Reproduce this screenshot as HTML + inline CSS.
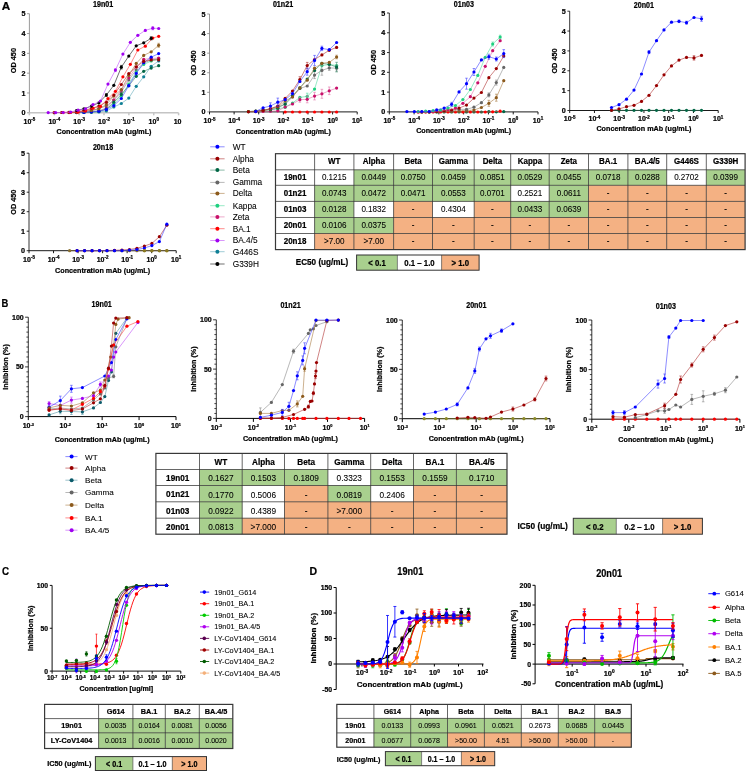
<!DOCTYPE html>
<html><head><meta charset="utf-8"><style>
html,body{margin:0;padding:0;background:#fff;}
svg{display:block;font-family:"Liberation Sans", sans-serif;will-change:transform;}
</style></head><body>
<svg width="747" height="772" viewBox="0 0 747 772">
<rect width="747" height="772" fill="#fff"/>
<text x="0.00" y="0.00" font-size="10.5" text-anchor="start" font-weight="bold" fill="#000" stroke="#000" stroke-width="0.22" transform="translate(1.80 10.00) scale(1.12 1)">A</text>
<text x="0.00" y="0.00" font-size="10.5" text-anchor="start" font-weight="bold" fill="#000" stroke="#000" stroke-width="0.22" transform="translate(1.60 306.80) scale(0.9 1)">B</text>
<text x="0.00" y="0.00" font-size="10.5" text-anchor="start" font-weight="bold" fill="#000" stroke="#000" stroke-width="0.22" transform="translate(2.00 575.20) scale(0.93 1)">C</text>
<text x="309.60" y="575.20" font-size="10.5" text-anchor="start" font-weight="bold" fill="#000" stroke="#000" stroke-width="0.22">D</text>
<line x1="29.40" y1="112.80" x2="29.40" y2="13.70" stroke="#808080" stroke-width="0.8"/>
<line x1="27.10" y1="112.80" x2="29.40" y2="112.80" stroke="#808080" stroke-width="0.8"/>
<text x="25.40" y="115.39" font-size="7.2" text-anchor="end" font-weight="bold" fill="#000" stroke="#000" stroke-width="0.22">0</text>
<line x1="27.10" y1="92.98" x2="29.40" y2="92.98" stroke="#808080" stroke-width="0.8"/>
<text x="25.40" y="95.57" font-size="7.2" text-anchor="end" font-weight="bold" fill="#000" stroke="#000" stroke-width="0.22">1</text>
<line x1="27.10" y1="73.16" x2="29.40" y2="73.16" stroke="#808080" stroke-width="0.8"/>
<text x="25.40" y="75.75" font-size="7.2" text-anchor="end" font-weight="bold" fill="#000" stroke="#000" stroke-width="0.22">2</text>
<line x1="27.10" y1="53.34" x2="29.40" y2="53.34" stroke="#808080" stroke-width="0.8"/>
<text x="25.40" y="55.93" font-size="7.2" text-anchor="end" font-weight="bold" fill="#000" stroke="#000" stroke-width="0.22">3</text>
<line x1="27.10" y1="33.52" x2="29.40" y2="33.52" stroke="#808080" stroke-width="0.8"/>
<text x="25.40" y="36.11" font-size="7.2" text-anchor="end" font-weight="bold" fill="#000" stroke="#000" stroke-width="0.22">4</text>
<line x1="27.10" y1="13.70" x2="29.40" y2="13.70" stroke="#808080" stroke-width="0.8"/>
<text x="25.40" y="16.29" font-size="7.2" text-anchor="end" font-weight="bold" fill="#000" stroke="#000" stroke-width="0.22">5</text>
<line x1="29.40" y1="112.80" x2="178.60" y2="112.80" stroke="#c4c4c4" stroke-width="1.5"/>
<line x1="29.40" y1="112.80" x2="29.40" y2="115.30" stroke="#c4c4c4" stroke-width="1.5"/>
<text x="29.40" y="123.60" font-size="7.0" text-anchor="middle" font-weight="bold" fill="#000" stroke="#000" stroke-width="0.22">10<tspan dy="-2.31" font-size="4.48">-5</tspan></text>
<line x1="54.27" y1="112.80" x2="54.27" y2="115.30" stroke="#c4c4c4" stroke-width="1.5"/>
<text x="54.27" y="123.60" font-size="7.0" text-anchor="middle" font-weight="bold" fill="#000" stroke="#000" stroke-width="0.22">10<tspan dy="-2.31" font-size="4.48">-4</tspan></text>
<line x1="79.13" y1="112.80" x2="79.13" y2="115.30" stroke="#c4c4c4" stroke-width="1.5"/>
<text x="79.13" y="123.60" font-size="7.0" text-anchor="middle" font-weight="bold" fill="#000" stroke="#000" stroke-width="0.22">10<tspan dy="-2.31" font-size="4.48">-3</tspan></text>
<line x1="104.00" y1="112.80" x2="104.00" y2="115.30" stroke="#c4c4c4" stroke-width="1.5"/>
<text x="104.00" y="123.60" font-size="7.0" text-anchor="middle" font-weight="bold" fill="#000" stroke="#000" stroke-width="0.22">10<tspan dy="-2.31" font-size="4.48">-2</tspan></text>
<line x1="128.87" y1="112.80" x2="128.87" y2="115.30" stroke="#c4c4c4" stroke-width="1.5"/>
<text x="128.87" y="123.60" font-size="7.0" text-anchor="middle" font-weight="bold" fill="#000" stroke="#000" stroke-width="0.22">10<tspan dy="-2.31" font-size="4.48">-1</tspan></text>
<line x1="153.73" y1="112.80" x2="153.73" y2="115.30" stroke="#c4c4c4" stroke-width="1.5"/>
<text x="153.73" y="123.60" font-size="7.0" text-anchor="middle" font-weight="bold" fill="#000" stroke="#000" stroke-width="0.22">10<tspan dy="-2.31" font-size="4.48">0</tspan></text>
<line x1="178.60" y1="112.80" x2="178.60" y2="115.30" stroke="#c4c4c4" stroke-width="1.5"/>
<text x="177.60" y="123.60" font-size="7.0" text-anchor="middle" font-weight="bold" fill="#000" stroke="#000" stroke-width="0.22">10</text>
<text x="104.00" y="133.60" font-size="7.2" text-anchor="middle" font-weight="bold" fill="#000" stroke="#000" stroke-width="0.22">Concentration mAb (ug/mL)</text>
<text x="0.00" y="0.00" font-size="8.4" text-anchor="middle" font-weight="bold" fill="#000" stroke="#000" stroke-width="0.22" transform="translate(103.10 7.20) scale(0.85 1)">19n01</text>
<text x="16.20" y="60.60" font-size="7.3" text-anchor="middle" font-weight="bold" fill="#000" stroke="#000" stroke-width="0.22" transform="rotate(-90 16.20 60.60)">OD 450</text>
<line x1="209.50" y1="111.90" x2="209.50" y2="14.00" stroke="#808080" stroke-width="0.8"/>
<line x1="207.20" y1="111.90" x2="209.50" y2="111.90" stroke="#808080" stroke-width="0.8"/>
<text x="205.50" y="114.49" font-size="7.2" text-anchor="end" font-weight="bold" fill="#000" stroke="#000" stroke-width="0.22">0</text>
<line x1="207.20" y1="92.32" x2="209.50" y2="92.32" stroke="#808080" stroke-width="0.8"/>
<text x="205.50" y="94.91" font-size="7.2" text-anchor="end" font-weight="bold" fill="#000" stroke="#000" stroke-width="0.22">1</text>
<line x1="207.20" y1="72.74" x2="209.50" y2="72.74" stroke="#808080" stroke-width="0.8"/>
<text x="205.50" y="75.33" font-size="7.2" text-anchor="end" font-weight="bold" fill="#000" stroke="#000" stroke-width="0.22">2</text>
<line x1="207.20" y1="53.16" x2="209.50" y2="53.16" stroke="#808080" stroke-width="0.8"/>
<text x="205.50" y="55.75" font-size="7.2" text-anchor="end" font-weight="bold" fill="#000" stroke="#000" stroke-width="0.22">3</text>
<line x1="207.20" y1="33.58" x2="209.50" y2="33.58" stroke="#808080" stroke-width="0.8"/>
<text x="205.50" y="36.17" font-size="7.2" text-anchor="end" font-weight="bold" fill="#000" stroke="#000" stroke-width="0.22">4</text>
<line x1="207.20" y1="14.00" x2="209.50" y2="14.00" stroke="#808080" stroke-width="0.8"/>
<text x="205.50" y="16.59" font-size="7.2" text-anchor="end" font-weight="bold" fill="#000" stroke="#000" stroke-width="0.22">5</text>
<line x1="209.50" y1="111.90" x2="357.20" y2="111.90" stroke="#000" stroke-width="0.9"/>
<line x1="209.50" y1="111.90" x2="209.50" y2="114.40" stroke="#000" stroke-width="0.9"/>
<text x="209.50" y="123.40" font-size="7.0" text-anchor="middle" font-weight="bold" fill="#000" stroke="#000" stroke-width="0.22">10<tspan dy="-2.31" font-size="4.48">-5</tspan></text>
<line x1="234.12" y1="111.90" x2="234.12" y2="114.40" stroke="#000" stroke-width="0.9"/>
<text x="234.12" y="123.40" font-size="7.0" text-anchor="middle" font-weight="bold" fill="#000" stroke="#000" stroke-width="0.22">10<tspan dy="-2.31" font-size="4.48">-4</tspan></text>
<line x1="258.73" y1="111.90" x2="258.73" y2="114.40" stroke="#000" stroke-width="0.9"/>
<text x="258.73" y="123.40" font-size="7.0" text-anchor="middle" font-weight="bold" fill="#000" stroke="#000" stroke-width="0.22">10<tspan dy="-2.31" font-size="4.48">-3</tspan></text>
<line x1="283.35" y1="111.90" x2="283.35" y2="114.40" stroke="#000" stroke-width="0.9"/>
<text x="283.35" y="123.40" font-size="7.0" text-anchor="middle" font-weight="bold" fill="#000" stroke="#000" stroke-width="0.22">10<tspan dy="-2.31" font-size="4.48">-2</tspan></text>
<line x1="307.97" y1="111.90" x2="307.97" y2="114.40" stroke="#000" stroke-width="0.9"/>
<text x="307.97" y="123.40" font-size="7.0" text-anchor="middle" font-weight="bold" fill="#000" stroke="#000" stroke-width="0.22">10<tspan dy="-2.31" font-size="4.48">-1</tspan></text>
<line x1="332.58" y1="111.90" x2="332.58" y2="114.40" stroke="#000" stroke-width="0.9"/>
<text x="332.58" y="123.40" font-size="7.0" text-anchor="middle" font-weight="bold" fill="#000" stroke="#000" stroke-width="0.22">10<tspan dy="-2.31" font-size="4.48">0</tspan></text>
<line x1="357.20" y1="111.90" x2="357.20" y2="114.40" stroke="#000" stroke-width="0.9"/>
<text x="357.20" y="123.40" font-size="7.0" text-anchor="middle" font-weight="bold" fill="#000" stroke="#000" stroke-width="0.22">10<tspan dy="-2.31" font-size="4.48">1</tspan></text>
<text x="283.35" y="134.10" font-size="7.2" text-anchor="middle" font-weight="bold" fill="#000" stroke="#000" stroke-width="0.22">Concentration mAb (ug/mL)</text>
<text x="0.00" y="0.00" font-size="8.4" text-anchor="middle" font-weight="bold" fill="#000" stroke="#000" stroke-width="0.22" transform="translate(283.00 7.20) scale(0.85 1)">01n21</text>
<text x="196.30" y="63.00" font-size="7.3" text-anchor="middle" font-weight="bold" fill="#000" stroke="#000" stroke-width="0.22" transform="rotate(-90 196.30 63.00)">OD 450</text>
<line x1="389.30" y1="111.90" x2="389.30" y2="13.00" stroke="#000" stroke-width="0.8"/>
<line x1="387.00" y1="111.90" x2="389.30" y2="111.90" stroke="#000" stroke-width="0.8"/>
<text x="385.30" y="114.49" font-size="7.2" text-anchor="end" font-weight="bold" fill="#000" stroke="#000" stroke-width="0.22">0</text>
<line x1="387.00" y1="92.12" x2="389.30" y2="92.12" stroke="#000" stroke-width="0.8"/>
<text x="385.30" y="94.71" font-size="7.2" text-anchor="end" font-weight="bold" fill="#000" stroke="#000" stroke-width="0.22">1</text>
<line x1="387.00" y1="72.34" x2="389.30" y2="72.34" stroke="#000" stroke-width="0.8"/>
<text x="385.30" y="74.93" font-size="7.2" text-anchor="end" font-weight="bold" fill="#000" stroke="#000" stroke-width="0.22">2</text>
<line x1="387.00" y1="52.56" x2="389.30" y2="52.56" stroke="#000" stroke-width="0.8"/>
<text x="385.30" y="55.15" font-size="7.2" text-anchor="end" font-weight="bold" fill="#000" stroke="#000" stroke-width="0.22">3</text>
<line x1="387.00" y1="32.78" x2="389.30" y2="32.78" stroke="#000" stroke-width="0.8"/>
<text x="385.30" y="35.37" font-size="7.2" text-anchor="end" font-weight="bold" fill="#000" stroke="#000" stroke-width="0.22">4</text>
<line x1="387.00" y1="13.00" x2="389.30" y2="13.00" stroke="#000" stroke-width="0.8"/>
<text x="385.30" y="15.59" font-size="7.2" text-anchor="end" font-weight="bold" fill="#000" stroke="#000" stroke-width="0.22">5</text>
<line x1="389.30" y1="111.90" x2="538.00" y2="111.90" stroke="#000" stroke-width="0.9"/>
<line x1="389.30" y1="111.90" x2="389.30" y2="114.40" stroke="#000" stroke-width="0.9"/>
<text x="389.30" y="122.70" font-size="7.0" text-anchor="middle" font-weight="bold" fill="#000" stroke="#000" stroke-width="0.22">10<tspan dy="-2.31" font-size="4.48">-5</tspan></text>
<line x1="414.08" y1="111.90" x2="414.08" y2="114.40" stroke="#000" stroke-width="0.9"/>
<text x="414.08" y="122.70" font-size="7.0" text-anchor="middle" font-weight="bold" fill="#000" stroke="#000" stroke-width="0.22">10<tspan dy="-2.31" font-size="4.48">-4</tspan></text>
<line x1="438.87" y1="111.90" x2="438.87" y2="114.40" stroke="#000" stroke-width="0.9"/>
<text x="438.87" y="122.70" font-size="7.0" text-anchor="middle" font-weight="bold" fill="#000" stroke="#000" stroke-width="0.22">10<tspan dy="-2.31" font-size="4.48">-3</tspan></text>
<line x1="463.65" y1="111.90" x2="463.65" y2="114.40" stroke="#000" stroke-width="0.9"/>
<text x="463.65" y="122.70" font-size="7.0" text-anchor="middle" font-weight="bold" fill="#000" stroke="#000" stroke-width="0.22">10<tspan dy="-2.31" font-size="4.48">-2</tspan></text>
<line x1="488.43" y1="111.90" x2="488.43" y2="114.40" stroke="#000" stroke-width="0.9"/>
<text x="488.43" y="122.70" font-size="7.0" text-anchor="middle" font-weight="bold" fill="#000" stroke="#000" stroke-width="0.22">10<tspan dy="-2.31" font-size="4.48">-1</tspan></text>
<line x1="513.22" y1="111.90" x2="513.22" y2="114.40" stroke="#000" stroke-width="0.9"/>
<text x="513.22" y="122.70" font-size="7.0" text-anchor="middle" font-weight="bold" fill="#000" stroke="#000" stroke-width="0.22">10<tspan dy="-2.31" font-size="4.48">0</tspan></text>
<line x1="538.00" y1="111.90" x2="538.00" y2="114.40" stroke="#000" stroke-width="0.9"/>
<text x="538.00" y="122.70" font-size="7.0" text-anchor="middle" font-weight="bold" fill="#000" stroke="#000" stroke-width="0.22">10<tspan dy="-2.31" font-size="4.48">1</tspan></text>
<text x="463.65" y="133.00" font-size="7.2" text-anchor="middle" font-weight="bold" fill="#000" stroke="#000" stroke-width="0.22">Concentration mAb (ug/mL)</text>
<text x="0.00" y="0.00" font-size="8.4" text-anchor="middle" font-weight="bold" fill="#000" stroke="#000" stroke-width="0.22" transform="translate(463.90 7.20) scale(0.85 1)">01n03</text>
<text x="376.10" y="62.60" font-size="7.3" text-anchor="middle" font-weight="bold" fill="#000" stroke="#000" stroke-width="0.22" transform="rotate(-90 376.10 62.60)">OD 450</text>
<line x1="569.70" y1="110.50" x2="569.70" y2="11.20" stroke="#000" stroke-width="0.8"/>
<line x1="567.40" y1="110.50" x2="569.70" y2="110.50" stroke="#000" stroke-width="0.8"/>
<text x="565.70" y="113.09" font-size="7.2" text-anchor="end" font-weight="bold" fill="#000" stroke="#000" stroke-width="0.22">0</text>
<line x1="567.40" y1="90.64" x2="569.70" y2="90.64" stroke="#000" stroke-width="0.8"/>
<text x="565.70" y="93.23" font-size="7.2" text-anchor="end" font-weight="bold" fill="#000" stroke="#000" stroke-width="0.22">1</text>
<line x1="567.40" y1="70.78" x2="569.70" y2="70.78" stroke="#000" stroke-width="0.8"/>
<text x="565.70" y="73.37" font-size="7.2" text-anchor="end" font-weight="bold" fill="#000" stroke="#000" stroke-width="0.22">2</text>
<line x1="567.40" y1="50.92" x2="569.70" y2="50.92" stroke="#000" stroke-width="0.8"/>
<text x="565.70" y="53.51" font-size="7.2" text-anchor="end" font-weight="bold" fill="#000" stroke="#000" stroke-width="0.22">3</text>
<line x1="567.40" y1="31.06" x2="569.70" y2="31.06" stroke="#000" stroke-width="0.8"/>
<text x="565.70" y="33.65" font-size="7.2" text-anchor="end" font-weight="bold" fill="#000" stroke="#000" stroke-width="0.22">4</text>
<line x1="567.40" y1="11.20" x2="569.70" y2="11.20" stroke="#000" stroke-width="0.8"/>
<text x="565.70" y="13.79" font-size="7.2" text-anchor="end" font-weight="bold" fill="#000" stroke="#000" stroke-width="0.22">5</text>
<line x1="569.70" y1="110.50" x2="718.20" y2="110.50" stroke="#000" stroke-width="0.9"/>
<line x1="569.70" y1="110.50" x2="569.70" y2="113.00" stroke="#000" stroke-width="0.9"/>
<text x="569.70" y="121.10" font-size="7.0" text-anchor="middle" font-weight="bold" fill="#000" stroke="#000" stroke-width="0.22">10<tspan dy="-2.31" font-size="4.48">-5</tspan></text>
<line x1="594.45" y1="110.50" x2="594.45" y2="113.00" stroke="#000" stroke-width="0.9"/>
<text x="594.45" y="121.10" font-size="7.0" text-anchor="middle" font-weight="bold" fill="#000" stroke="#000" stroke-width="0.22">10<tspan dy="-2.31" font-size="4.48">-4</tspan></text>
<line x1="619.20" y1="110.50" x2="619.20" y2="113.00" stroke="#000" stroke-width="0.9"/>
<text x="619.20" y="121.10" font-size="7.0" text-anchor="middle" font-weight="bold" fill="#000" stroke="#000" stroke-width="0.22">10<tspan dy="-2.31" font-size="4.48">-3</tspan></text>
<line x1="643.95" y1="110.50" x2="643.95" y2="113.00" stroke="#000" stroke-width="0.9"/>
<text x="643.95" y="121.10" font-size="7.0" text-anchor="middle" font-weight="bold" fill="#000" stroke="#000" stroke-width="0.22">10<tspan dy="-2.31" font-size="4.48">-2</tspan></text>
<line x1="668.70" y1="110.50" x2="668.70" y2="113.00" stroke="#000" stroke-width="0.9"/>
<text x="668.70" y="121.10" font-size="7.0" text-anchor="middle" font-weight="bold" fill="#000" stroke="#000" stroke-width="0.22">10<tspan dy="-2.31" font-size="4.48">-1</tspan></text>
<line x1="693.45" y1="110.50" x2="693.45" y2="113.00" stroke="#000" stroke-width="0.9"/>
<text x="693.45" y="121.10" font-size="7.0" text-anchor="middle" font-weight="bold" fill="#000" stroke="#000" stroke-width="0.22">10<tspan dy="-2.31" font-size="4.48">0</tspan></text>
<line x1="718.20" y1="110.50" x2="718.20" y2="113.00" stroke="#000" stroke-width="0.9"/>
<text x="718.20" y="121.10" font-size="7.0" text-anchor="middle" font-weight="bold" fill="#000" stroke="#000" stroke-width="0.22">10<tspan dy="-2.31" font-size="4.48">1</tspan></text>
<text x="643.95" y="130.90" font-size="7.2" text-anchor="middle" font-weight="bold" fill="#000" stroke="#000" stroke-width="0.22">Concentration mAb (ug/mL)</text>
<text x="0.00" y="0.00" font-size="8.4" text-anchor="middle" font-weight="bold" fill="#000" stroke="#000" stroke-width="0.22" transform="translate(643.90 7.80) scale(0.85 1)">20n01</text>
<text x="556.50" y="61.00" font-size="7.3" text-anchor="middle" font-weight="bold" fill="#000" stroke="#000" stroke-width="0.22" transform="rotate(-90 556.50 61.00)">OD 450</text>
<line x1="29.00" y1="250.70" x2="29.00" y2="153.20" stroke="#000" stroke-width="0.8"/>
<line x1="26.70" y1="250.70" x2="29.00" y2="250.70" stroke="#000" stroke-width="0.8"/>
<text x="25.00" y="253.29" font-size="7.2" text-anchor="end" font-weight="bold" fill="#000" stroke="#000" stroke-width="0.22">0</text>
<line x1="26.70" y1="231.20" x2="29.00" y2="231.20" stroke="#000" stroke-width="0.8"/>
<text x="25.00" y="233.79" font-size="7.2" text-anchor="end" font-weight="bold" fill="#000" stroke="#000" stroke-width="0.22">1</text>
<line x1="26.70" y1="211.70" x2="29.00" y2="211.70" stroke="#000" stroke-width="0.8"/>
<text x="25.00" y="214.29" font-size="7.2" text-anchor="end" font-weight="bold" fill="#000" stroke="#000" stroke-width="0.22">2</text>
<line x1="26.70" y1="192.20" x2="29.00" y2="192.20" stroke="#000" stroke-width="0.8"/>
<text x="25.00" y="194.79" font-size="7.2" text-anchor="end" font-weight="bold" fill="#000" stroke="#000" stroke-width="0.22">3</text>
<line x1="26.70" y1="172.70" x2="29.00" y2="172.70" stroke="#000" stroke-width="0.8"/>
<text x="25.00" y="175.29" font-size="7.2" text-anchor="end" font-weight="bold" fill="#000" stroke="#000" stroke-width="0.22">4</text>
<line x1="26.70" y1="153.20" x2="29.00" y2="153.20" stroke="#000" stroke-width="0.8"/>
<text x="25.00" y="155.79" font-size="7.2" text-anchor="end" font-weight="bold" fill="#000" stroke="#000" stroke-width="0.22">5</text>
<line x1="29.00" y1="250.70" x2="176.20" y2="250.70" stroke="#000" stroke-width="0.9"/>
<line x1="29.00" y1="250.70" x2="29.00" y2="253.20" stroke="#000" stroke-width="0.9"/>
<text x="29.00" y="261.50" font-size="7.0" text-anchor="middle" font-weight="bold" fill="#000" stroke="#000" stroke-width="0.22">10<tspan dy="-2.31" font-size="4.48">-5</tspan></text>
<line x1="53.53" y1="250.70" x2="53.53" y2="253.20" stroke="#000" stroke-width="0.9"/>
<text x="53.53" y="261.50" font-size="7.0" text-anchor="middle" font-weight="bold" fill="#000" stroke="#000" stroke-width="0.22">10<tspan dy="-2.31" font-size="4.48">-4</tspan></text>
<line x1="78.07" y1="250.70" x2="78.07" y2="253.20" stroke="#000" stroke-width="0.9"/>
<text x="78.07" y="261.50" font-size="7.0" text-anchor="middle" font-weight="bold" fill="#000" stroke="#000" stroke-width="0.22">10<tspan dy="-2.31" font-size="4.48">-3</tspan></text>
<line x1="102.60" y1="250.70" x2="102.60" y2="253.20" stroke="#000" stroke-width="0.9"/>
<text x="102.60" y="261.50" font-size="7.0" text-anchor="middle" font-weight="bold" fill="#000" stroke="#000" stroke-width="0.22">10<tspan dy="-2.31" font-size="4.48">-2</tspan></text>
<line x1="127.13" y1="250.70" x2="127.13" y2="253.20" stroke="#000" stroke-width="0.9"/>
<text x="127.13" y="261.50" font-size="7.0" text-anchor="middle" font-weight="bold" fill="#000" stroke="#000" stroke-width="0.22">10<tspan dy="-2.31" font-size="4.48">-1</tspan></text>
<line x1="151.67" y1="250.70" x2="151.67" y2="253.20" stroke="#000" stroke-width="0.9"/>
<text x="151.67" y="261.50" font-size="7.0" text-anchor="middle" font-weight="bold" fill="#000" stroke="#000" stroke-width="0.22">10<tspan dy="-2.31" font-size="4.48">0</tspan></text>
<line x1="176.20" y1="250.70" x2="176.20" y2="253.20" stroke="#000" stroke-width="0.9"/>
<text x="176.20" y="261.50" font-size="7.0" text-anchor="middle" font-weight="bold" fill="#000" stroke="#000" stroke-width="0.22">10<tspan dy="-2.31" font-size="4.48">1</tspan></text>
<text x="102.60" y="273.40" font-size="7.2" text-anchor="middle" font-weight="bold" fill="#000" stroke="#000" stroke-width="0.22">Concentration mAb (ug/mL)</text>
<text x="0.00" y="0.00" font-size="8.4" text-anchor="middle" font-weight="bold" fill="#000" stroke="#000" stroke-width="0.22" transform="translate(103.00 150.20) scale(0.85 1)">20n18</text>
<text x="15.80" y="202.20" font-size="7.3" text-anchor="middle" font-weight="bold" fill="#000" stroke="#000" stroke-width="0.22" transform="rotate(-90 15.80 202.20)">OD 450</text>
<line x1="210.20" y1="146.80" x2="224.60" y2="146.80" stroke="#4040ff" stroke-width="0.6"/>
<circle cx="217.40" cy="146.80" r="2.0" fill="#0000ff"/>
<text x="232.70" y="149.79" font-size="8.3" text-anchor="start" font-weight="normal" fill="#000" stroke="#000" stroke-width="0.08">WT</text>
<line x1="210.20" y1="158.80" x2="224.60" y2="158.80" stroke="#b03030" stroke-width="0.6"/>
<circle cx="217.40" cy="158.80" r="2.0" fill="#990000"/>
<text x="232.70" y="161.79" font-size="8.3" text-anchor="start" font-weight="normal" fill="#000" stroke="#000" stroke-width="0.08">Alpha</text>
<line x1="210.20" y1="170.10" x2="224.60" y2="170.10" stroke="#3c8c6c" stroke-width="0.6"/>
<circle cx="217.40" cy="170.10" r="2.0" fill="#006644"/>
<text x="232.70" y="173.09" font-size="8.3" text-anchor="start" font-weight="normal" fill="#000" stroke="#000" stroke-width="0.08">Beta</text>
<line x1="210.20" y1="182.40" x2="224.60" y2="182.40" stroke="#888888" stroke-width="0.6"/>
<circle cx="217.40" cy="182.40" r="2.0" fill="#666666"/>
<text x="232.70" y="185.39" font-size="8.3" text-anchor="start" font-weight="normal" fill="#000" stroke="#000" stroke-width="0.08">Gamma</text>
<line x1="210.20" y1="193.40" x2="224.60" y2="193.40" stroke="#aa7c44" stroke-width="0.6"/>
<circle cx="217.40" cy="193.40" r="2.0" fill="#8c5a1c"/>
<text x="232.70" y="196.39" font-size="8.3" text-anchor="start" font-weight="normal" fill="#000" stroke="#000" stroke-width="0.08">Delta</text>
<line x1="210.20" y1="205.70" x2="224.60" y2="205.70" stroke="#50dca0" stroke-width="0.6"/>
<circle cx="217.40" cy="205.70" r="2.0" fill="#1fd07f"/>
<text x="232.70" y="208.69" font-size="8.3" text-anchor="start" font-weight="normal" fill="#000" stroke="#000" stroke-width="0.08">Kappa</text>
<line x1="210.20" y1="216.90" x2="224.60" y2="216.90" stroke="#e070a8" stroke-width="0.6"/>
<circle cx="217.40" cy="216.90" r="2.0" fill="#c8106a"/>
<text x="232.70" y="219.89" font-size="8.3" text-anchor="start" font-weight="normal" fill="#000" stroke="#000" stroke-width="0.08">Zeta</text>
<line x1="210.20" y1="228.70" x2="224.60" y2="228.70" stroke="#ff4040" stroke-width="0.6"/>
<circle cx="217.40" cy="228.70" r="2.0" fill="#ff0000"/>
<text x="232.70" y="231.69" font-size="8.3" text-anchor="start" font-weight="normal" fill="#000" stroke="#000" stroke-width="0.08">BA.1</text>
<line x1="210.20" y1="240.50" x2="224.60" y2="240.50" stroke="#c050f8" stroke-width="0.6"/>
<circle cx="217.40" cy="240.50" r="2.0" fill="#a000f0"/>
<text x="232.70" y="243.49" font-size="8.3" text-anchor="start" font-weight="normal" fill="#000" stroke="#000" stroke-width="0.08">BA.4/5</text>
<line x1="210.20" y1="251.70" x2="224.60" y2="251.70" stroke="#60aabb" stroke-width="0.6"/>
<circle cx="217.40" cy="251.70" r="2.0" fill="#0f7f95"/>
<text x="232.70" y="254.69" font-size="8.3" text-anchor="start" font-weight="normal" fill="#000" stroke="#000" stroke-width="0.08">G446S</text>
<line x1="210.20" y1="264.00" x2="224.60" y2="264.00" stroke="#111111" stroke-width="0.6"/>
<circle cx="217.40" cy="264.00" r="2.0" fill="#000000"/>
<text x="232.70" y="266.99" font-size="8.3" text-anchor="start" font-weight="normal" fill="#000" stroke="#000" stroke-width="0.08">G339H</text>
<text x="0.00" y="0.00" font-size="8.42" text-anchor="middle" font-weight="bold" fill="#000" stroke="#000" stroke-width="0.22" transform="translate(334.25 164.34) scale(0.95 1)">WT</text>
<text x="0.00" y="0.00" font-size="8.42" text-anchor="middle" font-weight="bold" fill="#000" stroke="#000" stroke-width="0.22" transform="translate(373.75 164.34) scale(0.95 1)">Alpha</text>
<text x="0.00" y="0.00" font-size="8.42" text-anchor="middle" font-weight="bold" fill="#000" stroke="#000" stroke-width="0.22" transform="translate(413.05 164.34) scale(0.95 1)">Beta</text>
<text x="0.00" y="0.00" font-size="8.42" text-anchor="middle" font-weight="bold" fill="#000" stroke="#000" stroke-width="0.22" transform="translate(453.35 164.34) scale(0.95 1)">Gamma</text>
<text x="0.00" y="0.00" font-size="8.42" text-anchor="middle" font-weight="bold" fill="#000" stroke="#000" stroke-width="0.22" transform="translate(492.45 164.34) scale(0.95 1)">Delta</text>
<text x="0.00" y="0.00" font-size="8.42" text-anchor="middle" font-weight="bold" fill="#000" stroke="#000" stroke-width="0.22" transform="translate(529.95 164.34) scale(0.95 1)">Kappa</text>
<text x="0.00" y="0.00" font-size="8.42" text-anchor="middle" font-weight="bold" fill="#000" stroke="#000" stroke-width="0.22" transform="translate(568.85 164.34) scale(0.95 1)">Zeta</text>
<text x="0.00" y="0.00" font-size="8.42" text-anchor="middle" font-weight="bold" fill="#000" stroke="#000" stroke-width="0.22" transform="translate(608.20 164.34) scale(0.95 1)">BA.1</text>
<text x="0.00" y="0.00" font-size="8.42" text-anchor="middle" font-weight="bold" fill="#000" stroke="#000" stroke-width="0.22" transform="translate(647.30 164.34) scale(0.95 1)">BA.4/5</text>
<text x="0.00" y="0.00" font-size="8.42" text-anchor="middle" font-weight="bold" fill="#000" stroke="#000" stroke-width="0.22" transform="translate(686.50 164.34) scale(0.95 1)">G446S</text>
<text x="0.00" y="0.00" font-size="8.42" text-anchor="middle" font-weight="bold" fill="#000" stroke="#000" stroke-width="0.22" transform="translate(725.70 164.34) scale(0.95 1)">G339H</text>
<text x="0.00" y="0.00" font-size="8.42" text-anchor="middle" font-weight="bold" fill="#000" stroke="#000" stroke-width="0.22" transform="translate(295.05 180.14) scale(0.95 1)">19n01</text>
<text x="0.00" y="0.00" font-size="9.0" text-anchor="middle" font-weight="normal" fill="#000" stroke="#000" stroke-width="0.08" transform="translate(334.25 180.34) scale(0.9 1)">0.1215</text>
<rect x="353.90" y="169.80" width="39.70" height="15.50" fill="#a9d08e" stroke="none" stroke-width="0.8"/>
<text x="0.00" y="0.00" font-size="9.0" text-anchor="middle" font-weight="normal" fill="#000" stroke="#000" stroke-width="0.08" transform="translate(373.75 180.34) scale(0.9 1)">0.0449</text>
<rect x="393.60" y="169.80" width="38.90" height="15.50" fill="#a9d08e" stroke="none" stroke-width="0.8"/>
<text x="0.00" y="0.00" font-size="9.0" text-anchor="middle" font-weight="normal" fill="#000" stroke="#000" stroke-width="0.08" transform="translate(413.05 180.34) scale(0.9 1)">0.0750</text>
<rect x="432.50" y="169.80" width="41.70" height="15.50" fill="#a9d08e" stroke="none" stroke-width="0.8"/>
<text x="0.00" y="0.00" font-size="9.0" text-anchor="middle" font-weight="normal" fill="#000" stroke="#000" stroke-width="0.08" transform="translate(453.35 180.34) scale(0.9 1)">0.0459</text>
<rect x="474.20" y="169.80" width="36.50" height="15.50" fill="#a9d08e" stroke="none" stroke-width="0.8"/>
<text x="0.00" y="0.00" font-size="9.0" text-anchor="middle" font-weight="normal" fill="#000" stroke="#000" stroke-width="0.08" transform="translate(492.45 180.34) scale(0.9 1)">0.0851</text>
<rect x="510.70" y="169.80" width="38.50" height="15.50" fill="#a9d08e" stroke="none" stroke-width="0.8"/>
<text x="0.00" y="0.00" font-size="9.0" text-anchor="middle" font-weight="normal" fill="#000" stroke="#000" stroke-width="0.08" transform="translate(529.95 180.34) scale(0.9 1)">0.0529</text>
<rect x="549.20" y="169.80" width="39.30" height="15.50" fill="#a9d08e" stroke="none" stroke-width="0.8"/>
<text x="0.00" y="0.00" font-size="9.0" text-anchor="middle" font-weight="normal" fill="#000" stroke="#000" stroke-width="0.08" transform="translate(568.85 180.34) scale(0.9 1)">0.0455</text>
<rect x="588.50" y="169.80" width="39.40" height="15.50" fill="#a9d08e" stroke="none" stroke-width="0.8"/>
<text x="0.00" y="0.00" font-size="9.0" text-anchor="middle" font-weight="normal" fill="#000" stroke="#000" stroke-width="0.08" transform="translate(608.20 180.34) scale(0.9 1)">0.0718</text>
<rect x="627.90" y="169.80" width="38.80" height="15.50" fill="#a9d08e" stroke="none" stroke-width="0.8"/>
<text x="0.00" y="0.00" font-size="9.0" text-anchor="middle" font-weight="normal" fill="#000" stroke="#000" stroke-width="0.08" transform="translate(647.30 180.34) scale(0.9 1)">0.0288</text>
<text x="0.00" y="0.00" font-size="9.0" text-anchor="middle" font-weight="normal" fill="#000" stroke="#000" stroke-width="0.08" transform="translate(686.50 180.34) scale(0.9 1)">0.2702</text>
<rect x="706.30" y="169.80" width="38.80" height="15.50" fill="#a9d08e" stroke="none" stroke-width="0.8"/>
<text x="0.00" y="0.00" font-size="9.0" text-anchor="middle" font-weight="normal" fill="#000" stroke="#000" stroke-width="0.08" transform="translate(725.70 180.34) scale(0.9 1)">0.0399</text>
<text x="0.00" y="0.00" font-size="8.42" text-anchor="middle" font-weight="bold" fill="#000" stroke="#000" stroke-width="0.22" transform="translate(295.05 195.94) scale(0.95 1)">01n21</text>
<rect x="314.60" y="185.30" width="39.30" height="16.10" fill="#a9d08e" stroke="none" stroke-width="0.8"/>
<text x="0.00" y="0.00" font-size="9.0" text-anchor="middle" font-weight="normal" fill="#000" stroke="#000" stroke-width="0.08" transform="translate(334.25 196.15) scale(0.9 1)">0.0743</text>
<rect x="353.90" y="185.30" width="39.70" height="16.10" fill="#a9d08e" stroke="none" stroke-width="0.8"/>
<text x="0.00" y="0.00" font-size="9.0" text-anchor="middle" font-weight="normal" fill="#000" stroke="#000" stroke-width="0.08" transform="translate(373.75 196.15) scale(0.9 1)">0.0472</text>
<rect x="393.60" y="185.30" width="38.90" height="16.10" fill="#a9d08e" stroke="none" stroke-width="0.8"/>
<text x="0.00" y="0.00" font-size="9.0" text-anchor="middle" font-weight="normal" fill="#000" stroke="#000" stroke-width="0.08" transform="translate(413.05 196.15) scale(0.9 1)">0.0471</text>
<rect x="432.50" y="185.30" width="41.70" height="16.10" fill="#a9d08e" stroke="none" stroke-width="0.8"/>
<text x="0.00" y="0.00" font-size="9.0" text-anchor="middle" font-weight="normal" fill="#000" stroke="#000" stroke-width="0.08" transform="translate(453.35 196.15) scale(0.9 1)">0.0553</text>
<rect x="474.20" y="185.30" width="36.50" height="16.10" fill="#a9d08e" stroke="none" stroke-width="0.8"/>
<text x="0.00" y="0.00" font-size="9.0" text-anchor="middle" font-weight="normal" fill="#000" stroke="#000" stroke-width="0.08" transform="translate(492.45 196.15) scale(0.9 1)">0.0701</text>
<text x="0.00" y="0.00" font-size="9.0" text-anchor="middle" font-weight="normal" fill="#000" stroke="#000" stroke-width="0.08" transform="translate(529.95 196.15) scale(0.9 1)">0.2521</text>
<rect x="549.20" y="185.30" width="39.30" height="16.10" fill="#a9d08e" stroke="none" stroke-width="0.8"/>
<text x="0.00" y="0.00" font-size="9.0" text-anchor="middle" font-weight="normal" fill="#000" stroke="#000" stroke-width="0.08" transform="translate(568.85 196.15) scale(0.9 1)">0.0611</text>
<rect x="588.50" y="185.30" width="39.40" height="16.10" fill="#f4b183" stroke="none" stroke-width="0.8"/>
<text x="0.00" y="0.00" font-size="9.0" text-anchor="middle" font-weight="normal" fill="#000" stroke="#000" stroke-width="0.08" transform="translate(608.20 196.15) scale(0.9 1)">-</text>
<rect x="627.90" y="185.30" width="38.80" height="16.10" fill="#f4b183" stroke="none" stroke-width="0.8"/>
<text x="0.00" y="0.00" font-size="9.0" text-anchor="middle" font-weight="normal" fill="#000" stroke="#000" stroke-width="0.08" transform="translate(647.30 196.15) scale(0.9 1)">-</text>
<rect x="666.70" y="185.30" width="39.60" height="16.10" fill="#f4b183" stroke="none" stroke-width="0.8"/>
<text x="0.00" y="0.00" font-size="9.0" text-anchor="middle" font-weight="normal" fill="#000" stroke="#000" stroke-width="0.08" transform="translate(686.50 196.15) scale(0.9 1)">-</text>
<rect x="706.30" y="185.30" width="38.80" height="16.10" fill="#f4b183" stroke="none" stroke-width="0.8"/>
<text x="0.00" y="0.00" font-size="9.0" text-anchor="middle" font-weight="normal" fill="#000" stroke="#000" stroke-width="0.08" transform="translate(725.70 196.15) scale(0.9 1)">-</text>
<text x="0.00" y="0.00" font-size="8.42" text-anchor="middle" font-weight="bold" fill="#000" stroke="#000" stroke-width="0.22" transform="translate(295.05 212.04) scale(0.95 1)">01n03</text>
<rect x="314.60" y="201.40" width="39.30" height="16.10" fill="#a9d08e" stroke="none" stroke-width="0.8"/>
<text x="0.00" y="0.00" font-size="9.0" text-anchor="middle" font-weight="normal" fill="#000" stroke="#000" stroke-width="0.08" transform="translate(334.25 212.24) scale(0.9 1)">0.0128</text>
<text x="0.00" y="0.00" font-size="9.0" text-anchor="middle" font-weight="normal" fill="#000" stroke="#000" stroke-width="0.08" transform="translate(373.75 212.24) scale(0.9 1)">0.1832</text>
<rect x="393.60" y="201.40" width="38.90" height="16.10" fill="#f4b183" stroke="none" stroke-width="0.8"/>
<text x="0.00" y="0.00" font-size="9.0" text-anchor="middle" font-weight="normal" fill="#000" stroke="#000" stroke-width="0.08" transform="translate(413.05 212.24) scale(0.9 1)">-</text>
<text x="0.00" y="0.00" font-size="9.0" text-anchor="middle" font-weight="normal" fill="#000" stroke="#000" stroke-width="0.08" transform="translate(453.35 212.24) scale(0.9 1)">0.4304</text>
<rect x="474.20" y="201.40" width="36.50" height="16.10" fill="#f4b183" stroke="none" stroke-width="0.8"/>
<text x="0.00" y="0.00" font-size="9.0" text-anchor="middle" font-weight="normal" fill="#000" stroke="#000" stroke-width="0.08" transform="translate(492.45 212.24) scale(0.9 1)">-</text>
<rect x="510.70" y="201.40" width="38.50" height="16.10" fill="#a9d08e" stroke="none" stroke-width="0.8"/>
<text x="0.00" y="0.00" font-size="9.0" text-anchor="middle" font-weight="normal" fill="#000" stroke="#000" stroke-width="0.08" transform="translate(529.95 212.24) scale(0.9 1)">0.0433</text>
<rect x="549.20" y="201.40" width="39.30" height="16.10" fill="#a9d08e" stroke="none" stroke-width="0.8"/>
<text x="0.00" y="0.00" font-size="9.0" text-anchor="middle" font-weight="normal" fill="#000" stroke="#000" stroke-width="0.08" transform="translate(568.85 212.24) scale(0.9 1)">0.0639</text>
<rect x="588.50" y="201.40" width="39.40" height="16.10" fill="#f4b183" stroke="none" stroke-width="0.8"/>
<text x="0.00" y="0.00" font-size="9.0" text-anchor="middle" font-weight="normal" fill="#000" stroke="#000" stroke-width="0.08" transform="translate(608.20 212.24) scale(0.9 1)">-</text>
<rect x="627.90" y="201.40" width="38.80" height="16.10" fill="#f4b183" stroke="none" stroke-width="0.8"/>
<text x="0.00" y="0.00" font-size="9.0" text-anchor="middle" font-weight="normal" fill="#000" stroke="#000" stroke-width="0.08" transform="translate(647.30 212.24) scale(0.9 1)">-</text>
<rect x="666.70" y="201.40" width="39.60" height="16.10" fill="#f4b183" stroke="none" stroke-width="0.8"/>
<text x="0.00" y="0.00" font-size="9.0" text-anchor="middle" font-weight="normal" fill="#000" stroke="#000" stroke-width="0.08" transform="translate(686.50 212.24) scale(0.9 1)">-</text>
<rect x="706.30" y="201.40" width="38.80" height="16.10" fill="#f4b183" stroke="none" stroke-width="0.8"/>
<text x="0.00" y="0.00" font-size="9.0" text-anchor="middle" font-weight="normal" fill="#000" stroke="#000" stroke-width="0.08" transform="translate(725.70 212.24) scale(0.9 1)">-</text>
<text x="0.00" y="0.00" font-size="8.42" text-anchor="middle" font-weight="bold" fill="#000" stroke="#000" stroke-width="0.22" transform="translate(295.05 228.09) scale(0.95 1)">20n01</text>
<rect x="314.60" y="217.50" width="39.30" height="16.00" fill="#a9d08e" stroke="none" stroke-width="0.8"/>
<text x="0.00" y="0.00" font-size="9.0" text-anchor="middle" font-weight="normal" fill="#000" stroke="#000" stroke-width="0.08" transform="translate(334.25 228.29) scale(0.9 1)">0.0106</text>
<rect x="353.90" y="217.50" width="39.70" height="16.00" fill="#a9d08e" stroke="none" stroke-width="0.8"/>
<text x="0.00" y="0.00" font-size="9.0" text-anchor="middle" font-weight="normal" fill="#000" stroke="#000" stroke-width="0.08" transform="translate(373.75 228.29) scale(0.9 1)">0.0375</text>
<rect x="393.60" y="217.50" width="38.90" height="16.00" fill="#f4b183" stroke="none" stroke-width="0.8"/>
<text x="0.00" y="0.00" font-size="9.0" text-anchor="middle" font-weight="normal" fill="#000" stroke="#000" stroke-width="0.08" transform="translate(413.05 228.29) scale(0.9 1)">-</text>
<rect x="432.50" y="217.50" width="41.70" height="16.00" fill="#f4b183" stroke="none" stroke-width="0.8"/>
<text x="0.00" y="0.00" font-size="9.0" text-anchor="middle" font-weight="normal" fill="#000" stroke="#000" stroke-width="0.08" transform="translate(453.35 228.29) scale(0.9 1)">-</text>
<rect x="474.20" y="217.50" width="36.50" height="16.00" fill="#f4b183" stroke="none" stroke-width="0.8"/>
<text x="0.00" y="0.00" font-size="9.0" text-anchor="middle" font-weight="normal" fill="#000" stroke="#000" stroke-width="0.08" transform="translate(492.45 228.29) scale(0.9 1)">-</text>
<rect x="510.70" y="217.50" width="38.50" height="16.00" fill="#f4b183" stroke="none" stroke-width="0.8"/>
<text x="0.00" y="0.00" font-size="9.0" text-anchor="middle" font-weight="normal" fill="#000" stroke="#000" stroke-width="0.08" transform="translate(529.95 228.29) scale(0.9 1)">-</text>
<rect x="549.20" y="217.50" width="39.30" height="16.00" fill="#f4b183" stroke="none" stroke-width="0.8"/>
<text x="0.00" y="0.00" font-size="9.0" text-anchor="middle" font-weight="normal" fill="#000" stroke="#000" stroke-width="0.08" transform="translate(568.85 228.29) scale(0.9 1)">-</text>
<rect x="588.50" y="217.50" width="39.40" height="16.00" fill="#f4b183" stroke="none" stroke-width="0.8"/>
<text x="0.00" y="0.00" font-size="9.0" text-anchor="middle" font-weight="normal" fill="#000" stroke="#000" stroke-width="0.08" transform="translate(608.20 228.29) scale(0.9 1)">-</text>
<rect x="627.90" y="217.50" width="38.80" height="16.00" fill="#f4b183" stroke="none" stroke-width="0.8"/>
<text x="0.00" y="0.00" font-size="9.0" text-anchor="middle" font-weight="normal" fill="#000" stroke="#000" stroke-width="0.08" transform="translate(647.30 228.29) scale(0.9 1)">-</text>
<rect x="666.70" y="217.50" width="39.60" height="16.00" fill="#f4b183" stroke="none" stroke-width="0.8"/>
<text x="0.00" y="0.00" font-size="9.0" text-anchor="middle" font-weight="normal" fill="#000" stroke="#000" stroke-width="0.08" transform="translate(686.50 228.29) scale(0.9 1)">-</text>
<rect x="706.30" y="217.50" width="38.80" height="16.00" fill="#f4b183" stroke="none" stroke-width="0.8"/>
<text x="0.00" y="0.00" font-size="9.0" text-anchor="middle" font-weight="normal" fill="#000" stroke="#000" stroke-width="0.08" transform="translate(725.70 228.29) scale(0.9 1)">-</text>
<text x="0.00" y="0.00" font-size="8.42" text-anchor="middle" font-weight="bold" fill="#000" stroke="#000" stroke-width="0.22" transform="translate(295.05 244.14) scale(0.95 1)">20n18</text>
<rect x="314.60" y="233.50" width="39.30" height="16.10" fill="#f4b183" stroke="none" stroke-width="0.8"/>
<text x="0.00" y="0.00" font-size="9.0" text-anchor="middle" font-weight="normal" fill="#000" stroke="#000" stroke-width="0.08" transform="translate(334.25 244.34) scale(0.9 1)">&gt;7.00</text>
<rect x="353.90" y="233.50" width="39.70" height="16.10" fill="#f4b183" stroke="none" stroke-width="0.8"/>
<text x="0.00" y="0.00" font-size="9.0" text-anchor="middle" font-weight="normal" fill="#000" stroke="#000" stroke-width="0.08" transform="translate(373.75 244.34) scale(0.9 1)">&gt;7.00</text>
<rect x="393.60" y="233.50" width="38.90" height="16.10" fill="#f4b183" stroke="none" stroke-width="0.8"/>
<text x="0.00" y="0.00" font-size="9.0" text-anchor="middle" font-weight="normal" fill="#000" stroke="#000" stroke-width="0.08" transform="translate(413.05 244.34) scale(0.9 1)">-</text>
<rect x="432.50" y="233.50" width="41.70" height="16.10" fill="#f4b183" stroke="none" stroke-width="0.8"/>
<text x="0.00" y="0.00" font-size="9.0" text-anchor="middle" font-weight="normal" fill="#000" stroke="#000" stroke-width="0.08" transform="translate(453.35 244.34) scale(0.9 1)">-</text>
<rect x="474.20" y="233.50" width="36.50" height="16.10" fill="#f4b183" stroke="none" stroke-width="0.8"/>
<text x="0.00" y="0.00" font-size="9.0" text-anchor="middle" font-weight="normal" fill="#000" stroke="#000" stroke-width="0.08" transform="translate(492.45 244.34) scale(0.9 1)">-</text>
<rect x="510.70" y="233.50" width="38.50" height="16.10" fill="#f4b183" stroke="none" stroke-width="0.8"/>
<text x="0.00" y="0.00" font-size="9.0" text-anchor="middle" font-weight="normal" fill="#000" stroke="#000" stroke-width="0.08" transform="translate(529.95 244.34) scale(0.9 1)">-</text>
<rect x="549.20" y="233.50" width="39.30" height="16.10" fill="#f4b183" stroke="none" stroke-width="0.8"/>
<text x="0.00" y="0.00" font-size="9.0" text-anchor="middle" font-weight="normal" fill="#000" stroke="#000" stroke-width="0.08" transform="translate(568.85 244.34) scale(0.9 1)">-</text>
<rect x="588.50" y="233.50" width="39.40" height="16.10" fill="#f4b183" stroke="none" stroke-width="0.8"/>
<text x="0.00" y="0.00" font-size="9.0" text-anchor="middle" font-weight="normal" fill="#000" stroke="#000" stroke-width="0.08" transform="translate(608.20 244.34) scale(0.9 1)">-</text>
<rect x="627.90" y="233.50" width="38.80" height="16.10" fill="#f4b183" stroke="none" stroke-width="0.8"/>
<text x="0.00" y="0.00" font-size="9.0" text-anchor="middle" font-weight="normal" fill="#000" stroke="#000" stroke-width="0.08" transform="translate(647.30 244.34) scale(0.9 1)">-</text>
<rect x="666.70" y="233.50" width="39.60" height="16.10" fill="#f4b183" stroke="none" stroke-width="0.8"/>
<text x="0.00" y="0.00" font-size="9.0" text-anchor="middle" font-weight="normal" fill="#000" stroke="#000" stroke-width="0.08" transform="translate(686.50 244.34) scale(0.9 1)">-</text>
<rect x="706.30" y="233.50" width="38.80" height="16.10" fill="#f4b183" stroke="none" stroke-width="0.8"/>
<text x="0.00" y="0.00" font-size="9.0" text-anchor="middle" font-weight="normal" fill="#000" stroke="#000" stroke-width="0.08" transform="translate(725.70 244.34) scale(0.9 1)">-</text>
<line x1="314.60" y1="153.70" x2="314.60" y2="249.60" stroke="#333" stroke-width="0.75"/>
<line x1="353.90" y1="153.70" x2="353.90" y2="249.60" stroke="#333" stroke-width="0.75"/>
<line x1="393.60" y1="153.70" x2="393.60" y2="249.60" stroke="#333" stroke-width="0.75"/>
<line x1="432.50" y1="153.70" x2="432.50" y2="249.60" stroke="#333" stroke-width="0.75"/>
<line x1="474.20" y1="153.70" x2="474.20" y2="249.60" stroke="#333" stroke-width="0.75"/>
<line x1="510.70" y1="153.70" x2="510.70" y2="249.60" stroke="#333" stroke-width="0.75"/>
<line x1="549.20" y1="153.70" x2="549.20" y2="249.60" stroke="#333" stroke-width="0.75"/>
<line x1="588.50" y1="153.70" x2="588.50" y2="249.60" stroke="#333" stroke-width="0.75"/>
<line x1="627.90" y1="153.70" x2="627.90" y2="249.60" stroke="#333" stroke-width="0.75"/>
<line x1="666.70" y1="153.70" x2="666.70" y2="249.60" stroke="#333" stroke-width="0.75"/>
<line x1="706.30" y1="153.70" x2="706.30" y2="249.60" stroke="#333" stroke-width="0.75"/>
<line x1="275.50" y1="169.80" x2="745.10" y2="169.80" stroke="#333" stroke-width="0.75"/>
<line x1="275.50" y1="185.30" x2="745.10" y2="185.30" stroke="#333" stroke-width="0.75"/>
<line x1="275.50" y1="201.40" x2="745.10" y2="201.40" stroke="#333" stroke-width="0.75"/>
<line x1="275.50" y1="217.50" x2="745.10" y2="217.50" stroke="#333" stroke-width="0.75"/>
<line x1="275.50" y1="233.50" x2="745.10" y2="233.50" stroke="#333" stroke-width="0.75"/>
<rect x="275.50" y="153.70" width="469.60" height="95.90" fill="none" stroke="#383838" stroke-width="1.2"/>
<text x="0.00" y="0.00" font-size="8.9" text-anchor="end" font-weight="bold" fill="#000" stroke="#000" stroke-width="0.22" transform="translate(348.20 264.90) scale(0.915 1)">EC50 (ug/mL)</text>
<rect x="356.60" y="255.00" width="40.80" height="15.20" fill="#a9d08e" stroke="none" stroke-width="0.8"/>
<text x="0.00" y="0.00" font-size="8.97" text-anchor="middle" font-weight="bold" fill="#000" stroke="#000" stroke-width="0.22" transform="translate(377.00 265.98) scale(0.87 1)">&lt; 0.1</text>
<rect x="397.40" y="255.00" width="44.20" height="15.20" fill="#ffffff" stroke="none" stroke-width="0.8"/>
<text x="0.00" y="0.00" font-size="8.97" text-anchor="middle" font-weight="bold" fill="#000" stroke="#000" stroke-width="0.22" transform="translate(419.50 265.98) scale(0.87 1)">0.1 – 1.0</text>
<rect x="441.60" y="255.00" width="37.50" height="15.20" fill="#f4b183" stroke="none" stroke-width="0.8"/>
<text x="0.00" y="0.00" font-size="8.97" text-anchor="middle" font-weight="bold" fill="#000" stroke="#000" stroke-width="0.22" transform="translate(460.35 265.98) scale(0.87 1)">&gt; 1.0</text>
<line x1="397.40" y1="255.00" x2="397.40" y2="270.20" stroke="#333" stroke-width="0.6"/>
<line x1="441.60" y1="255.00" x2="441.60" y2="270.20" stroke="#333" stroke-width="0.6"/>
<rect x="356.60" y="255.00" width="122.50" height="15.20" fill="none" stroke="#333" stroke-width="1.0"/>
<line x1="28.30" y1="416.60" x2="28.30" y2="317.20" stroke="#000" stroke-width="0.8"/>
<line x1="25.10" y1="416.60" x2="28.30" y2="416.60" stroke="#000" stroke-width="0.8"/>
<text x="23.70" y="419.12" font-size="7.0" text-anchor="end" font-weight="bold" fill="#000" stroke="#000" stroke-width="0.22">0</text>
<line x1="25.10" y1="366.90" x2="28.30" y2="366.90" stroke="#000" stroke-width="0.8"/>
<text x="23.70" y="369.42" font-size="7.0" text-anchor="end" font-weight="bold" fill="#000" stroke="#000" stroke-width="0.22">50</text>
<line x1="25.10" y1="317.20" x2="28.30" y2="317.20" stroke="#000" stroke-width="0.8"/>
<text x="23.70" y="319.72" font-size="7.0" text-anchor="end" font-weight="bold" fill="#000" stroke="#000" stroke-width="0.22">100</text>
<line x1="26.38" y1="411.63" x2="28.30" y2="411.63" stroke="#000" stroke-width="0.7200000000000001"/>
<line x1="26.38" y1="406.66" x2="28.30" y2="406.66" stroke="#000" stroke-width="0.7200000000000001"/>
<line x1="26.38" y1="401.69" x2="28.30" y2="401.69" stroke="#000" stroke-width="0.7200000000000001"/>
<line x1="26.38" y1="396.72" x2="28.30" y2="396.72" stroke="#000" stroke-width="0.7200000000000001"/>
<line x1="26.38" y1="391.75" x2="28.30" y2="391.75" stroke="#000" stroke-width="0.7200000000000001"/>
<line x1="26.38" y1="386.78" x2="28.30" y2="386.78" stroke="#000" stroke-width="0.7200000000000001"/>
<line x1="26.38" y1="381.81" x2="28.30" y2="381.81" stroke="#000" stroke-width="0.7200000000000001"/>
<line x1="26.38" y1="376.84" x2="28.30" y2="376.84" stroke="#000" stroke-width="0.7200000000000001"/>
<line x1="26.38" y1="371.87" x2="28.30" y2="371.87" stroke="#000" stroke-width="0.7200000000000001"/>
<line x1="26.38" y1="361.93" x2="28.30" y2="361.93" stroke="#000" stroke-width="0.7200000000000001"/>
<line x1="26.38" y1="356.96" x2="28.30" y2="356.96" stroke="#000" stroke-width="0.7200000000000001"/>
<line x1="26.38" y1="351.99" x2="28.30" y2="351.99" stroke="#000" stroke-width="0.7200000000000001"/>
<line x1="26.38" y1="347.02" x2="28.30" y2="347.02" stroke="#000" stroke-width="0.7200000000000001"/>
<line x1="26.38" y1="342.05" x2="28.30" y2="342.05" stroke="#000" stroke-width="0.7200000000000001"/>
<line x1="26.38" y1="337.08" x2="28.30" y2="337.08" stroke="#000" stroke-width="0.7200000000000001"/>
<line x1="26.38" y1="332.11" x2="28.30" y2="332.11" stroke="#000" stroke-width="0.7200000000000001"/>
<line x1="26.38" y1="327.14" x2="28.30" y2="327.14" stroke="#000" stroke-width="0.7200000000000001"/>
<line x1="26.38" y1="322.17" x2="28.30" y2="322.17" stroke="#000" stroke-width="0.7200000000000001"/>
<line x1="28.30" y1="416.60" x2="176.00" y2="416.60" stroke="#000" stroke-width="1.0"/>
<line x1="28.30" y1="416.60" x2="28.30" y2="420.10" stroke="#000" stroke-width="1.0"/>
<text x="28.30" y="428.30" font-size="7.0" text-anchor="middle" font-weight="bold" fill="#000" stroke="#000" stroke-width="0.22">10<tspan dy="-2.80" font-size="3.85">-3</tspan></text>
<line x1="65.22" y1="416.60" x2="65.22" y2="420.10" stroke="#000" stroke-width="1.0"/>
<text x="65.22" y="428.30" font-size="7.0" text-anchor="middle" font-weight="bold" fill="#000" stroke="#000" stroke-width="0.22">10<tspan dy="-2.80" font-size="3.85">-2</tspan></text>
<line x1="102.15" y1="416.60" x2="102.15" y2="420.10" stroke="#000" stroke-width="1.0"/>
<text x="102.15" y="428.30" font-size="7.0" text-anchor="middle" font-weight="bold" fill="#000" stroke="#000" stroke-width="0.22">10<tspan dy="-2.80" font-size="3.85">-1</tspan></text>
<line x1="139.07" y1="416.60" x2="139.07" y2="420.10" stroke="#000" stroke-width="1.0"/>
<text x="139.07" y="428.30" font-size="7.0" text-anchor="middle" font-weight="bold" fill="#000" stroke="#000" stroke-width="0.22">10<tspan dy="-2.80" font-size="3.85">0</tspan></text>
<line x1="176.00" y1="416.60" x2="176.00" y2="420.10" stroke="#000" stroke-width="1.0"/>
<text x="176.00" y="428.30" font-size="7.0" text-anchor="middle" font-weight="bold" fill="#000" stroke="#000" stroke-width="0.22">10<tspan dy="-2.80" font-size="3.85">1</tspan></text>
<text x="102.15" y="441.60" font-size="7.2" text-anchor="middle" font-weight="bold" fill="#000" stroke="#000" stroke-width="0.22">Concentration mAb (ug/mL)</text>
<text x="0.00" y="0.00" font-size="8.4" text-anchor="middle" font-weight="bold" fill="#000" stroke="#000" stroke-width="0.22" transform="translate(101.70 307.00) scale(0.85 1)">19n01</text>
<text x="7.80" y="366.90" font-size="7.2" text-anchor="middle" font-weight="bold" fill="#000" stroke="#000" stroke-width="0.22" transform="rotate(-90 7.80 366.90)">Inhibition (%)</text>
<line x1="216.30" y1="418.40" x2="216.30" y2="319.80" stroke="#000" stroke-width="0.8"/>
<line x1="213.10" y1="418.40" x2="216.30" y2="418.40" stroke="#000" stroke-width="0.8"/>
<text x="211.70" y="420.92" font-size="7.0" text-anchor="end" font-weight="bold" fill="#000" stroke="#000" stroke-width="0.22">0</text>
<line x1="213.10" y1="369.10" x2="216.30" y2="369.10" stroke="#000" stroke-width="0.8"/>
<text x="211.70" y="371.62" font-size="7.0" text-anchor="end" font-weight="bold" fill="#000" stroke="#000" stroke-width="0.22">50</text>
<line x1="213.10" y1="319.80" x2="216.30" y2="319.80" stroke="#000" stroke-width="0.8"/>
<text x="211.70" y="322.32" font-size="7.0" text-anchor="end" font-weight="bold" fill="#000" stroke="#000" stroke-width="0.22">100</text>
<line x1="214.38" y1="413.47" x2="216.30" y2="413.47" stroke="#000" stroke-width="0.7200000000000001"/>
<line x1="214.38" y1="408.54" x2="216.30" y2="408.54" stroke="#000" stroke-width="0.7200000000000001"/>
<line x1="214.38" y1="403.61" x2="216.30" y2="403.61" stroke="#000" stroke-width="0.7200000000000001"/>
<line x1="214.38" y1="398.68" x2="216.30" y2="398.68" stroke="#000" stroke-width="0.7200000000000001"/>
<line x1="214.38" y1="393.75" x2="216.30" y2="393.75" stroke="#000" stroke-width="0.7200000000000001"/>
<line x1="214.38" y1="388.82" x2="216.30" y2="388.82" stroke="#000" stroke-width="0.7200000000000001"/>
<line x1="214.38" y1="383.89" x2="216.30" y2="383.89" stroke="#000" stroke-width="0.7200000000000001"/>
<line x1="214.38" y1="378.96" x2="216.30" y2="378.96" stroke="#000" stroke-width="0.7200000000000001"/>
<line x1="214.38" y1="374.03" x2="216.30" y2="374.03" stroke="#000" stroke-width="0.7200000000000001"/>
<line x1="214.38" y1="364.17" x2="216.30" y2="364.17" stroke="#000" stroke-width="0.7200000000000001"/>
<line x1="214.38" y1="359.24" x2="216.30" y2="359.24" stroke="#000" stroke-width="0.7200000000000001"/>
<line x1="214.38" y1="354.31" x2="216.30" y2="354.31" stroke="#000" stroke-width="0.7200000000000001"/>
<line x1="214.38" y1="349.38" x2="216.30" y2="349.38" stroke="#000" stroke-width="0.7200000000000001"/>
<line x1="214.38" y1="344.45" x2="216.30" y2="344.45" stroke="#000" stroke-width="0.7200000000000001"/>
<line x1="214.38" y1="339.52" x2="216.30" y2="339.52" stroke="#000" stroke-width="0.7200000000000001"/>
<line x1="214.38" y1="334.59" x2="216.30" y2="334.59" stroke="#000" stroke-width="0.7200000000000001"/>
<line x1="214.38" y1="329.66" x2="216.30" y2="329.66" stroke="#000" stroke-width="0.7200000000000001"/>
<line x1="214.38" y1="324.73" x2="216.30" y2="324.73" stroke="#000" stroke-width="0.7200000000000001"/>
<line x1="216.30" y1="418.40" x2="364.60" y2="418.40" stroke="#000" stroke-width="1.0"/>
<line x1="216.30" y1="418.40" x2="216.30" y2="421.90" stroke="#000" stroke-width="1.0"/>
<text x="216.30" y="430.10" font-size="7.0" text-anchor="middle" font-weight="bold" fill="#000" stroke="#000" stroke-width="0.22">10<tspan dy="-2.80" font-size="3.85">-3</tspan></text>
<line x1="253.38" y1="418.40" x2="253.38" y2="421.90" stroke="#000" stroke-width="1.0"/>
<text x="253.38" y="430.10" font-size="7.0" text-anchor="middle" font-weight="bold" fill="#000" stroke="#000" stroke-width="0.22">10<tspan dy="-2.80" font-size="3.85">-2</tspan></text>
<line x1="290.45" y1="418.40" x2="290.45" y2="421.90" stroke="#000" stroke-width="1.0"/>
<text x="290.45" y="430.10" font-size="7.0" text-anchor="middle" font-weight="bold" fill="#000" stroke="#000" stroke-width="0.22">10<tspan dy="-2.80" font-size="3.85">-1</tspan></text>
<line x1="327.53" y1="418.40" x2="327.53" y2="421.90" stroke="#000" stroke-width="1.0"/>
<text x="327.53" y="430.10" font-size="7.0" text-anchor="middle" font-weight="bold" fill="#000" stroke="#000" stroke-width="0.22">10<tspan dy="-2.80" font-size="3.85">0</tspan></text>
<line x1="364.60" y1="418.40" x2="364.60" y2="421.90" stroke="#000" stroke-width="1.0"/>
<text x="364.60" y="430.10" font-size="7.0" text-anchor="middle" font-weight="bold" fill="#000" stroke="#000" stroke-width="0.22">10<tspan dy="-2.80" font-size="3.85">1</tspan></text>
<text x="290.45" y="441.40" font-size="7.2" text-anchor="middle" font-weight="bold" fill="#000" stroke="#000" stroke-width="0.22">Concentration mAb (ug/mL)</text>
<text x="0.00" y="0.00" font-size="8.4" text-anchor="middle" font-weight="bold" fill="#000" stroke="#000" stroke-width="0.22" transform="translate(290.50 307.80) scale(0.85 1)">01n21</text>
<text x="195.80" y="369.10" font-size="7.2" text-anchor="middle" font-weight="bold" fill="#000" stroke="#000" stroke-width="0.22" transform="rotate(-90 195.80 369.10)">Inhibition (%)</text>
<line x1="402.30" y1="418.70" x2="402.30" y2="320.00" stroke="#000" stroke-width="0.8"/>
<line x1="399.10" y1="418.70" x2="402.30" y2="418.70" stroke="#000" stroke-width="0.8"/>
<text x="397.70" y="421.22" font-size="7.0" text-anchor="end" font-weight="bold" fill="#000" stroke="#000" stroke-width="0.22">0</text>
<line x1="399.10" y1="369.35" x2="402.30" y2="369.35" stroke="#000" stroke-width="0.8"/>
<text x="397.70" y="371.87" font-size="7.0" text-anchor="end" font-weight="bold" fill="#000" stroke="#000" stroke-width="0.22">50</text>
<line x1="399.10" y1="320.00" x2="402.30" y2="320.00" stroke="#000" stroke-width="0.8"/>
<text x="397.70" y="322.52" font-size="7.0" text-anchor="end" font-weight="bold" fill="#000" stroke="#000" stroke-width="0.22">100</text>
<line x1="400.38" y1="413.76" x2="402.30" y2="413.76" stroke="#000" stroke-width="0.7200000000000001"/>
<line x1="400.38" y1="408.83" x2="402.30" y2="408.83" stroke="#000" stroke-width="0.7200000000000001"/>
<line x1="400.38" y1="403.89" x2="402.30" y2="403.89" stroke="#000" stroke-width="0.7200000000000001"/>
<line x1="400.38" y1="398.96" x2="402.30" y2="398.96" stroke="#000" stroke-width="0.7200000000000001"/>
<line x1="400.38" y1="394.02" x2="402.30" y2="394.02" stroke="#000" stroke-width="0.7200000000000001"/>
<line x1="400.38" y1="389.09" x2="402.30" y2="389.09" stroke="#000" stroke-width="0.7200000000000001"/>
<line x1="400.38" y1="384.15" x2="402.30" y2="384.15" stroke="#000" stroke-width="0.7200000000000001"/>
<line x1="400.38" y1="379.22" x2="402.30" y2="379.22" stroke="#000" stroke-width="0.7200000000000001"/>
<line x1="400.38" y1="374.28" x2="402.30" y2="374.28" stroke="#000" stroke-width="0.7200000000000001"/>
<line x1="400.38" y1="364.42" x2="402.30" y2="364.42" stroke="#000" stroke-width="0.7200000000000001"/>
<line x1="400.38" y1="359.48" x2="402.30" y2="359.48" stroke="#000" stroke-width="0.7200000000000001"/>
<line x1="400.38" y1="354.55" x2="402.30" y2="354.55" stroke="#000" stroke-width="0.7200000000000001"/>
<line x1="400.38" y1="349.61" x2="402.30" y2="349.61" stroke="#000" stroke-width="0.7200000000000001"/>
<line x1="400.38" y1="344.68" x2="402.30" y2="344.68" stroke="#000" stroke-width="0.7200000000000001"/>
<line x1="400.38" y1="339.74" x2="402.30" y2="339.74" stroke="#000" stroke-width="0.7200000000000001"/>
<line x1="400.38" y1="334.81" x2="402.30" y2="334.81" stroke="#000" stroke-width="0.7200000000000001"/>
<line x1="400.38" y1="329.87" x2="402.30" y2="329.87" stroke="#000" stroke-width="0.7200000000000001"/>
<line x1="400.38" y1="324.94" x2="402.30" y2="324.94" stroke="#000" stroke-width="0.7200000000000001"/>
<line x1="402.30" y1="418.70" x2="550.00" y2="418.70" stroke="#000" stroke-width="1.0"/>
<line x1="402.30" y1="418.70" x2="402.30" y2="422.20" stroke="#000" stroke-width="1.0"/>
<text x="402.30" y="430.40" font-size="7.0" text-anchor="middle" font-weight="bold" fill="#000" stroke="#000" stroke-width="0.22">10<tspan dy="-2.80" font-size="3.85">-3</tspan></text>
<line x1="439.23" y1="418.70" x2="439.23" y2="422.20" stroke="#000" stroke-width="1.0"/>
<text x="439.23" y="430.40" font-size="7.0" text-anchor="middle" font-weight="bold" fill="#000" stroke="#000" stroke-width="0.22">10<tspan dy="-2.80" font-size="3.85">-2</tspan></text>
<line x1="476.15" y1="418.70" x2="476.15" y2="422.20" stroke="#000" stroke-width="1.0"/>
<text x="476.15" y="430.40" font-size="7.0" text-anchor="middle" font-weight="bold" fill="#000" stroke="#000" stroke-width="0.22">10<tspan dy="-2.80" font-size="3.85">-1</tspan></text>
<line x1="513.08" y1="418.70" x2="513.08" y2="422.20" stroke="#000" stroke-width="1.0"/>
<text x="513.08" y="430.40" font-size="7.0" text-anchor="middle" font-weight="bold" fill="#000" stroke="#000" stroke-width="0.22">10<tspan dy="-2.80" font-size="3.85">0</tspan></text>
<line x1="550.00" y1="418.70" x2="550.00" y2="422.20" stroke="#000" stroke-width="1.0"/>
<text x="550.00" y="430.40" font-size="7.0" text-anchor="middle" font-weight="bold" fill="#000" stroke="#000" stroke-width="0.22">10<tspan dy="-2.80" font-size="3.85">1</tspan></text>
<text x="476.15" y="441.00" font-size="7.2" text-anchor="middle" font-weight="bold" fill="#000" stroke="#000" stroke-width="0.22">Concentration mAb (ug/mL)</text>
<text x="0.00" y="0.00" font-size="8.4" text-anchor="middle" font-weight="bold" fill="#000" stroke="#000" stroke-width="0.22" transform="translate(476.30 308.30) scale(0.85 1)">20n01</text>
<text x="381.80" y="369.35" font-size="7.2" text-anchor="middle" font-weight="bold" fill="#000" stroke="#000" stroke-width="0.22" transform="rotate(-90 381.80 369.35)">Inhibition (%)</text>
<line x1="591.80" y1="419.20" x2="591.80" y2="320.00" stroke="#000" stroke-width="0.8"/>
<line x1="588.60" y1="419.20" x2="591.80" y2="419.20" stroke="#000" stroke-width="0.8"/>
<text x="587.20" y="421.72" font-size="7.0" text-anchor="end" font-weight="bold" fill="#000" stroke="#000" stroke-width="0.22">0</text>
<line x1="588.60" y1="369.60" x2="591.80" y2="369.60" stroke="#000" stroke-width="0.8"/>
<text x="587.20" y="372.12" font-size="7.0" text-anchor="end" font-weight="bold" fill="#000" stroke="#000" stroke-width="0.22">50</text>
<line x1="588.60" y1="320.00" x2="591.80" y2="320.00" stroke="#000" stroke-width="0.8"/>
<text x="587.20" y="322.52" font-size="7.0" text-anchor="end" font-weight="bold" fill="#000" stroke="#000" stroke-width="0.22">100</text>
<line x1="589.88" y1="414.24" x2="591.80" y2="414.24" stroke="#000" stroke-width="0.7200000000000001"/>
<line x1="589.88" y1="409.28" x2="591.80" y2="409.28" stroke="#000" stroke-width="0.7200000000000001"/>
<line x1="589.88" y1="404.32" x2="591.80" y2="404.32" stroke="#000" stroke-width="0.7200000000000001"/>
<line x1="589.88" y1="399.36" x2="591.80" y2="399.36" stroke="#000" stroke-width="0.7200000000000001"/>
<line x1="589.88" y1="394.40" x2="591.80" y2="394.40" stroke="#000" stroke-width="0.7200000000000001"/>
<line x1="589.88" y1="389.44" x2="591.80" y2="389.44" stroke="#000" stroke-width="0.7200000000000001"/>
<line x1="589.88" y1="384.48" x2="591.80" y2="384.48" stroke="#000" stroke-width="0.7200000000000001"/>
<line x1="589.88" y1="379.52" x2="591.80" y2="379.52" stroke="#000" stroke-width="0.7200000000000001"/>
<line x1="589.88" y1="374.56" x2="591.80" y2="374.56" stroke="#000" stroke-width="0.7200000000000001"/>
<line x1="589.88" y1="364.64" x2="591.80" y2="364.64" stroke="#000" stroke-width="0.7200000000000001"/>
<line x1="589.88" y1="359.68" x2="591.80" y2="359.68" stroke="#000" stroke-width="0.7200000000000001"/>
<line x1="589.88" y1="354.72" x2="591.80" y2="354.72" stroke="#000" stroke-width="0.7200000000000001"/>
<line x1="589.88" y1="349.76" x2="591.80" y2="349.76" stroke="#000" stroke-width="0.7200000000000001"/>
<line x1="589.88" y1="344.80" x2="591.80" y2="344.80" stroke="#000" stroke-width="0.7200000000000001"/>
<line x1="589.88" y1="339.84" x2="591.80" y2="339.84" stroke="#000" stroke-width="0.7200000000000001"/>
<line x1="589.88" y1="334.88" x2="591.80" y2="334.88" stroke="#000" stroke-width="0.7200000000000001"/>
<line x1="589.88" y1="329.92" x2="591.80" y2="329.92" stroke="#000" stroke-width="0.7200000000000001"/>
<line x1="589.88" y1="324.96" x2="591.80" y2="324.96" stroke="#000" stroke-width="0.7200000000000001"/>
<line x1="591.80" y1="419.20" x2="739.90" y2="419.20" stroke="#000" stroke-width="1.0"/>
<line x1="591.80" y1="419.20" x2="591.80" y2="422.70" stroke="#000" stroke-width="1.0"/>
<text x="591.80" y="430.90" font-size="7.0" text-anchor="middle" font-weight="bold" fill="#000" stroke="#000" stroke-width="0.22">10<tspan dy="-2.80" font-size="3.85">-3</tspan></text>
<line x1="628.82" y1="419.20" x2="628.82" y2="422.70" stroke="#000" stroke-width="1.0"/>
<text x="628.82" y="430.90" font-size="7.0" text-anchor="middle" font-weight="bold" fill="#000" stroke="#000" stroke-width="0.22">10<tspan dy="-2.80" font-size="3.85">-2</tspan></text>
<line x1="665.85" y1="419.20" x2="665.85" y2="422.70" stroke="#000" stroke-width="1.0"/>
<text x="665.85" y="430.90" font-size="7.0" text-anchor="middle" font-weight="bold" fill="#000" stroke="#000" stroke-width="0.22">10<tspan dy="-2.80" font-size="3.85">-1</tspan></text>
<line x1="702.88" y1="419.20" x2="702.88" y2="422.70" stroke="#000" stroke-width="1.0"/>
<text x="702.88" y="430.90" font-size="7.0" text-anchor="middle" font-weight="bold" fill="#000" stroke="#000" stroke-width="0.22">10<tspan dy="-2.80" font-size="3.85">0</tspan></text>
<line x1="739.90" y1="419.20" x2="739.90" y2="422.70" stroke="#000" stroke-width="1.0"/>
<text x="739.90" y="430.90" font-size="7.0" text-anchor="middle" font-weight="bold" fill="#000" stroke="#000" stroke-width="0.22">10<tspan dy="-2.80" font-size="3.85">1</tspan></text>
<text x="665.85" y="442.20" font-size="7.2" text-anchor="middle" font-weight="bold" fill="#000" stroke="#000" stroke-width="0.22">Concentration mAb (ug/mL)</text>
<text x="0.00" y="0.00" font-size="8.4" text-anchor="middle" font-weight="bold" fill="#000" stroke="#000" stroke-width="0.22" transform="translate(665.80 308.50) scale(0.85 1)">01n03</text>
<text x="571.30" y="369.60" font-size="7.2" text-anchor="middle" font-weight="bold" fill="#000" stroke="#000" stroke-width="0.22" transform="rotate(-90 571.30 369.60)">Inhibition (%)</text>
<line x1="65.40" y1="456.60" x2="77.50" y2="456.60" stroke="#4040ff" stroke-width="0.6"/>
<circle cx="71.60" cy="456.60" r="2.0" fill="#0000ff"/>
<text x="85.00" y="459.52" font-size="8.1" text-anchor="start" font-weight="normal" fill="#000" stroke="#000" stroke-width="0.08">WT</text>
<line x1="65.40" y1="468.10" x2="77.50" y2="468.10" stroke="#b03030" stroke-width="0.6"/>
<circle cx="71.60" cy="468.10" r="2.0" fill="#990000"/>
<text x="85.00" y="471.02" font-size="8.1" text-anchor="start" font-weight="normal" fill="#000" stroke="#000" stroke-width="0.08">Alpha</text>
<line x1="65.40" y1="480.20" x2="77.50" y2="480.20" stroke="#5a9aa8" stroke-width="0.6"/>
<circle cx="71.60" cy="480.20" r="2.0" fill="#0a5a6a"/>
<text x="85.00" y="483.12" font-size="8.1" text-anchor="start" font-weight="normal" fill="#000" stroke="#000" stroke-width="0.08">Beta</text>
<line x1="65.40" y1="492.50" x2="77.50" y2="492.50" stroke="#888888" stroke-width="0.6"/>
<circle cx="71.60" cy="492.50" r="2.0" fill="#666666"/>
<text x="85.00" y="495.42" font-size="8.1" text-anchor="start" font-weight="normal" fill="#000" stroke="#000" stroke-width="0.08">Gamma</text>
<line x1="65.40" y1="505.10" x2="77.50" y2="505.10" stroke="#aa7c44" stroke-width="0.6"/>
<circle cx="71.60" cy="505.10" r="2.0" fill="#8c5a1c"/>
<text x="85.00" y="508.02" font-size="8.1" text-anchor="start" font-weight="normal" fill="#000" stroke="#000" stroke-width="0.08">Delta</text>
<line x1="65.40" y1="517.90" x2="77.50" y2="517.90" stroke="#ff4040" stroke-width="0.6"/>
<circle cx="71.60" cy="517.90" r="2.0" fill="#ff0000"/>
<text x="85.00" y="520.82" font-size="8.1" text-anchor="start" font-weight="normal" fill="#000" stroke="#000" stroke-width="0.08">BA.1</text>
<line x1="65.40" y1="530.20" x2="77.50" y2="530.20" stroke="#c050f8" stroke-width="0.6"/>
<circle cx="71.60" cy="530.20" r="2.0" fill="#a000f0"/>
<text x="85.00" y="533.12" font-size="8.1" text-anchor="start" font-weight="normal" fill="#000" stroke="#000" stroke-width="0.08">BA.4/5</text>
<text x="0.00" y="0.00" font-size="8.63" text-anchor="middle" font-weight="bold" fill="#000" stroke="#000" stroke-width="0.22" transform="translate(220.85 465.21) scale(0.95 1)">WT</text>
<text x="0.00" y="0.00" font-size="8.63" text-anchor="middle" font-weight="bold" fill="#000" stroke="#000" stroke-width="0.22" transform="translate(263.35 465.21) scale(0.95 1)">Alpha</text>
<text x="0.00" y="0.00" font-size="8.63" text-anchor="middle" font-weight="bold" fill="#000" stroke="#000" stroke-width="0.22" transform="translate(306.20 465.21) scale(0.95 1)">Beta</text>
<text x="0.00" y="0.00" font-size="8.63" text-anchor="middle" font-weight="bold" fill="#000" stroke="#000" stroke-width="0.22" transform="translate(349.30 465.21) scale(0.95 1)">Gamma</text>
<text x="0.00" y="0.00" font-size="8.63" text-anchor="middle" font-weight="bold" fill="#000" stroke="#000" stroke-width="0.22" transform="translate(392.10 465.21) scale(0.95 1)">Delta</text>
<text x="0.00" y="0.00" font-size="8.63" text-anchor="middle" font-weight="bold" fill="#000" stroke="#000" stroke-width="0.22" transform="translate(434.95 465.21) scale(0.95 1)">BA.1</text>
<text x="0.00" y="0.00" font-size="8.63" text-anchor="middle" font-weight="bold" fill="#000" stroke="#000" stroke-width="0.22" transform="translate(481.70 465.21) scale(0.95 1)">BA.4/5</text>
<text x="0.00" y="0.00" font-size="8.63" text-anchor="middle" font-weight="bold" fill="#000" stroke="#000" stroke-width="0.22" transform="translate(177.70 481.26) scale(0.95 1)">19n01</text>
<rect x="199.50" y="469.50" width="42.70" height="16.00" fill="#a9d08e" stroke="none" stroke-width="0.8"/>
<text x="0.00" y="0.00" font-size="9.22" text-anchor="middle" font-weight="normal" fill="#000" stroke="#000" stroke-width="0.08" transform="translate(220.85 481.47) scale(0.9 1)">0.1627</text>
<rect x="242.20" y="469.50" width="42.30" height="16.00" fill="#a9d08e" stroke="none" stroke-width="0.8"/>
<text x="0.00" y="0.00" font-size="9.22" text-anchor="middle" font-weight="normal" fill="#000" stroke="#000" stroke-width="0.08" transform="translate(263.35 481.47) scale(0.9 1)">0.1503</text>
<rect x="284.50" y="469.50" width="43.40" height="16.00" fill="#a9d08e" stroke="none" stroke-width="0.8"/>
<text x="0.00" y="0.00" font-size="9.22" text-anchor="middle" font-weight="normal" fill="#000" stroke="#000" stroke-width="0.08" transform="translate(306.20 481.47) scale(0.9 1)">0.1809</text>
<text x="0.00" y="0.00" font-size="9.22" text-anchor="middle" font-weight="normal" fill="#000" stroke="#000" stroke-width="0.08" transform="translate(349.30 481.47) scale(0.9 1)">0.3323</text>
<rect x="370.70" y="469.50" width="42.80" height="16.00" fill="#a9d08e" stroke="none" stroke-width="0.8"/>
<text x="0.00" y="0.00" font-size="9.22" text-anchor="middle" font-weight="normal" fill="#000" stroke="#000" stroke-width="0.08" transform="translate(392.10 481.47) scale(0.9 1)">0.1553</text>
<rect x="413.50" y="469.50" width="42.90" height="16.00" fill="#a9d08e" stroke="none" stroke-width="0.8"/>
<text x="0.00" y="0.00" font-size="9.22" text-anchor="middle" font-weight="normal" fill="#000" stroke="#000" stroke-width="0.08" transform="translate(434.95 481.47) scale(0.9 1)">0.1559</text>
<rect x="456.40" y="469.50" width="50.60" height="16.00" fill="#a9d08e" stroke="none" stroke-width="0.8"/>
<text x="0.00" y="0.00" font-size="9.22" text-anchor="middle" font-weight="normal" fill="#000" stroke="#000" stroke-width="0.08" transform="translate(481.70 481.47) scale(0.9 1)">0.1710</text>
<text x="0.00" y="0.00" font-size="8.63" text-anchor="middle" font-weight="bold" fill="#000" stroke="#000" stroke-width="0.22" transform="translate(177.70 497.41) scale(0.95 1)">01n21</text>
<rect x="199.50" y="485.50" width="42.70" height="16.30" fill="#a9d08e" stroke="none" stroke-width="0.8"/>
<text x="0.00" y="0.00" font-size="9.22" text-anchor="middle" font-weight="normal" fill="#000" stroke="#000" stroke-width="0.08" transform="translate(220.85 497.62) scale(0.9 1)">0.1770</text>
<text x="0.00" y="0.00" font-size="9.22" text-anchor="middle" font-weight="normal" fill="#000" stroke="#000" stroke-width="0.08" transform="translate(263.35 497.62) scale(0.9 1)">0.5006</text>
<rect x="284.50" y="485.50" width="43.40" height="16.30" fill="#f4b183" stroke="none" stroke-width="0.8"/>
<text x="0.00" y="0.00" font-size="9.22" text-anchor="middle" font-weight="normal" fill="#000" stroke="#000" stroke-width="0.08" transform="translate(306.20 497.62) scale(0.9 1)">-</text>
<rect x="327.90" y="485.50" width="42.80" height="16.30" fill="#a9d08e" stroke="none" stroke-width="0.8"/>
<text x="0.00" y="0.00" font-size="9.22" text-anchor="middle" font-weight="normal" fill="#000" stroke="#000" stroke-width="0.08" transform="translate(349.30 497.62) scale(0.9 1)">0.0819</text>
<text x="0.00" y="0.00" font-size="9.22" text-anchor="middle" font-weight="normal" fill="#000" stroke="#000" stroke-width="0.08" transform="translate(392.10 497.62) scale(0.9 1)">0.2406</text>
<rect x="413.50" y="485.50" width="42.90" height="16.30" fill="#f4b183" stroke="none" stroke-width="0.8"/>
<text x="0.00" y="0.00" font-size="9.22" text-anchor="middle" font-weight="normal" fill="#000" stroke="#000" stroke-width="0.08" transform="translate(434.95 497.62) scale(0.9 1)">-</text>
<rect x="456.40" y="485.50" width="50.60" height="16.30" fill="#f4b183" stroke="none" stroke-width="0.8"/>
<text x="0.00" y="0.00" font-size="9.22" text-anchor="middle" font-weight="normal" fill="#000" stroke="#000" stroke-width="0.08" transform="translate(481.70 497.62) scale(0.9 1)">-</text>
<text x="0.00" y="0.00" font-size="8.63" text-anchor="middle" font-weight="bold" fill="#000" stroke="#000" stroke-width="0.22" transform="translate(177.70 513.76) scale(0.95 1)">01n03</text>
<rect x="199.50" y="501.80" width="42.70" height="16.40" fill="#a9d08e" stroke="none" stroke-width="0.8"/>
<text x="0.00" y="0.00" font-size="9.22" text-anchor="middle" font-weight="normal" fill="#000" stroke="#000" stroke-width="0.08" transform="translate(220.85 513.97) scale(0.9 1)">0.0922</text>
<text x="0.00" y="0.00" font-size="9.22" text-anchor="middle" font-weight="normal" fill="#000" stroke="#000" stroke-width="0.08" transform="translate(263.35 513.97) scale(0.9 1)">0.4389</text>
<rect x="284.50" y="501.80" width="43.40" height="16.40" fill="#f4b183" stroke="none" stroke-width="0.8"/>
<text x="0.00" y="0.00" font-size="9.22" text-anchor="middle" font-weight="normal" fill="#000" stroke="#000" stroke-width="0.08" transform="translate(306.20 513.97) scale(0.9 1)">-</text>
<rect x="327.90" y="501.80" width="42.80" height="16.40" fill="#f4b183" stroke="none" stroke-width="0.8"/>
<text x="0.00" y="0.00" font-size="9.22" text-anchor="middle" font-weight="normal" fill="#000" stroke="#000" stroke-width="0.08" transform="translate(349.30 513.97) scale(0.9 1)">&gt;7.000</text>
<rect x="370.70" y="501.80" width="42.80" height="16.40" fill="#f4b183" stroke="none" stroke-width="0.8"/>
<text x="0.00" y="0.00" font-size="9.22" text-anchor="middle" font-weight="normal" fill="#000" stroke="#000" stroke-width="0.08" transform="translate(392.10 513.97) scale(0.9 1)">-</text>
<rect x="413.50" y="501.80" width="42.90" height="16.40" fill="#f4b183" stroke="none" stroke-width="0.8"/>
<text x="0.00" y="0.00" font-size="9.22" text-anchor="middle" font-weight="normal" fill="#000" stroke="#000" stroke-width="0.08" transform="translate(434.95 513.97) scale(0.9 1)">-</text>
<rect x="456.40" y="501.80" width="50.60" height="16.40" fill="#f4b183" stroke="none" stroke-width="0.8"/>
<text x="0.00" y="0.00" font-size="9.22" text-anchor="middle" font-weight="normal" fill="#000" stroke="#000" stroke-width="0.08" transform="translate(481.70 513.97) scale(0.9 1)">-</text>
<text x="0.00" y="0.00" font-size="8.63" text-anchor="middle" font-weight="bold" fill="#000" stroke="#000" stroke-width="0.22" transform="translate(177.70 529.96) scale(0.95 1)">20n01</text>
<rect x="199.50" y="518.20" width="42.70" height="16.00" fill="#a9d08e" stroke="none" stroke-width="0.8"/>
<text x="0.00" y="0.00" font-size="9.22" text-anchor="middle" font-weight="normal" fill="#000" stroke="#000" stroke-width="0.08" transform="translate(220.85 530.17) scale(0.9 1)">0.0813</text>
<rect x="242.20" y="518.20" width="42.30" height="16.00" fill="#f4b183" stroke="none" stroke-width="0.8"/>
<text x="0.00" y="0.00" font-size="9.22" text-anchor="middle" font-weight="normal" fill="#000" stroke="#000" stroke-width="0.08" transform="translate(263.35 530.17) scale(0.9 1)">&gt;7.000</text>
<rect x="284.50" y="518.20" width="43.40" height="16.00" fill="#f4b183" stroke="none" stroke-width="0.8"/>
<text x="0.00" y="0.00" font-size="9.22" text-anchor="middle" font-weight="normal" fill="#000" stroke="#000" stroke-width="0.08" transform="translate(306.20 530.17) scale(0.9 1)">-</text>
<rect x="327.90" y="518.20" width="42.80" height="16.00" fill="#f4b183" stroke="none" stroke-width="0.8"/>
<text x="0.00" y="0.00" font-size="9.22" text-anchor="middle" font-weight="normal" fill="#000" stroke="#000" stroke-width="0.08" transform="translate(349.30 530.17) scale(0.9 1)">-</text>
<rect x="370.70" y="518.20" width="42.80" height="16.00" fill="#f4b183" stroke="none" stroke-width="0.8"/>
<text x="0.00" y="0.00" font-size="9.22" text-anchor="middle" font-weight="normal" fill="#000" stroke="#000" stroke-width="0.08" transform="translate(392.10 530.17) scale(0.9 1)">-</text>
<rect x="413.50" y="518.20" width="42.90" height="16.00" fill="#f4b183" stroke="none" stroke-width="0.8"/>
<text x="0.00" y="0.00" font-size="9.22" text-anchor="middle" font-weight="normal" fill="#000" stroke="#000" stroke-width="0.08" transform="translate(434.95 530.17) scale(0.9 1)">-</text>
<rect x="456.40" y="518.20" width="50.60" height="16.00" fill="#f4b183" stroke="none" stroke-width="0.8"/>
<text x="0.00" y="0.00" font-size="9.22" text-anchor="middle" font-weight="normal" fill="#000" stroke="#000" stroke-width="0.08" transform="translate(481.70 530.17) scale(0.9 1)">-</text>
<line x1="199.50" y1="453.40" x2="199.50" y2="534.20" stroke="#333" stroke-width="0.75"/>
<line x1="242.20" y1="453.40" x2="242.20" y2="534.20" stroke="#333" stroke-width="0.75"/>
<line x1="284.50" y1="453.40" x2="284.50" y2="534.20" stroke="#333" stroke-width="0.75"/>
<line x1="327.90" y1="453.40" x2="327.90" y2="534.20" stroke="#333" stroke-width="0.75"/>
<line x1="370.70" y1="453.40" x2="370.70" y2="534.20" stroke="#333" stroke-width="0.75"/>
<line x1="413.50" y1="453.40" x2="413.50" y2="534.20" stroke="#333" stroke-width="0.75"/>
<line x1="456.40" y1="453.40" x2="456.40" y2="534.20" stroke="#333" stroke-width="0.75"/>
<line x1="155.90" y1="469.50" x2="507.00" y2="469.50" stroke="#333" stroke-width="0.75"/>
<line x1="155.90" y1="485.50" x2="507.00" y2="485.50" stroke="#333" stroke-width="0.75"/>
<line x1="155.90" y1="501.80" x2="507.00" y2="501.80" stroke="#333" stroke-width="0.75"/>
<line x1="155.90" y1="518.20" x2="507.00" y2="518.20" stroke="#333" stroke-width="0.75"/>
<rect x="155.90" y="453.40" width="351.10" height="80.80" fill="none" stroke="#383838" stroke-width="1.2"/>
<text x="0.00" y="0.00" font-size="9.1" text-anchor="end" font-weight="bold" fill="#000" stroke="#000" stroke-width="0.22" transform="translate(567.90 528.80) scale(0.915 1)">IC50 (ug/mL)</text>
<rect x="573.30" y="518.30" width="43.00" height="15.90" fill="#a9d08e" stroke="none" stroke-width="0.8"/>
<text x="0.00" y="0.00" font-size="8.97" text-anchor="middle" font-weight="bold" fill="#000" stroke="#000" stroke-width="0.22" transform="translate(594.80 529.63) scale(0.87 1)">&lt; 0.2</text>
<rect x="616.30" y="518.30" width="46.30" height="15.90" fill="#ffffff" stroke="none" stroke-width="0.8"/>
<text x="0.00" y="0.00" font-size="8.97" text-anchor="middle" font-weight="bold" fill="#000" stroke="#000" stroke-width="0.22" transform="translate(639.45 529.63) scale(0.87 1)">0.2 – 1.0</text>
<rect x="662.60" y="518.30" width="39.80" height="15.90" fill="#f4b183" stroke="none" stroke-width="0.8"/>
<text x="0.00" y="0.00" font-size="8.97" text-anchor="middle" font-weight="bold" fill="#000" stroke="#000" stroke-width="0.22" transform="translate(682.50 529.63) scale(0.87 1)">&gt; 1.0</text>
<line x1="616.30" y1="518.30" x2="616.30" y2="534.20" stroke="#333" stroke-width="0.6"/>
<line x1="662.60" y1="518.30" x2="662.60" y2="534.20" stroke="#333" stroke-width="0.6"/>
<rect x="573.30" y="518.30" width="129.10" height="15.90" fill="none" stroke="#333" stroke-width="1.0"/>
<line x1="52.10" y1="671.10" x2="52.10" y2="585.40" stroke="#000" stroke-width="0.95"/>
<line x1="49.80" y1="671.10" x2="52.10" y2="671.10" stroke="#000" stroke-width="0.95"/>
<text x="48.10" y="673.55" font-size="6.8" text-anchor="end" font-weight="bold" fill="#000" stroke="#000" stroke-width="0.22">0</text>
<line x1="49.80" y1="628.25" x2="52.10" y2="628.25" stroke="#000" stroke-width="0.95"/>
<text x="48.10" y="630.70" font-size="6.8" text-anchor="end" font-weight="bold" fill="#000" stroke="#000" stroke-width="0.22">50</text>
<line x1="49.80" y1="585.40" x2="52.10" y2="585.40" stroke="#000" stroke-width="0.95"/>
<text x="48.10" y="587.85" font-size="6.8" text-anchor="end" font-weight="bold" fill="#000" stroke="#000" stroke-width="0.22">100</text>
<line x1="52.10" y1="671.10" x2="180.80" y2="671.10" stroke="#000" stroke-width="0.95"/>
<line x1="52.10" y1="671.10" x2="52.10" y2="673.60" stroke="#000" stroke-width="0.95"/>
<text x="52.10" y="680.10" font-size="6.3" text-anchor="middle" font-weight="bold" fill="#000" stroke="#000" stroke-width="0.22">10<tspan dy="-2.27" font-size="3.78">-7</tspan></text>
<line x1="66.40" y1="671.10" x2="66.40" y2="673.60" stroke="#000" stroke-width="0.95"/>
<text x="66.40" y="680.10" font-size="6.3" text-anchor="middle" font-weight="bold" fill="#000" stroke="#000" stroke-width="0.22">10<tspan dy="-2.27" font-size="3.78">-6</tspan></text>
<line x1="80.70" y1="671.10" x2="80.70" y2="673.60" stroke="#000" stroke-width="0.95"/>
<text x="80.70" y="680.10" font-size="6.3" text-anchor="middle" font-weight="bold" fill="#000" stroke="#000" stroke-width="0.22">10<tspan dy="-2.27" font-size="3.78">-5</tspan></text>
<line x1="95.00" y1="671.10" x2="95.00" y2="673.60" stroke="#000" stroke-width="0.95"/>
<text x="95.00" y="680.10" font-size="6.3" text-anchor="middle" font-weight="bold" fill="#000" stroke="#000" stroke-width="0.22">10<tspan dy="-2.27" font-size="3.78">-4</tspan></text>
<line x1="109.30" y1="671.10" x2="109.30" y2="673.60" stroke="#000" stroke-width="0.95"/>
<text x="109.30" y="680.10" font-size="6.3" text-anchor="middle" font-weight="bold" fill="#000" stroke="#000" stroke-width="0.22">10<tspan dy="-2.27" font-size="3.78">-3</tspan></text>
<line x1="123.60" y1="671.10" x2="123.60" y2="673.60" stroke="#000" stroke-width="0.95"/>
<text x="123.60" y="680.10" font-size="6.3" text-anchor="middle" font-weight="bold" fill="#000" stroke="#000" stroke-width="0.22">10<tspan dy="-2.27" font-size="3.78">-2</tspan></text>
<line x1="137.90" y1="671.10" x2="137.90" y2="673.60" stroke="#000" stroke-width="0.95"/>
<text x="137.90" y="680.10" font-size="6.3" text-anchor="middle" font-weight="bold" fill="#000" stroke="#000" stroke-width="0.22">10<tspan dy="-2.27" font-size="3.78">-1</tspan></text>
<line x1="152.20" y1="671.10" x2="152.20" y2="673.60" stroke="#000" stroke-width="0.95"/>
<text x="152.20" y="680.10" font-size="6.3" text-anchor="middle" font-weight="bold" fill="#000" stroke="#000" stroke-width="0.22">10<tspan dy="-2.27" font-size="3.78">0</tspan></text>
<line x1="166.50" y1="671.10" x2="166.50" y2="673.60" stroke="#000" stroke-width="0.95"/>
<text x="166.50" y="680.10" font-size="6.3" text-anchor="middle" font-weight="bold" fill="#000" stroke="#000" stroke-width="0.22">10<tspan dy="-2.27" font-size="3.78">1</tspan></text>
<line x1="180.80" y1="671.10" x2="180.80" y2="673.60" stroke="#000" stroke-width="0.95"/>
<text x="180.80" y="680.10" font-size="6.3" text-anchor="middle" font-weight="bold" fill="#000" stroke="#000" stroke-width="0.22">10<tspan dy="-2.27" font-size="3.78">2</tspan></text>
<text x="116.30" y="691.40" font-size="7.1" text-anchor="middle" font-weight="bold" fill="#000" stroke="#000" stroke-width="0.22">Concentration [ug/ml]</text>
<text x="33.50" y="628.30" font-size="7.2" text-anchor="middle" font-weight="bold" fill="#000" stroke="#000" stroke-width="0.22" transform="rotate(-90 33.50 628.30)">Inhibition (%)</text>
<line x1="200.00" y1="592.10" x2="209.20" y2="592.10" stroke="#0000ff" stroke-width="0.9"/>
<circle cx="204.30" cy="592.10" r="1.8" fill="#0000ff"/>
<text x="214.30" y="594.71" font-size="7.25" text-anchor="start" font-weight="normal" fill="#000" stroke="#000" stroke-width="0.08">19n01_G614</text>
<line x1="200.00" y1="603.70" x2="209.20" y2="603.70" stroke="#ff0000" stroke-width="0.9"/>
<circle cx="204.30" cy="603.70" r="1.8" fill="#ff0000"/>
<text x="214.30" y="606.31" font-size="7.25" text-anchor="start" font-weight="normal" fill="#000" stroke="#000" stroke-width="0.08">19n01_BA.1</text>
<line x1="200.00" y1="615.30" x2="209.20" y2="615.30" stroke="#00cc00" stroke-width="0.9"/>
<circle cx="204.30" cy="615.30" r="1.8" fill="#00cc00"/>
<text x="214.30" y="617.91" font-size="7.25" text-anchor="start" font-weight="normal" fill="#000" stroke="#000" stroke-width="0.08">19n01_BA.2</text>
<line x1="200.00" y1="626.80" x2="209.20" y2="626.80" stroke="#b000f0" stroke-width="0.9"/>
<circle cx="204.30" cy="626.80" r="1.8" fill="#b000f0"/>
<text x="214.30" y="629.41" font-size="7.25" text-anchor="start" font-weight="normal" fill="#000" stroke="#000" stroke-width="0.08">19n01_BA.4/5</text>
<line x1="200.00" y1="638.40" x2="209.20" y2="638.40" stroke="#5a0050" stroke-width="0.9"/>
<circle cx="204.30" cy="638.40" r="1.8" fill="#5a0050"/>
<text x="214.30" y="641.01" font-size="7.25" text-anchor="start" font-weight="normal" fill="#000" stroke="#000" stroke-width="0.08">LY-CoV1404_G614</text>
<line x1="200.00" y1="650.00" x2="209.20" y2="650.00" stroke="#a00000" stroke-width="0.9"/>
<circle cx="204.30" cy="650.00" r="1.8" fill="#a00000"/>
<text x="214.30" y="652.61" font-size="7.25" text-anchor="start" font-weight="normal" fill="#000" stroke="#000" stroke-width="0.08">LY-CoV1404_BA.1</text>
<line x1="200.00" y1="661.50" x2="209.20" y2="661.50" stroke="#005a00" stroke-width="0.9"/>
<circle cx="204.30" cy="661.50" r="1.8" fill="#005a00"/>
<text x="214.30" y="664.11" font-size="7.25" text-anchor="start" font-weight="normal" fill="#000" stroke="#000" stroke-width="0.08">LY-CoV1404_BA.2</text>
<line x1="200.00" y1="673.10" x2="209.20" y2="673.10" stroke="#f4b07a" stroke-width="0.9"/>
<circle cx="204.30" cy="673.10" r="1.8" fill="#f4b07a"/>
<text x="214.30" y="675.71" font-size="7.25" text-anchor="start" font-weight="normal" fill="#000" stroke="#000" stroke-width="0.08">LY-CoV1404_BA.4/5</text>
<text x="0.00" y="0.00" font-size="7.68" text-anchor="middle" font-weight="bold" fill="#000" stroke="#000" stroke-width="0.22" transform="translate(115.75 713.83) scale(0.95 1)">G614</text>
<text x="0.00" y="0.00" font-size="7.68" text-anchor="middle" font-weight="bold" fill="#000" stroke="#000" stroke-width="0.22" transform="translate(149.10 713.83) scale(0.95 1)">BA.1</text>
<text x="0.00" y="0.00" font-size="7.68" text-anchor="middle" font-weight="bold" fill="#000" stroke="#000" stroke-width="0.22" transform="translate(182.30 713.83) scale(0.95 1)">BA.2</text>
<text x="0.00" y="0.00" font-size="7.68" text-anchor="middle" font-weight="bold" fill="#000" stroke="#000" stroke-width="0.22" transform="translate(216.05 713.83) scale(0.95 1)">BA.4/5</text>
<text x="0.00" y="0.00" font-size="7.68" text-anchor="middle" font-weight="bold" fill="#000" stroke="#000" stroke-width="0.22" transform="translate(71.60 728.03) scale(0.95 1)">19n01</text>
<rect x="98.60" y="718.60" width="34.30" height="14.20" fill="#a9d08e" stroke="none" stroke-width="0.8"/>
<text x="0.00" y="0.00" font-size="7.78" text-anchor="middle" font-weight="normal" fill="#000" stroke="#000" stroke-width="0.08" transform="translate(115.75 728.06) scale(0.9 1)">0.0035</text>
<rect x="132.90" y="718.60" width="32.40" height="14.20" fill="#a9d08e" stroke="none" stroke-width="0.8"/>
<text x="0.00" y="0.00" font-size="7.78" text-anchor="middle" font-weight="normal" fill="#000" stroke="#000" stroke-width="0.08" transform="translate(149.10 728.06) scale(0.9 1)">0.0164</text>
<rect x="165.30" y="718.60" width="34.00" height="14.20" fill="#a9d08e" stroke="none" stroke-width="0.8"/>
<text x="0.00" y="0.00" font-size="7.78" text-anchor="middle" font-weight="normal" fill="#000" stroke="#000" stroke-width="0.08" transform="translate(182.30 728.06) scale(0.9 1)">0.0081</text>
<rect x="199.30" y="718.60" width="33.50" height="14.20" fill="#a9d08e" stroke="none" stroke-width="0.8"/>
<text x="0.00" y="0.00" font-size="7.78" text-anchor="middle" font-weight="normal" fill="#000" stroke="#000" stroke-width="0.08" transform="translate(216.05 728.06) scale(0.9 1)">0.0056</text>
<text x="0.00" y="0.00" font-size="7.68" text-anchor="middle" font-weight="bold" fill="#000" stroke="#000" stroke-width="0.22" transform="translate(71.60 742.98) scale(0.95 1)">LY-CoV1404</text>
<rect x="98.60" y="732.80" width="34.30" height="15.70" fill="#a9d08e" stroke="none" stroke-width="0.8"/>
<text x="0.00" y="0.00" font-size="7.78" text-anchor="middle" font-weight="normal" fill="#000" stroke="#000" stroke-width="0.08" transform="translate(115.75 743.01) scale(0.9 1)">0.0013</text>
<rect x="132.90" y="732.80" width="32.40" height="15.70" fill="#a9d08e" stroke="none" stroke-width="0.8"/>
<text x="0.00" y="0.00" font-size="7.78" text-anchor="middle" font-weight="normal" fill="#000" stroke="#000" stroke-width="0.08" transform="translate(149.10 743.01) scale(0.9 1)">0.0016</text>
<rect x="165.30" y="732.80" width="34.00" height="15.70" fill="#a9d08e" stroke="none" stroke-width="0.8"/>
<text x="0.00" y="0.00" font-size="7.78" text-anchor="middle" font-weight="normal" fill="#000" stroke="#000" stroke-width="0.08" transform="translate(182.30 743.01) scale(0.9 1)">0.0010</text>
<rect x="199.30" y="732.80" width="33.50" height="15.70" fill="#a9d08e" stroke="none" stroke-width="0.8"/>
<text x="0.00" y="0.00" font-size="7.78" text-anchor="middle" font-weight="normal" fill="#000" stroke="#000" stroke-width="0.08" transform="translate(216.05 743.01) scale(0.9 1)">0.0020</text>
<line x1="98.60" y1="704.40" x2="98.60" y2="748.50" stroke="#333" stroke-width="0.75"/>
<line x1="132.90" y1="704.40" x2="132.90" y2="748.50" stroke="#333" stroke-width="0.75"/>
<line x1="165.30" y1="704.40" x2="165.30" y2="748.50" stroke="#333" stroke-width="0.75"/>
<line x1="199.30" y1="704.40" x2="199.30" y2="748.50" stroke="#333" stroke-width="0.75"/>
<line x1="44.60" y1="718.60" x2="232.80" y2="718.60" stroke="#333" stroke-width="0.75"/>
<line x1="44.60" y1="732.80" x2="232.80" y2="732.80" stroke="#333" stroke-width="0.75"/>
<rect x="44.60" y="704.40" width="188.20" height="44.10" fill="none" stroke="#383838" stroke-width="1.2"/>
<text x="0.00" y="0.00" font-size="8.0" text-anchor="end" font-weight="bold" fill="#000" stroke="#000" stroke-width="0.22" transform="translate(91.40 765.90) scale(0.915 1)">IC50 (ug/mL)</text>
<rect x="95.40" y="756.60" width="37.50" height="13.90" fill="#a9d08e" stroke="none" stroke-width="0.8"/>
<text x="0.00" y="0.00" font-size="8.28" text-anchor="middle" font-weight="bold" fill="#000" stroke="#000" stroke-width="0.22" transform="translate(114.15 766.69) scale(0.87 1)">&lt; 0.1</text>
<rect x="132.90" y="756.60" width="39.40" height="13.90" fill="#ffffff" stroke="none" stroke-width="0.8"/>
<text x="0.00" y="0.00" font-size="8.28" text-anchor="middle" font-weight="bold" fill="#000" stroke="#000" stroke-width="0.22" transform="translate(152.60 766.69) scale(0.87 1)">0.1 – 1.0</text>
<rect x="172.30" y="756.60" width="34.20" height="13.90" fill="#f4b183" stroke="none" stroke-width="0.8"/>
<text x="0.00" y="0.00" font-size="8.28" text-anchor="middle" font-weight="bold" fill="#000" stroke="#000" stroke-width="0.22" transform="translate(189.40 766.69) scale(0.87 1)">&gt; 1.0</text>
<line x1="132.90" y1="756.60" x2="132.90" y2="770.50" stroke="#333" stroke-width="0.6"/>
<line x1="172.30" y1="756.60" x2="172.30" y2="770.50" stroke="#333" stroke-width="0.6"/>
<rect x="95.40" y="756.60" width="111.10" height="13.90" fill="none" stroke="#333" stroke-width="1.0"/>
<line x1="336.20" y1="689.50" x2="336.20" y2="587.50" stroke="#000" stroke-width="1.0"/>
<line x1="333.60" y1="689.50" x2="336.20" y2="689.50" stroke="#000" stroke-width="1.0"/>
<text x="332.20" y="691.98" font-size="6.9" text-anchor="end" font-weight="bold" fill="#000" stroke="#000" stroke-width="0.22">-50</text>
<line x1="333.60" y1="664.00" x2="336.20" y2="664.00" stroke="#000" stroke-width="1.0"/>
<text x="332.20" y="666.48" font-size="6.9" text-anchor="end" font-weight="bold" fill="#000" stroke="#000" stroke-width="0.22">0</text>
<line x1="333.60" y1="638.50" x2="336.20" y2="638.50" stroke="#000" stroke-width="1.0"/>
<text x="332.20" y="640.98" font-size="6.9" text-anchor="end" font-weight="bold" fill="#000" stroke="#000" stroke-width="0.22">50</text>
<line x1="333.60" y1="613.00" x2="336.20" y2="613.00" stroke="#000" stroke-width="1.0"/>
<text x="332.20" y="615.48" font-size="6.9" text-anchor="end" font-weight="bold" fill="#000" stroke="#000" stroke-width="0.22">100</text>
<line x1="333.60" y1="587.50" x2="336.20" y2="587.50" stroke="#000" stroke-width="1.0"/>
<text x="332.20" y="589.98" font-size="6.9" text-anchor="end" font-weight="bold" fill="#000" stroke="#000" stroke-width="0.22">150</text>
<line x1="336.20" y1="664.00" x2="483.50" y2="664.00" stroke="#000" stroke-width="1.0"/>
<line x1="361.94" y1="664.00" x2="361.94" y2="666.50" stroke="#000" stroke-width="1.0"/>
<text x="361.94" y="675.40" font-size="7.4" text-anchor="middle" font-weight="bold" fill="#000" stroke="#000" stroke-width="0.22">10<tspan dy="-2.66" font-size="4.74">-3</tspan></text>
<line x1="386.08" y1="664.00" x2="386.08" y2="666.50" stroke="#000" stroke-width="1.0"/>
<text x="386.08" y="675.40" font-size="7.4" text-anchor="middle" font-weight="bold" fill="#000" stroke="#000" stroke-width="0.22">10<tspan dy="-2.66" font-size="4.74">-2</tspan></text>
<line x1="410.22" y1="664.00" x2="410.22" y2="666.50" stroke="#000" stroke-width="1.0"/>
<text x="410.22" y="675.40" font-size="7.4" text-anchor="middle" font-weight="bold" fill="#000" stroke="#000" stroke-width="0.22">10<tspan dy="-2.66" font-size="4.74">-1</tspan></text>
<line x1="434.36" y1="664.00" x2="434.36" y2="666.50" stroke="#000" stroke-width="1.0"/>
<text x="434.36" y="675.40" font-size="7.4" text-anchor="middle" font-weight="bold" fill="#000" stroke="#000" stroke-width="0.22">10<tspan dy="-2.66" font-size="4.74">0</tspan></text>
<line x1="458.50" y1="664.00" x2="458.50" y2="666.50" stroke="#000" stroke-width="1.0"/>
<text x="458.50" y="675.40" font-size="7.4" text-anchor="middle" font-weight="bold" fill="#000" stroke="#000" stroke-width="0.22">10<tspan dy="-2.66" font-size="4.74">1</tspan></text>
<line x1="482.64" y1="664.00" x2="482.64" y2="666.50" stroke="#000" stroke-width="1.0"/>
<text x="482.64" y="675.40" font-size="7.4" text-anchor="middle" font-weight="bold" fill="#000" stroke="#000" stroke-width="0.22">10<tspan dy="-2.66" font-size="4.74">2</tspan></text>
<text x="409.70" y="686.50" font-size="8.0" text-anchor="middle" font-weight="bold" fill="#000" stroke="#000" stroke-width="0.22">Concentration mAb (ug/mL)</text>
<text x="0.00" y="0.00" font-size="10.9" text-anchor="middle" font-weight="bold" fill="#000" stroke="#000" stroke-width="0.22" transform="translate(410.30 575.30) scale(0.84 1)">19n01</text>
<text x="315.80" y="638.20" font-size="8.0" text-anchor="middle" font-weight="bold" fill="#000" stroke="#000" stroke-width="0.22" transform="rotate(-90 315.80 638.20)">Inhibition (%)</text>
<line x1="535.10" y1="683.80" x2="535.10" y2="585.30" stroke="#000" stroke-width="1.0"/>
<line x1="532.50" y1="683.80" x2="535.10" y2="683.80" stroke="#000" stroke-width="1.0"/>
<text x="531.10" y="686.28" font-size="6.9" text-anchor="end" font-weight="bold" fill="#000" stroke="#000" stroke-width="0.22">-50</text>
<line x1="532.50" y1="664.10" x2="535.10" y2="664.10" stroke="#000" stroke-width="1.0"/>
<text x="531.10" y="666.58" font-size="6.9" text-anchor="end" font-weight="bold" fill="#000" stroke="#000" stroke-width="0.22">0</text>
<line x1="532.50" y1="644.40" x2="535.10" y2="644.40" stroke="#000" stroke-width="1.0"/>
<text x="531.10" y="646.88" font-size="6.9" text-anchor="end" font-weight="bold" fill="#000" stroke="#000" stroke-width="0.22">50</text>
<line x1="532.50" y1="624.70" x2="535.10" y2="624.70" stroke="#000" stroke-width="1.0"/>
<text x="531.10" y="627.18" font-size="6.9" text-anchor="end" font-weight="bold" fill="#000" stroke="#000" stroke-width="0.22">100</text>
<line x1="532.50" y1="605.00" x2="535.10" y2="605.00" stroke="#000" stroke-width="1.0"/>
<text x="531.10" y="607.48" font-size="6.9" text-anchor="end" font-weight="bold" fill="#000" stroke="#000" stroke-width="0.22">150</text>
<line x1="532.50" y1="585.30" x2="535.10" y2="585.30" stroke="#000" stroke-width="1.0"/>
<text x="531.10" y="587.78" font-size="6.9" text-anchor="end" font-weight="bold" fill="#000" stroke="#000" stroke-width="0.22">200</text>
<line x1="535.10" y1="664.10" x2="683.50" y2="664.10" stroke="#000" stroke-width="1.0"/>
<line x1="572.20" y1="664.10" x2="572.20" y2="666.60" stroke="#000" stroke-width="1.0"/>
<text x="572.20" y="675.50" font-size="7.4" text-anchor="middle" font-weight="bold" fill="#000" stroke="#000" stroke-width="0.22">10<tspan dy="-2.66" font-size="4.74">-1</tspan></text>
<line x1="609.10" y1="664.10" x2="609.10" y2="666.60" stroke="#000" stroke-width="1.0"/>
<text x="609.10" y="675.50" font-size="7.4" text-anchor="middle" font-weight="bold" fill="#000" stroke="#000" stroke-width="0.22">10<tspan dy="-2.66" font-size="4.74">0</tspan></text>
<line x1="646.00" y1="664.10" x2="646.00" y2="666.60" stroke="#000" stroke-width="1.0"/>
<text x="646.00" y="675.50" font-size="7.4" text-anchor="middle" font-weight="bold" fill="#000" stroke="#000" stroke-width="0.22">10<tspan dy="-2.66" font-size="4.74">1</tspan></text>
<line x1="682.90" y1="664.10" x2="682.90" y2="666.60" stroke="#000" stroke-width="1.0"/>
<text x="682.90" y="675.50" font-size="7.4" text-anchor="middle" font-weight="bold" fill="#000" stroke="#000" stroke-width="0.22">10<tspan dy="-2.66" font-size="4.74">2</tspan></text>
<text x="609.10" y="686.50" font-size="8.2" text-anchor="middle" font-weight="bold" fill="#000" stroke="#000" stroke-width="0.22">Concentration mAb (ug/mL)</text>
<text x="0.00" y="0.00" font-size="10.9" text-anchor="middle" font-weight="bold" fill="#000" stroke="#000" stroke-width="0.22" transform="translate(609.10 576.80) scale(0.84 1)">20n01</text>
<text x="515.60" y="634.50" font-size="7.9" text-anchor="middle" font-weight="bold" fill="#000" stroke="#000" stroke-width="0.22" transform="rotate(-90 515.60 634.50)">Inhibition (%)</text>
<line x1="708.30" y1="593.70" x2="719.90" y2="593.70" stroke="#0000ff" stroke-width="0.9"/>
<circle cx="714.30" cy="593.70" r="1.9" fill="#0000ff"/>
<text x="724.90" y="596.47" font-size="7.7" text-anchor="start" font-weight="normal" fill="#000" stroke="#000" stroke-width="0.08">G614</text>
<line x1="708.30" y1="607.30" x2="719.90" y2="607.30" stroke="#ff0000" stroke-width="0.9"/>
<circle cx="714.30" cy="607.30" r="1.9" fill="#ff0000"/>
<text x="724.90" y="610.07" font-size="7.7" text-anchor="start" font-weight="normal" fill="#000" stroke="#000" stroke-width="0.08">Alpha</text>
<line x1="708.30" y1="620.50" x2="719.90" y2="620.50" stroke="#00bb00" stroke-width="0.9"/>
<circle cx="714.30" cy="620.50" r="1.9" fill="#00bb00"/>
<text x="724.90" y="623.27" font-size="7.7" text-anchor="start" font-weight="normal" fill="#000" stroke="#000" stroke-width="0.08">Beta</text>
<line x1="708.30" y1="633.70" x2="719.90" y2="633.70" stroke="#b000f0" stroke-width="0.9"/>
<circle cx="714.30" cy="633.70" r="1.9" fill="#b000f0"/>
<text x="724.90" y="636.47" font-size="7.7" text-anchor="start" font-weight="normal" fill="#000" stroke="#000" stroke-width="0.08">Delta</text>
<line x1="708.30" y1="647.00" x2="719.90" y2="647.00" stroke="#ff8000" stroke-width="0.9"/>
<circle cx="714.30" cy="647.00" r="1.9" fill="#ff8000"/>
<text x="724.90" y="649.77" font-size="7.7" text-anchor="start" font-weight="normal" fill="#000" stroke="#000" stroke-width="0.08">BA.1</text>
<line x1="708.30" y1="660.20" x2="719.90" y2="660.20" stroke="#000000" stroke-width="0.9"/>
<circle cx="714.30" cy="660.20" r="1.9" fill="#000000"/>
<text x="724.90" y="662.97" font-size="7.7" text-anchor="start" font-weight="normal" fill="#000" stroke="#000" stroke-width="0.08">BA.2</text>
<line x1="708.30" y1="673.40" x2="719.90" y2="673.40" stroke="#8c5a1c" stroke-width="0.9"/>
<circle cx="714.30" cy="673.40" r="1.9" fill="#8c5a1c"/>
<text x="724.90" y="676.17" font-size="7.7" text-anchor="start" font-weight="normal" fill="#000" stroke="#000" stroke-width="0.08">BA.5</text>
<text x="0.00" y="0.00" font-size="7.47" text-anchor="middle" font-weight="bold" fill="#000" stroke="#000" stroke-width="0.22" transform="translate(392.30 714.05) scale(0.95 1)">G614</text>
<text x="0.00" y="0.00" font-size="7.47" text-anchor="middle" font-weight="bold" fill="#000" stroke="#000" stroke-width="0.22" transform="translate(429.10 714.05) scale(0.95 1)">Alpha</text>
<text x="0.00" y="0.00" font-size="7.47" text-anchor="middle" font-weight="bold" fill="#000" stroke="#000" stroke-width="0.22" transform="translate(465.95 714.05) scale(0.95 1)">Beta</text>
<text x="0.00" y="0.00" font-size="7.47" text-anchor="middle" font-weight="bold" fill="#000" stroke="#000" stroke-width="0.22" transform="translate(502.85 714.05) scale(0.95 1)">Delta</text>
<text x="0.00" y="0.00" font-size="7.47" text-anchor="middle" font-weight="bold" fill="#000" stroke="#000" stroke-width="0.22" transform="translate(539.80 714.05) scale(0.95 1)">BA.1</text>
<text x="0.00" y="0.00" font-size="7.47" text-anchor="middle" font-weight="bold" fill="#000" stroke="#000" stroke-width="0.22" transform="translate(576.50 714.05) scale(0.95 1)">BA.2</text>
<text x="0.00" y="0.00" font-size="7.47" text-anchor="middle" font-weight="bold" fill="#000" stroke="#000" stroke-width="0.22" transform="translate(613.00 714.05) scale(0.95 1)">BA.5</text>
<text x="0.00" y="0.00" font-size="7.47" text-anchor="middle" font-weight="bold" fill="#000" stroke="#000" stroke-width="0.22" transform="translate(355.35 728.30) scale(0.95 1)">19n01</text>
<rect x="373.90" y="718.40" width="36.80" height="14.50" fill="#a9d08e" stroke="none" stroke-width="0.8"/>
<text x="0.00" y="0.00" font-size="7.89" text-anchor="middle" font-weight="normal" fill="#000" stroke="#000" stroke-width="0.08" transform="translate(392.30 728.45) scale(0.9 1)">0.0133</text>
<rect x="410.70" y="718.40" width="36.80" height="14.50" fill="#a9d08e" stroke="none" stroke-width="0.8"/>
<text x="0.00" y="0.00" font-size="7.89" text-anchor="middle" font-weight="normal" fill="#000" stroke="#000" stroke-width="0.08" transform="translate(429.10 728.45) scale(0.9 1)">0.0993</text>
<rect x="447.50" y="718.40" width="36.90" height="14.50" fill="#a9d08e" stroke="none" stroke-width="0.8"/>
<text x="0.00" y="0.00" font-size="7.89" text-anchor="middle" font-weight="normal" fill="#000" stroke="#000" stroke-width="0.08" transform="translate(465.95 728.45) scale(0.9 1)">0.0961</text>
<rect x="484.40" y="718.40" width="36.90" height="14.50" fill="#a9d08e" stroke="none" stroke-width="0.8"/>
<text x="0.00" y="0.00" font-size="7.89" text-anchor="middle" font-weight="normal" fill="#000" stroke="#000" stroke-width="0.08" transform="translate(502.85 728.45) scale(0.9 1)">0.0521</text>
<text x="0.00" y="0.00" font-size="7.89" text-anchor="middle" font-weight="normal" fill="#000" stroke="#000" stroke-width="0.08" transform="translate(539.80 728.45) scale(0.9 1)">0.2673</text>
<rect x="558.30" y="718.40" width="36.40" height="14.50" fill="#a9d08e" stroke="none" stroke-width="0.8"/>
<text x="0.00" y="0.00" font-size="7.89" text-anchor="middle" font-weight="normal" fill="#000" stroke="#000" stroke-width="0.08" transform="translate(576.50 728.45) scale(0.9 1)">0.0685</text>
<rect x="594.70" y="718.40" width="36.60" height="14.50" fill="#a9d08e" stroke="none" stroke-width="0.8"/>
<text x="0.00" y="0.00" font-size="7.89" text-anchor="middle" font-weight="normal" fill="#000" stroke="#000" stroke-width="0.08" transform="translate(613.00 728.45) scale(0.9 1)">0.0445</text>
<text x="0.00" y="0.00" font-size="7.47" text-anchor="middle" font-weight="bold" fill="#000" stroke="#000" stroke-width="0.22" transform="translate(355.35 742.70) scale(0.95 1)">20n01</text>
<rect x="373.90" y="732.90" width="36.80" height="14.30" fill="#a9d08e" stroke="none" stroke-width="0.8"/>
<text x="0.00" y="0.00" font-size="7.89" text-anchor="middle" font-weight="normal" fill="#000" stroke="#000" stroke-width="0.08" transform="translate(392.30 742.85) scale(0.9 1)">0.0677</text>
<rect x="410.70" y="732.90" width="36.80" height="14.30" fill="#a9d08e" stroke="none" stroke-width="0.8"/>
<text x="0.00" y="0.00" font-size="7.89" text-anchor="middle" font-weight="normal" fill="#000" stroke="#000" stroke-width="0.08" transform="translate(429.10 742.85) scale(0.9 1)">0.0678</text>
<rect x="447.50" y="732.90" width="36.90" height="14.30" fill="#f4b183" stroke="none" stroke-width="0.8"/>
<text x="0.00" y="0.00" font-size="7.89" text-anchor="middle" font-weight="normal" fill="#000" stroke="#000" stroke-width="0.08" transform="translate(465.95 742.85) scale(0.9 1)">&gt;50.00</text>
<rect x="484.40" y="732.90" width="36.90" height="14.30" fill="#f4b183" stroke="none" stroke-width="0.8"/>
<text x="0.00" y="0.00" font-size="7.89" text-anchor="middle" font-weight="normal" fill="#000" stroke="#000" stroke-width="0.08" transform="translate(502.85 742.85) scale(0.9 1)">4.51</text>
<rect x="521.30" y="732.90" width="37.00" height="14.30" fill="#f4b183" stroke="none" stroke-width="0.8"/>
<text x="0.00" y="0.00" font-size="7.89" text-anchor="middle" font-weight="normal" fill="#000" stroke="#000" stroke-width="0.08" transform="translate(539.80 742.85) scale(0.9 1)">&gt;50.00</text>
<rect x="558.30" y="732.90" width="36.40" height="14.30" fill="#f4b183" stroke="none" stroke-width="0.8"/>
<text x="0.00" y="0.00" font-size="7.89" text-anchor="middle" font-weight="normal" fill="#000" stroke="#000" stroke-width="0.08" transform="translate(576.50 742.85) scale(0.9 1)">&gt;50.00</text>
<rect x="594.70" y="732.90" width="36.60" height="14.30" fill="#f4b183" stroke="none" stroke-width="0.8"/>
<text x="0.00" y="0.00" font-size="7.89" text-anchor="middle" font-weight="normal" fill="#000" stroke="#000" stroke-width="0.08" transform="translate(613.00 742.85) scale(0.9 1)">-</text>
<line x1="373.90" y1="704.40" x2="373.90" y2="747.20" stroke="#333" stroke-width="0.75"/>
<line x1="410.70" y1="704.40" x2="410.70" y2="747.20" stroke="#333" stroke-width="0.75"/>
<line x1="447.50" y1="704.40" x2="447.50" y2="747.20" stroke="#333" stroke-width="0.75"/>
<line x1="484.40" y1="704.40" x2="484.40" y2="747.20" stroke="#333" stroke-width="0.75"/>
<line x1="521.30" y1="704.40" x2="521.30" y2="747.20" stroke="#333" stroke-width="0.75"/>
<line x1="558.30" y1="704.40" x2="558.30" y2="747.20" stroke="#333" stroke-width="0.75"/>
<line x1="594.70" y1="704.40" x2="594.70" y2="747.20" stroke="#333" stroke-width="0.75"/>
<line x1="336.80" y1="718.40" x2="631.30" y2="718.40" stroke="#333" stroke-width="0.75"/>
<line x1="336.80" y1="732.90" x2="631.30" y2="732.90" stroke="#333" stroke-width="0.75"/>
<rect x="336.80" y="704.40" width="294.50" height="42.80" fill="none" stroke="#383838" stroke-width="1.2"/>
<text x="0.00" y="0.00" font-size="7.9" text-anchor="end" font-weight="bold" fill="#000" stroke="#000" stroke-width="0.22" transform="translate(380.40 761.80) scale(0.915 1)">IC50 (ug/mL)</text>
<rect x="385.40" y="751.60" width="36.20" height="14.10" fill="#a9d08e" stroke="none" stroke-width="0.8"/>
<text x="0.00" y="0.00" font-size="8.16" text-anchor="middle" font-weight="bold" fill="#000" stroke="#000" stroke-width="0.22" transform="translate(403.50 761.75) scale(0.87 1)">&lt; 0.1</text>
<rect x="421.60" y="751.60" width="39.80" height="14.10" fill="#ffffff" stroke="none" stroke-width="0.8"/>
<text x="0.00" y="0.00" font-size="8.16" text-anchor="middle" font-weight="bold" fill="#000" stroke="#000" stroke-width="0.22" transform="translate(441.50 761.75) scale(0.87 1)">0.1 – 1.0</text>
<rect x="461.40" y="751.60" width="33.30" height="14.10" fill="#f4b183" stroke="none" stroke-width="0.8"/>
<text x="0.00" y="0.00" font-size="8.16" text-anchor="middle" font-weight="bold" fill="#000" stroke="#000" stroke-width="0.22" transform="translate(478.05 761.75) scale(0.87 1)">&gt; 1.0</text>
<line x1="421.60" y1="751.60" x2="421.60" y2="765.70" stroke="#333" stroke-width="0.6"/>
<line x1="461.40" y1="751.60" x2="461.40" y2="765.70" stroke="#333" stroke-width="0.6"/>
<rect x="385.40" y="751.60" width="109.30" height="14.10" fill="none" stroke="#333" stroke-width="1.0"/>
<polyline points="69.01,112.40 76.48,112.20 83.95,111.50 91.42,110.50 98.89,108.50 106.36,106.00 113.83,100.00 121.30,92.00 128.77,80.00 136.24,70.00 143.71,63.00 151.18,60.00 158.65,58.50" fill="none" stroke="#888888" stroke-width="0.6"/>
<circle cx="69.01" cy="112.40" r="1.6" fill="#666666"/>
<circle cx="76.48" cy="112.20" r="1.6" fill="#666666"/>
<circle cx="83.95" cy="111.50" r="1.6" fill="#666666"/>
<circle cx="91.42" cy="110.50" r="1.6" fill="#666666"/>
<circle cx="98.89" cy="108.50" r="1.6" fill="#666666"/>
<circle cx="106.36" cy="106.00" r="1.6" fill="#666666"/>
<circle cx="113.83" cy="100.00" r="1.6" fill="#666666"/>
<circle cx="121.30" cy="92.00" r="1.6" fill="#666666"/>
<circle cx="128.77" cy="80.00" r="1.6" fill="#666666"/>
<circle cx="136.24" cy="70.00" r="1.6" fill="#666666"/>
<circle cx="143.71" cy="63.00" r="1.6" fill="#666666"/>
<circle cx="151.18" cy="60.00" r="1.6" fill="#666666"/>
<circle cx="158.65" cy="58.50" r="1.6" fill="#666666"/>
<polyline points="76.48,112.40 83.95,112.30 91.42,111.80 98.89,110.80 106.36,108.50 113.83,104.00 121.30,96.00 128.77,84.00 136.24,72.00 143.71,64.50 151.18,61.00 158.65,59.00" fill="none" stroke="#50dca0" stroke-width="0.6"/>
<circle cx="76.48" cy="112.40" r="1.6" fill="#1fd07f"/>
<circle cx="83.95" cy="112.30" r="1.6" fill="#1fd07f"/>
<circle cx="91.42" cy="111.80" r="1.6" fill="#1fd07f"/>
<circle cx="98.89" cy="110.80" r="1.6" fill="#1fd07f"/>
<circle cx="106.36" cy="108.50" r="1.6" fill="#1fd07f"/>
<circle cx="113.83" cy="104.00" r="1.6" fill="#1fd07f"/>
<circle cx="121.30" cy="96.00" r="1.6" fill="#1fd07f"/>
<circle cx="128.77" cy="84.00" r="1.6" fill="#1fd07f"/>
<circle cx="136.24" cy="72.00" r="1.6" fill="#1fd07f"/>
<circle cx="143.71" cy="64.50" r="1.6" fill="#1fd07f"/>
<circle cx="151.18" cy="61.00" r="1.6" fill="#1fd07f"/>
<circle cx="158.65" cy="59.00" r="1.6" fill="#1fd07f"/>
<polyline points="76.48,112.30 83.95,112.00 91.42,111.50 98.89,111.00 106.36,108.00 113.83,100.00 121.30,90.00 128.77,78.00 136.24,67.00 143.71,59.30 151.18,58.50 158.65,58.00" fill="none" stroke="#e070a8" stroke-width="0.6"/>
<circle cx="76.48" cy="112.30" r="1.6" fill="#c8106a"/>
<circle cx="83.95" cy="112.00" r="1.6" fill="#c8106a"/>
<circle cx="91.42" cy="111.50" r="1.6" fill="#c8106a"/>
<circle cx="98.89" cy="111.00" r="1.6" fill="#c8106a"/>
<circle cx="106.36" cy="108.00" r="1.6" fill="#c8106a"/>
<circle cx="113.83" cy="100.00" r="1.6" fill="#c8106a"/>
<circle cx="121.30" cy="90.00" r="1.6" fill="#c8106a"/>
<circle cx="128.77" cy="78.00" r="1.6" fill="#c8106a"/>
<circle cx="136.24" cy="67.00" r="1.6" fill="#c8106a"/>
<circle cx="143.71" cy="59.30" r="1.6" fill="#c8106a"/>
<circle cx="151.18" cy="58.50" r="1.6" fill="#c8106a"/>
<circle cx="158.65" cy="58.00" r="1.6" fill="#c8106a"/>
<polyline points="76.48,112.50 83.95,112.40 91.42,112.30 98.89,112.00 106.36,111.00 113.83,107.00 121.30,103.50 128.77,98.10 136.24,86.30 143.71,76.80 151.18,66.30 158.65,60.90" fill="none" stroke="#60aabb" stroke-width="0.6"/>
<circle cx="76.48" cy="112.50" r="1.6" fill="#0f7f95"/>
<circle cx="83.95" cy="112.40" r="1.6" fill="#0f7f95"/>
<circle cx="91.42" cy="112.30" r="1.6" fill="#0f7f95"/>
<circle cx="98.89" cy="112.00" r="1.6" fill="#0f7f95"/>
<circle cx="106.36" cy="111.00" r="1.6" fill="#0f7f95"/>
<circle cx="113.83" cy="107.00" r="1.6" fill="#0f7f95"/>
<circle cx="121.30" cy="103.50" r="1.6" fill="#0f7f95"/>
<circle cx="128.77" cy="98.10" r="1.6" fill="#0f7f95"/>
<circle cx="136.24" cy="86.30" r="1.6" fill="#0f7f95"/>
<circle cx="143.71" cy="76.80" r="1.6" fill="#0f7f95"/>
<circle cx="151.18" cy="66.30" r="1.6" fill="#0f7f95"/>
<circle cx="158.65" cy="60.90" r="1.6" fill="#0f7f95"/>
<polyline points="76.48,112.50 83.95,112.20 91.42,112.00 98.89,111.50 106.36,109.20 113.83,102.20 121.30,94.40 128.77,85.80 136.24,76.30 143.71,71.30 151.18,68.10 158.65,65.70" fill="none" stroke="#3c8c6c" stroke-width="0.6"/>
<circle cx="76.48" cy="112.50" r="1.6" fill="#006644"/>
<circle cx="83.95" cy="112.20" r="1.6" fill="#006644"/>
<circle cx="91.42" cy="112.00" r="1.6" fill="#006644"/>
<circle cx="98.89" cy="111.50" r="1.6" fill="#006644"/>
<circle cx="106.36" cy="109.20" r="1.6" fill="#006644"/>
<circle cx="113.83" cy="102.20" r="1.6" fill="#006644"/>
<circle cx="121.30" cy="94.40" r="1.6" fill="#006644"/>
<circle cx="128.77" cy="85.80" r="1.6" fill="#006644"/>
<circle cx="136.24" cy="76.30" r="1.6" fill="#006644"/>
<circle cx="143.71" cy="71.30" r="1.6" fill="#006644"/>
<circle cx="151.18" cy="68.10" r="1.6" fill="#006644"/>
<circle cx="158.65" cy="65.70" r="1.6" fill="#006644"/>
<polyline points="76.48,112.60 83.95,112.40 91.42,111.80 98.89,111.20 106.36,109.40 113.83,105.50 121.30,98.50 128.77,85.70 136.24,73.40 143.71,62.70 151.18,57.20 158.65,53.60" fill="none" stroke="#4040ff" stroke-width="0.6"/>
<circle cx="76.48" cy="112.60" r="1.6" fill="#0000ff"/>
<circle cx="83.95" cy="112.40" r="1.6" fill="#0000ff"/>
<circle cx="91.42" cy="111.80" r="1.6" fill="#0000ff"/>
<circle cx="98.89" cy="111.20" r="1.6" fill="#0000ff"/>
<circle cx="106.36" cy="109.40" r="1.6" fill="#0000ff"/>
<circle cx="113.83" cy="105.50" r="1.6" fill="#0000ff"/>
<circle cx="121.30" cy="98.50" r="1.6" fill="#0000ff"/>
<circle cx="128.77" cy="85.70" r="1.6" fill="#0000ff"/>
<circle cx="136.24" cy="73.40" r="1.6" fill="#0000ff"/>
<circle cx="143.71" cy="62.70" r="1.6" fill="#0000ff"/>
<circle cx="151.18" cy="57.20" r="1.6" fill="#0000ff"/>
<circle cx="158.65" cy="53.60" r="1.6" fill="#0000ff"/>
<polyline points="69.01,112.60 76.48,112.40 83.95,111.20 91.42,110.60 98.89,108.80 106.36,104.60 113.83,96.10 121.30,89.50 128.77,75.40 136.24,63.40 143.71,55.40 151.18,51.80 158.65,45.30" fill="none" stroke="#aa7c44" stroke-width="0.6"/>
<line x1="158.65" y1="43.30" x2="158.65" y2="47.30" stroke="#aa7c44" stroke-width="0.6"/>
<line x1="157.35" y1="43.30" x2="159.95" y2="43.30" stroke="#aa7c44" stroke-width="0.6"/>
<line x1="157.35" y1="47.30" x2="159.95" y2="47.30" stroke="#aa7c44" stroke-width="0.6"/>
<circle cx="69.01" cy="112.60" r="1.6" fill="#8c5a1c"/>
<circle cx="76.48" cy="112.40" r="1.6" fill="#8c5a1c"/>
<circle cx="83.95" cy="111.20" r="1.6" fill="#8c5a1c"/>
<circle cx="91.42" cy="110.60" r="1.6" fill="#8c5a1c"/>
<circle cx="98.89" cy="108.80" r="1.6" fill="#8c5a1c"/>
<circle cx="106.36" cy="104.60" r="1.6" fill="#8c5a1c"/>
<circle cx="113.83" cy="96.10" r="1.6" fill="#8c5a1c"/>
<circle cx="121.30" cy="89.50" r="1.6" fill="#8c5a1c"/>
<circle cx="128.77" cy="75.40" r="1.6" fill="#8c5a1c"/>
<circle cx="136.24" cy="63.40" r="1.6" fill="#8c5a1c"/>
<circle cx="143.71" cy="55.40" r="1.6" fill="#8c5a1c"/>
<circle cx="151.18" cy="51.80" r="1.6" fill="#8c5a1c"/>
<circle cx="158.65" cy="45.30" r="1.6" fill="#8c5a1c"/>
<polyline points="54.07,112.60 61.54,112.50 69.01,112.30 76.48,111.80 83.95,110.50 91.42,108.50 98.89,106.00 106.36,102.20 113.83,95.00 121.30,84.50 128.77,73.60 136.24,66.80 143.71,61.30 151.18,60.00 158.65,59.80" fill="none" stroke="#b03030" stroke-width="0.6"/>
<circle cx="54.07" cy="112.60" r="1.6" fill="#990000"/>
<circle cx="61.54" cy="112.50" r="1.6" fill="#990000"/>
<circle cx="69.01" cy="112.30" r="1.6" fill="#990000"/>
<circle cx="76.48" cy="111.80" r="1.6" fill="#990000"/>
<circle cx="83.95" cy="110.50" r="1.6" fill="#990000"/>
<circle cx="91.42" cy="108.50" r="1.6" fill="#990000"/>
<circle cx="98.89" cy="106.00" r="1.6" fill="#990000"/>
<circle cx="106.36" cy="102.20" r="1.6" fill="#990000"/>
<circle cx="113.83" cy="95.00" r="1.6" fill="#990000"/>
<circle cx="121.30" cy="84.50" r="1.6" fill="#990000"/>
<circle cx="128.77" cy="73.60" r="1.6" fill="#990000"/>
<circle cx="136.24" cy="66.80" r="1.6" fill="#990000"/>
<circle cx="143.71" cy="61.30" r="1.6" fill="#990000"/>
<circle cx="151.18" cy="60.00" r="1.6" fill="#990000"/>
<circle cx="158.65" cy="59.80" r="1.6" fill="#990000"/>
<polyline points="63.14,112.60 70.61,112.50 78.08,112.20 85.55,111.00 93.02,108.20 100.49,106.40 107.96,98.60 115.43,91.30 122.90,76.80 130.37,64.30 137.84,50.00 145.31,46.20 152.78,38.10 158.70,36.30" fill="none" stroke="#ff4040" stroke-width="0.6"/>
<circle cx="63.14" cy="112.60" r="1.6" fill="#ff0000"/>
<circle cx="70.61" cy="112.50" r="1.6" fill="#ff0000"/>
<circle cx="78.08" cy="112.20" r="1.6" fill="#ff0000"/>
<circle cx="85.55" cy="111.00" r="1.6" fill="#ff0000"/>
<circle cx="93.02" cy="108.20" r="1.6" fill="#ff0000"/>
<circle cx="100.49" cy="106.40" r="1.6" fill="#ff0000"/>
<circle cx="107.96" cy="98.60" r="1.6" fill="#ff0000"/>
<circle cx="115.43" cy="91.30" r="1.6" fill="#ff0000"/>
<circle cx="122.90" cy="76.80" r="1.6" fill="#ff0000"/>
<circle cx="130.37" cy="64.30" r="1.6" fill="#ff0000"/>
<circle cx="137.84" cy="50.00" r="1.6" fill="#ff0000"/>
<circle cx="145.31" cy="46.20" r="1.6" fill="#ff0000"/>
<circle cx="152.78" cy="38.10" r="1.6" fill="#ff0000"/>
<circle cx="158.70" cy="36.30" r="1.6" fill="#ff0000"/>
<polyline points="76.48,110.50 83.95,108.80 91.42,106.10 98.89,102.80 106.36,95.00 113.83,85.30 121.30,67.20 128.77,56.10 136.24,45.80 143.71,42.80 151.18,38.30" fill="none" stroke="#111111" stroke-width="0.6"/>
<line x1="121.30" y1="65.40" x2="121.30" y2="69.00" stroke="#111111" stroke-width="0.6"/>
<line x1="120.00" y1="65.40" x2="122.60" y2="65.40" stroke="#111111" stroke-width="0.6"/>
<line x1="120.00" y1="69.00" x2="122.60" y2="69.00" stroke="#111111" stroke-width="0.6"/>
<line x1="151.18" y1="36.70" x2="151.18" y2="39.90" stroke="#111111" stroke-width="0.6"/>
<line x1="149.88" y1="36.70" x2="152.48" y2="36.70" stroke="#111111" stroke-width="0.6"/>
<line x1="149.88" y1="39.90" x2="152.48" y2="39.90" stroke="#111111" stroke-width="0.6"/>
<line x1="106.36" y1="93.50" x2="106.36" y2="96.50" stroke="#111111" stroke-width="0.6"/>
<line x1="105.06" y1="93.50" x2="107.66" y2="93.50" stroke="#111111" stroke-width="0.6"/>
<line x1="105.06" y1="96.50" x2="107.66" y2="96.50" stroke="#111111" stroke-width="0.6"/>
<circle cx="76.48" cy="110.50" r="1.6" fill="#000000"/>
<circle cx="83.95" cy="108.80" r="1.6" fill="#000000"/>
<circle cx="91.42" cy="106.10" r="1.6" fill="#000000"/>
<circle cx="98.89" cy="102.80" r="1.6" fill="#000000"/>
<circle cx="106.36" cy="95.00" r="1.6" fill="#000000"/>
<circle cx="113.83" cy="85.30" r="1.6" fill="#000000"/>
<circle cx="121.30" cy="67.20" r="1.6" fill="#000000"/>
<circle cx="128.77" cy="56.10" r="1.6" fill="#000000"/>
<circle cx="136.24" cy="45.80" r="1.6" fill="#000000"/>
<circle cx="143.71" cy="42.80" r="1.6" fill="#000000"/>
<circle cx="151.18" cy="38.30" r="1.6" fill="#000000"/>
<polyline points="48.20,112.60 55.67,112.60 63.14,112.50 70.61,112.00 78.08,110.20 85.55,108.80 93.02,104.60 100.49,101.00 107.96,84.10 115.43,70.10 122.90,54.10 130.37,42.30 137.84,35.30 145.31,30.40 152.78,28.20 158.70,28.50" fill="none" stroke="#c050f8" stroke-width="0.6"/>
<line x1="152.78" y1="26.60" x2="152.78" y2="29.80" stroke="#c050f8" stroke-width="0.6"/>
<line x1="151.48" y1="26.60" x2="154.08" y2="26.60" stroke="#c050f8" stroke-width="0.6"/>
<line x1="151.48" y1="29.80" x2="154.08" y2="29.80" stroke="#c050f8" stroke-width="0.6"/>
<line x1="115.43" y1="68.60" x2="115.43" y2="71.60" stroke="#c050f8" stroke-width="0.6"/>
<line x1="114.13" y1="68.60" x2="116.73" y2="68.60" stroke="#c050f8" stroke-width="0.6"/>
<line x1="114.13" y1="71.60" x2="116.73" y2="71.60" stroke="#c050f8" stroke-width="0.6"/>
<circle cx="48.20" cy="112.60" r="1.6" fill="#a000f0"/>
<circle cx="55.67" cy="112.60" r="1.6" fill="#a000f0"/>
<circle cx="63.14" cy="112.50" r="1.6" fill="#a000f0"/>
<circle cx="70.61" cy="112.00" r="1.6" fill="#a000f0"/>
<circle cx="78.08" cy="110.20" r="1.6" fill="#a000f0"/>
<circle cx="85.55" cy="108.80" r="1.6" fill="#a000f0"/>
<circle cx="93.02" cy="104.60" r="1.6" fill="#a000f0"/>
<circle cx="100.49" cy="101.00" r="1.6" fill="#a000f0"/>
<circle cx="107.96" cy="84.10" r="1.6" fill="#a000f0"/>
<circle cx="115.43" cy="70.10" r="1.6" fill="#a000f0"/>
<circle cx="122.90" cy="54.10" r="1.6" fill="#a000f0"/>
<circle cx="130.37" cy="42.30" r="1.6" fill="#a000f0"/>
<circle cx="137.84" cy="35.30" r="1.6" fill="#a000f0"/>
<circle cx="145.31" cy="30.40" r="1.6" fill="#a000f0"/>
<circle cx="152.78" cy="28.20" r="1.6" fill="#a000f0"/>
<circle cx="158.70" cy="28.50" r="1.6" fill="#a000f0"/>
<polyline points="248.40,111.60 255.75,111.20 263.10,110.20 270.45,109.50 277.80,108.80 285.15,107.30 292.50,103.10 299.85,97.40 307.20,96.40 314.55,89.10 321.90,65.60 329.25,64.50 336.60,65.50" fill="none" stroke="#50dca0" stroke-width="0.6"/>
<line x1="307.20" y1="93.20" x2="307.20" y2="99.60" stroke="#50dca0" stroke-width="0.6"/>
<line x1="305.90" y1="93.20" x2="308.50" y2="93.20" stroke="#50dca0" stroke-width="0.6"/>
<line x1="305.90" y1="99.60" x2="308.50" y2="99.60" stroke="#50dca0" stroke-width="0.6"/>
<circle cx="248.40" cy="111.60" r="1.6" fill="#1fd07f"/>
<circle cx="255.75" cy="111.20" r="1.6" fill="#1fd07f"/>
<circle cx="263.10" cy="110.20" r="1.6" fill="#1fd07f"/>
<circle cx="270.45" cy="109.50" r="1.6" fill="#1fd07f"/>
<circle cx="277.80" cy="108.80" r="1.6" fill="#1fd07f"/>
<circle cx="285.15" cy="107.30" r="1.6" fill="#1fd07f"/>
<circle cx="292.50" cy="103.10" r="1.6" fill="#1fd07f"/>
<circle cx="299.85" cy="97.40" r="1.6" fill="#1fd07f"/>
<circle cx="307.20" cy="96.40" r="1.6" fill="#1fd07f"/>
<circle cx="314.55" cy="89.10" r="1.6" fill="#1fd07f"/>
<circle cx="321.90" cy="65.60" r="1.6" fill="#1fd07f"/>
<circle cx="329.25" cy="64.50" r="1.6" fill="#1fd07f"/>
<circle cx="336.60" cy="65.50" r="1.6" fill="#1fd07f"/>
<polyline points="255.75,111.60 263.10,111.40 270.45,111.20 277.80,110.80 285.15,107.00 292.50,104.00 299.85,99.70 307.20,99.30 314.55,96.10 321.90,93.80 329.25,90.80 336.60,88.10" fill="none" stroke="#e070a8" stroke-width="0.6"/>
<line x1="299.85" y1="97.20" x2="299.85" y2="102.20" stroke="#e070a8" stroke-width="0.6"/>
<line x1="298.55" y1="97.20" x2="301.15" y2="97.20" stroke="#e070a8" stroke-width="0.6"/>
<line x1="298.55" y1="102.20" x2="301.15" y2="102.20" stroke="#e070a8" stroke-width="0.6"/>
<line x1="307.20" y1="95.80" x2="307.20" y2="102.80" stroke="#e070a8" stroke-width="0.6"/>
<line x1="305.90" y1="95.80" x2="308.50" y2="95.80" stroke="#e070a8" stroke-width="0.6"/>
<line x1="305.90" y1="102.80" x2="308.50" y2="102.80" stroke="#e070a8" stroke-width="0.6"/>
<line x1="314.55" y1="92.30" x2="314.55" y2="99.90" stroke="#e070a8" stroke-width="0.6"/>
<line x1="313.25" y1="92.30" x2="315.85" y2="92.30" stroke="#e070a8" stroke-width="0.6"/>
<line x1="313.25" y1="99.90" x2="315.85" y2="99.90" stroke="#e070a8" stroke-width="0.6"/>
<line x1="321.90" y1="89.30" x2="321.90" y2="98.30" stroke="#e070a8" stroke-width="0.6"/>
<line x1="320.60" y1="89.30" x2="323.20" y2="89.30" stroke="#e070a8" stroke-width="0.6"/>
<line x1="320.60" y1="98.30" x2="323.20" y2="98.30" stroke="#e070a8" stroke-width="0.6"/>
<line x1="329.25" y1="87.00" x2="329.25" y2="94.60" stroke="#e070a8" stroke-width="0.6"/>
<line x1="327.95" y1="87.00" x2="330.55" y2="87.00" stroke="#e070a8" stroke-width="0.6"/>
<line x1="327.95" y1="94.60" x2="330.55" y2="94.60" stroke="#e070a8" stroke-width="0.6"/>
<circle cx="255.75" cy="111.60" r="1.6" fill="#c8106a"/>
<circle cx="263.10" cy="111.40" r="1.6" fill="#c8106a"/>
<circle cx="270.45" cy="111.20" r="1.6" fill="#c8106a"/>
<circle cx="277.80" cy="110.80" r="1.6" fill="#c8106a"/>
<circle cx="285.15" cy="107.00" r="1.6" fill="#c8106a"/>
<circle cx="292.50" cy="104.00" r="1.6" fill="#c8106a"/>
<circle cx="299.85" cy="99.70" r="1.6" fill="#c8106a"/>
<circle cx="307.20" cy="99.30" r="1.6" fill="#c8106a"/>
<circle cx="314.55" cy="96.10" r="1.6" fill="#c8106a"/>
<circle cx="321.90" cy="93.80" r="1.6" fill="#c8106a"/>
<circle cx="329.25" cy="90.80" r="1.6" fill="#c8106a"/>
<circle cx="336.60" cy="88.10" r="1.6" fill="#c8106a"/>
<polyline points="255.75,111.20 263.10,110.50 270.45,109.00 277.80,106.50 285.15,104.40 292.50,96.80 299.85,88.50 307.20,86.00 314.55,75.10 321.90,70.40 329.25,67.90 336.60,68.20" fill="none" stroke="#888888" stroke-width="0.6"/>
<line x1="314.55" y1="71.60" x2="314.55" y2="78.60" stroke="#888888" stroke-width="0.6"/>
<line x1="313.25" y1="71.60" x2="315.85" y2="71.60" stroke="#888888" stroke-width="0.6"/>
<line x1="313.25" y1="78.60" x2="315.85" y2="78.60" stroke="#888888" stroke-width="0.6"/>
<line x1="321.90" y1="65.60" x2="321.90" y2="75.20" stroke="#888888" stroke-width="0.6"/>
<line x1="320.60" y1="65.60" x2="323.20" y2="65.60" stroke="#888888" stroke-width="0.6"/>
<line x1="320.60" y1="75.20" x2="323.20" y2="75.20" stroke="#888888" stroke-width="0.6"/>
<line x1="329.25" y1="65.40" x2="329.25" y2="70.40" stroke="#888888" stroke-width="0.6"/>
<line x1="327.95" y1="65.40" x2="330.55" y2="65.40" stroke="#888888" stroke-width="0.6"/>
<line x1="327.95" y1="70.40" x2="330.55" y2="70.40" stroke="#888888" stroke-width="0.6"/>
<line x1="336.60" y1="65.30" x2="336.60" y2="71.10" stroke="#888888" stroke-width="0.6"/>
<line x1="335.30" y1="65.30" x2="337.90" y2="65.30" stroke="#888888" stroke-width="0.6"/>
<line x1="335.30" y1="71.10" x2="337.90" y2="71.10" stroke="#888888" stroke-width="0.6"/>
<circle cx="255.75" cy="111.20" r="1.6" fill="#666666"/>
<circle cx="263.10" cy="110.50" r="1.6" fill="#666666"/>
<circle cx="270.45" cy="109.00" r="1.6" fill="#666666"/>
<circle cx="277.80" cy="106.50" r="1.6" fill="#666666"/>
<circle cx="285.15" cy="104.40" r="1.6" fill="#666666"/>
<circle cx="292.50" cy="96.80" r="1.6" fill="#666666"/>
<circle cx="299.85" cy="88.50" r="1.6" fill="#666666"/>
<circle cx="307.20" cy="86.00" r="1.6" fill="#666666"/>
<circle cx="314.55" cy="75.10" r="1.6" fill="#666666"/>
<circle cx="321.90" cy="70.40" r="1.6" fill="#666666"/>
<circle cx="329.25" cy="67.90" r="1.6" fill="#666666"/>
<circle cx="336.60" cy="68.20" r="1.6" fill="#666666"/>
<polyline points="248.40,111.60 255.75,111.30 263.10,110.10 270.45,109.90 277.80,108.20 285.15,103.80 292.50,95.50 299.85,87.90 307.20,79.00 314.55,70.40 321.90,63.30 329.25,64.30 336.60,67.10" fill="none" stroke="#3c8c6c" stroke-width="0.6"/>
<line x1="336.60" y1="62.30" x2="336.60" y2="71.90" stroke="#3c8c6c" stroke-width="0.6"/>
<line x1="335.30" y1="62.30" x2="337.90" y2="62.30" stroke="#3c8c6c" stroke-width="0.6"/>
<line x1="335.30" y1="71.90" x2="337.90" y2="71.90" stroke="#3c8c6c" stroke-width="0.6"/>
<circle cx="248.40" cy="111.60" r="1.6" fill="#006644"/>
<circle cx="255.75" cy="111.30" r="1.6" fill="#006644"/>
<circle cx="263.10" cy="110.10" r="1.6" fill="#006644"/>
<circle cx="270.45" cy="109.90" r="1.6" fill="#006644"/>
<circle cx="277.80" cy="108.20" r="1.6" fill="#006644"/>
<circle cx="285.15" cy="103.80" r="1.6" fill="#006644"/>
<circle cx="292.50" cy="95.50" r="1.6" fill="#006644"/>
<circle cx="299.85" cy="87.90" r="1.6" fill="#006644"/>
<circle cx="307.20" cy="79.00" r="1.6" fill="#006644"/>
<circle cx="314.55" cy="70.40" r="1.6" fill="#006644"/>
<circle cx="321.90" cy="63.30" r="1.6" fill="#006644"/>
<circle cx="329.25" cy="64.30" r="1.6" fill="#006644"/>
<circle cx="336.60" cy="67.10" r="1.6" fill="#006644"/>
<polyline points="248.40,111.50 255.75,111.20 263.10,110.50 270.45,109.10 277.80,107.00 285.15,101.00 292.50,97.00 299.85,87.90 307.20,80.20 314.55,68.20 321.90,63.30 329.25,62.40 336.60,57.00" fill="none" stroke="#aa7c44" stroke-width="0.6"/>
<line x1="336.60" y1="55.20" x2="336.60" y2="58.80" stroke="#aa7c44" stroke-width="0.6"/>
<line x1="335.30" y1="55.20" x2="337.90" y2="55.20" stroke="#aa7c44" stroke-width="0.6"/>
<line x1="335.30" y1="58.80" x2="337.90" y2="58.80" stroke="#aa7c44" stroke-width="0.6"/>
<circle cx="248.40" cy="111.50" r="1.6" fill="#8c5a1c"/>
<circle cx="255.75" cy="111.20" r="1.6" fill="#8c5a1c"/>
<circle cx="263.10" cy="110.50" r="1.6" fill="#8c5a1c"/>
<circle cx="270.45" cy="109.10" r="1.6" fill="#8c5a1c"/>
<circle cx="277.80" cy="107.00" r="1.6" fill="#8c5a1c"/>
<circle cx="285.15" cy="101.00" r="1.6" fill="#8c5a1c"/>
<circle cx="292.50" cy="97.00" r="1.6" fill="#8c5a1c"/>
<circle cx="299.85" cy="87.90" r="1.6" fill="#8c5a1c"/>
<circle cx="307.20" cy="80.20" r="1.6" fill="#8c5a1c"/>
<circle cx="314.55" cy="68.20" r="1.6" fill="#8c5a1c"/>
<circle cx="321.90" cy="63.30" r="1.6" fill="#8c5a1c"/>
<circle cx="329.25" cy="62.40" r="1.6" fill="#8c5a1c"/>
<circle cx="336.60" cy="57.00" r="1.6" fill="#8c5a1c"/>
<polyline points="248.40,111.80 255.75,111.60 263.10,110.40 270.45,108.60 277.80,106.00 285.15,98.40 292.50,91.00 299.85,79.60 307.20,65.60 314.55,59.50 321.90,54.90 329.25,50.30 336.60,47.40" fill="none" stroke="#b03030" stroke-width="0.6"/>
<line x1="299.85" y1="76.70" x2="299.85" y2="82.50" stroke="#b03030" stroke-width="0.6"/>
<line x1="298.55" y1="76.70" x2="301.15" y2="76.70" stroke="#b03030" stroke-width="0.6"/>
<line x1="298.55" y1="82.50" x2="301.15" y2="82.50" stroke="#b03030" stroke-width="0.6"/>
<line x1="307.20" y1="62.40" x2="307.20" y2="68.80" stroke="#b03030" stroke-width="0.6"/>
<line x1="305.90" y1="62.40" x2="308.50" y2="62.40" stroke="#b03030" stroke-width="0.6"/>
<line x1="305.90" y1="68.80" x2="308.50" y2="68.80" stroke="#b03030" stroke-width="0.6"/>
<circle cx="248.40" cy="111.80" r="1.6" fill="#990000"/>
<circle cx="255.75" cy="111.60" r="1.6" fill="#990000"/>
<circle cx="263.10" cy="110.40" r="1.6" fill="#990000"/>
<circle cx="270.45" cy="108.60" r="1.6" fill="#990000"/>
<circle cx="277.80" cy="106.00" r="1.6" fill="#990000"/>
<circle cx="285.15" cy="98.40" r="1.6" fill="#990000"/>
<circle cx="292.50" cy="91.00" r="1.6" fill="#990000"/>
<circle cx="299.85" cy="79.60" r="1.6" fill="#990000"/>
<circle cx="307.20" cy="65.60" r="1.6" fill="#990000"/>
<circle cx="314.55" cy="59.50" r="1.6" fill="#990000"/>
<circle cx="321.90" cy="54.90" r="1.6" fill="#990000"/>
<circle cx="329.25" cy="50.30" r="1.6" fill="#990000"/>
<circle cx="336.60" cy="47.40" r="1.6" fill="#990000"/>
<polyline points="255.75,111.40 263.10,107.80 270.45,106.00 277.80,102.20 285.15,99.70 292.50,93.60 299.85,81.50 307.20,71.70 314.55,60.50 321.90,48.40 329.25,49.70 336.60,42.50" fill="none" stroke="#4040ff" stroke-width="0.6"/>
<line x1="270.45" y1="102.80" x2="270.45" y2="109.20" stroke="#4040ff" stroke-width="0.6"/>
<line x1="269.15" y1="102.80" x2="271.75" y2="102.80" stroke="#4040ff" stroke-width="0.6"/>
<line x1="269.15" y1="109.20" x2="271.75" y2="109.20" stroke="#4040ff" stroke-width="0.6"/>
<line x1="277.80" y1="98.10" x2="277.80" y2="106.30" stroke="#4040ff" stroke-width="0.6"/>
<line x1="276.50" y1="98.10" x2="279.10" y2="98.10" stroke="#4040ff" stroke-width="0.6"/>
<line x1="276.50" y1="106.30" x2="279.10" y2="106.30" stroke="#4040ff" stroke-width="0.6"/>
<line x1="307.20" y1="68.20" x2="307.20" y2="75.20" stroke="#4040ff" stroke-width="0.6"/>
<line x1="305.90" y1="68.20" x2="308.50" y2="68.20" stroke="#4040ff" stroke-width="0.6"/>
<line x1="305.90" y1="75.20" x2="308.50" y2="75.20" stroke="#4040ff" stroke-width="0.6"/>
<line x1="314.55" y1="55.40" x2="314.55" y2="65.60" stroke="#4040ff" stroke-width="0.6"/>
<line x1="313.25" y1="55.40" x2="315.85" y2="55.40" stroke="#4040ff" stroke-width="0.6"/>
<line x1="313.25" y1="65.60" x2="315.85" y2="65.60" stroke="#4040ff" stroke-width="0.6"/>
<line x1="321.90" y1="46.20" x2="321.90" y2="50.60" stroke="#4040ff" stroke-width="0.6"/>
<line x1="320.60" y1="46.20" x2="323.20" y2="46.20" stroke="#4040ff" stroke-width="0.6"/>
<line x1="320.60" y1="50.60" x2="323.20" y2="50.60" stroke="#4040ff" stroke-width="0.6"/>
<circle cx="255.75" cy="111.40" r="1.6" fill="#0000ff"/>
<circle cx="263.10" cy="107.80" r="1.6" fill="#0000ff"/>
<circle cx="270.45" cy="106.00" r="1.6" fill="#0000ff"/>
<circle cx="277.80" cy="102.20" r="1.6" fill="#0000ff"/>
<circle cx="285.15" cy="99.70" r="1.6" fill="#0000ff"/>
<circle cx="292.50" cy="93.60" r="1.6" fill="#0000ff"/>
<circle cx="299.85" cy="81.50" r="1.6" fill="#0000ff"/>
<circle cx="307.20" cy="71.70" r="1.6" fill="#0000ff"/>
<circle cx="314.55" cy="60.50" r="1.6" fill="#0000ff"/>
<circle cx="321.90" cy="48.40" r="1.6" fill="#0000ff"/>
<circle cx="329.25" cy="49.70" r="1.6" fill="#0000ff"/>
<circle cx="336.60" cy="42.50" r="1.6" fill="#0000ff"/>
<polyline points="285.15,112.00 292.50,112.00 299.85,112.00 307.20,112.00 314.55,112.00 321.90,112.00 329.25,112.00 336.60,112.00" fill="none" stroke="#ff4040" stroke-width="0.6"/>
<circle cx="285.15" cy="112.00" r="1.6" fill="#ff0000"/>
<circle cx="292.50" cy="112.00" r="1.6" fill="#ff0000"/>
<circle cx="299.85" cy="112.00" r="1.6" fill="#ff0000"/>
<circle cx="307.20" cy="112.00" r="1.6" fill="#ff0000"/>
<circle cx="314.55" cy="112.00" r="1.6" fill="#ff0000"/>
<circle cx="321.90" cy="112.00" r="1.6" fill="#ff0000"/>
<circle cx="329.25" cy="112.00" r="1.6" fill="#ff0000"/>
<circle cx="336.60" cy="112.00" r="1.6" fill="#ff0000"/>
<polyline points="421.80,112.00 429.25,112.00 436.70,112.00 444.15,112.00 451.60,112.00 459.05,112.00 466.50,112.00 473.95,112.00 481.40,112.00 488.85,111.60 496.30,111.80 503.75,111.60" fill="none" stroke="#3c8c6c" stroke-width="0.6"/>
<circle cx="421.80" cy="112.00" r="1.6" fill="#006644"/>
<circle cx="429.25" cy="112.00" r="1.6" fill="#006644"/>
<circle cx="436.70" cy="112.00" r="1.6" fill="#006644"/>
<circle cx="444.15" cy="112.00" r="1.6" fill="#006644"/>
<circle cx="451.60" cy="112.00" r="1.6" fill="#006644"/>
<circle cx="459.05" cy="112.00" r="1.6" fill="#006644"/>
<circle cx="466.50" cy="112.00" r="1.6" fill="#006644"/>
<circle cx="473.95" cy="112.00" r="1.6" fill="#006644"/>
<circle cx="481.40" cy="112.00" r="1.6" fill="#006644"/>
<circle cx="488.85" cy="111.60" r="1.6" fill="#006644"/>
<circle cx="496.30" cy="111.80" r="1.6" fill="#006644"/>
<circle cx="503.75" cy="111.60" r="1.6" fill="#006644"/>
<polyline points="418.20,112.00 425.65,112.00 433.10,112.00 440.55,112.00 448.00,112.00 455.45,112.00 462.90,112.00 470.35,112.00 477.80,112.00 485.25,112.00 492.70,111.80 500.15,111.20" fill="none" stroke="#ff4040" stroke-width="0.6"/>
<circle cx="418.20" cy="112.00" r="1.6" fill="#ff0000"/>
<circle cx="425.65" cy="112.00" r="1.6" fill="#ff0000"/>
<circle cx="433.10" cy="112.00" r="1.6" fill="#ff0000"/>
<circle cx="440.55" cy="112.00" r="1.6" fill="#ff0000"/>
<circle cx="448.00" cy="112.00" r="1.6" fill="#ff0000"/>
<circle cx="455.45" cy="112.00" r="1.6" fill="#ff0000"/>
<circle cx="462.90" cy="112.00" r="1.6" fill="#ff0000"/>
<circle cx="470.35" cy="112.00" r="1.6" fill="#ff0000"/>
<circle cx="477.80" cy="112.00" r="1.6" fill="#ff0000"/>
<circle cx="485.25" cy="112.00" r="1.6" fill="#ff0000"/>
<circle cx="492.70" cy="111.80" r="1.6" fill="#ff0000"/>
<circle cx="500.15" cy="111.20" r="1.6" fill="#ff0000"/>
<polyline points="429.25,112.00 436.70,111.80 444.15,111.50 451.60,111.20 459.05,111.00 466.50,110.50 473.95,110.00 481.40,107.50 488.85,103.30 496.30,97.70 503.75,80.70" fill="none" stroke="#aa7c44" stroke-width="0.6"/>
<line x1="488.85" y1="100.30" x2="488.85" y2="106.30" stroke="#aa7c44" stroke-width="0.6"/>
<line x1="487.55" y1="100.30" x2="490.15" y2="100.30" stroke="#aa7c44" stroke-width="0.6"/>
<line x1="487.55" y1="106.30" x2="490.15" y2="106.30" stroke="#aa7c44" stroke-width="0.6"/>
<line x1="496.30" y1="94.20" x2="496.30" y2="101.20" stroke="#aa7c44" stroke-width="0.6"/>
<line x1="495.00" y1="94.20" x2="497.60" y2="94.20" stroke="#aa7c44" stroke-width="0.6"/>
<line x1="495.00" y1="101.20" x2="497.60" y2="101.20" stroke="#aa7c44" stroke-width="0.6"/>
<circle cx="429.25" cy="112.00" r="1.6" fill="#8c5a1c"/>
<circle cx="436.70" cy="111.80" r="1.6" fill="#8c5a1c"/>
<circle cx="444.15" cy="111.50" r="1.6" fill="#8c5a1c"/>
<circle cx="451.60" cy="111.20" r="1.6" fill="#8c5a1c"/>
<circle cx="459.05" cy="111.00" r="1.6" fill="#8c5a1c"/>
<circle cx="466.50" cy="110.50" r="1.6" fill="#8c5a1c"/>
<circle cx="473.95" cy="110.00" r="1.6" fill="#8c5a1c"/>
<circle cx="481.40" cy="107.50" r="1.6" fill="#8c5a1c"/>
<circle cx="488.85" cy="103.30" r="1.6" fill="#8c5a1c"/>
<circle cx="496.30" cy="97.70" r="1.6" fill="#8c5a1c"/>
<circle cx="503.75" cy="80.70" r="1.6" fill="#8c5a1c"/>
<polyline points="421.80,112.00 429.25,111.80 436.70,111.50 444.15,111.00 451.60,110.50 459.05,109.30 466.50,109.30 473.95,107.20 481.40,102.70 488.85,94.90 496.30,82.60 503.75,67.40" fill="none" stroke="#888888" stroke-width="0.6"/>
<line x1="496.30" y1="80.10" x2="496.30" y2="85.10" stroke="#888888" stroke-width="0.6"/>
<line x1="495.00" y1="80.10" x2="497.60" y2="80.10" stroke="#888888" stroke-width="0.6"/>
<line x1="495.00" y1="85.10" x2="497.60" y2="85.10" stroke="#888888" stroke-width="0.6"/>
<line x1="488.85" y1="92.90" x2="488.85" y2="96.90" stroke="#888888" stroke-width="0.6"/>
<line x1="487.55" y1="92.90" x2="490.15" y2="92.90" stroke="#888888" stroke-width="0.6"/>
<line x1="487.55" y1="96.90" x2="490.15" y2="96.90" stroke="#888888" stroke-width="0.6"/>
<circle cx="421.80" cy="112.00" r="1.6" fill="#666666"/>
<circle cx="429.25" cy="111.80" r="1.6" fill="#666666"/>
<circle cx="436.70" cy="111.50" r="1.6" fill="#666666"/>
<circle cx="444.15" cy="111.00" r="1.6" fill="#666666"/>
<circle cx="451.60" cy="110.50" r="1.6" fill="#666666"/>
<circle cx="459.05" cy="109.30" r="1.6" fill="#666666"/>
<circle cx="466.50" cy="109.30" r="1.6" fill="#666666"/>
<circle cx="473.95" cy="107.20" r="1.6" fill="#666666"/>
<circle cx="481.40" cy="102.70" r="1.6" fill="#666666"/>
<circle cx="488.85" cy="94.90" r="1.6" fill="#666666"/>
<circle cx="496.30" cy="82.60" r="1.6" fill="#666666"/>
<circle cx="503.75" cy="67.40" r="1.6" fill="#666666"/>
<polyline points="421.80,112.00 429.25,111.80 436.70,111.50 444.15,110.80 451.60,110.00 459.05,108.10 466.50,105.10 473.95,98.10 481.40,92.50 488.85,77.70 496.30,68.60 503.75,56.10" fill="none" stroke="#b03030" stroke-width="0.6"/>
<circle cx="421.80" cy="112.00" r="1.6" fill="#990000"/>
<circle cx="429.25" cy="111.80" r="1.6" fill="#990000"/>
<circle cx="436.70" cy="111.50" r="1.6" fill="#990000"/>
<circle cx="444.15" cy="110.80" r="1.6" fill="#990000"/>
<circle cx="451.60" cy="110.00" r="1.6" fill="#990000"/>
<circle cx="459.05" cy="108.10" r="1.6" fill="#990000"/>
<circle cx="466.50" cy="105.10" r="1.6" fill="#990000"/>
<circle cx="473.95" cy="98.10" r="1.6" fill="#990000"/>
<circle cx="481.40" cy="92.50" r="1.6" fill="#990000"/>
<circle cx="488.85" cy="77.70" r="1.6" fill="#990000"/>
<circle cx="496.30" cy="68.60" r="1.6" fill="#990000"/>
<circle cx="503.75" cy="56.10" r="1.6" fill="#990000"/>
<polyline points="418.20,112.00 425.65,111.80 433.10,111.50 440.55,110.80 448.00,109.50 455.45,108.10 462.90,103.30 470.35,96.70 477.80,82.80 485.25,66.30 492.70,50.70 500.15,40.70" fill="none" stroke="#e070a8" stroke-width="0.6"/>
<circle cx="418.20" cy="112.00" r="1.6" fill="#c8106a"/>
<circle cx="425.65" cy="111.80" r="1.6" fill="#c8106a"/>
<circle cx="433.10" cy="111.50" r="1.6" fill="#c8106a"/>
<circle cx="440.55" cy="110.80" r="1.6" fill="#c8106a"/>
<circle cx="448.00" cy="109.50" r="1.6" fill="#c8106a"/>
<circle cx="455.45" cy="108.10" r="1.6" fill="#c8106a"/>
<circle cx="462.90" cy="103.30" r="1.6" fill="#c8106a"/>
<circle cx="470.35" cy="96.70" r="1.6" fill="#c8106a"/>
<circle cx="477.80" cy="82.80" r="1.6" fill="#c8106a"/>
<circle cx="485.25" cy="66.30" r="1.6" fill="#c8106a"/>
<circle cx="492.70" cy="50.70" r="1.6" fill="#c8106a"/>
<circle cx="500.15" cy="40.70" r="1.6" fill="#c8106a"/>
<polyline points="418.20,111.50 425.65,111.20 433.10,110.60 440.55,110.00 448.00,108.10 455.45,105.50 462.90,99.50 470.35,89.50 477.80,75.40 485.25,57.30 492.70,44.00 500.15,37.00" fill="none" stroke="#50dca0" stroke-width="0.6"/>
<line x1="492.70" y1="42.00" x2="492.70" y2="46.00" stroke="#50dca0" stroke-width="0.6"/>
<line x1="491.40" y1="42.00" x2="494.00" y2="42.00" stroke="#50dca0" stroke-width="0.6"/>
<line x1="491.40" y1="46.00" x2="494.00" y2="46.00" stroke="#50dca0" stroke-width="0.6"/>
<line x1="500.15" y1="35.20" x2="500.15" y2="38.80" stroke="#50dca0" stroke-width="0.6"/>
<line x1="498.85" y1="35.20" x2="501.45" y2="35.20" stroke="#50dca0" stroke-width="0.6"/>
<line x1="498.85" y1="38.80" x2="501.45" y2="38.80" stroke="#50dca0" stroke-width="0.6"/>
<circle cx="418.20" cy="111.50" r="1.6" fill="#1fd07f"/>
<circle cx="425.65" cy="111.20" r="1.6" fill="#1fd07f"/>
<circle cx="433.10" cy="110.60" r="1.6" fill="#1fd07f"/>
<circle cx="440.55" cy="110.00" r="1.6" fill="#1fd07f"/>
<circle cx="448.00" cy="108.10" r="1.6" fill="#1fd07f"/>
<circle cx="455.45" cy="105.50" r="1.6" fill="#1fd07f"/>
<circle cx="462.90" cy="99.50" r="1.6" fill="#1fd07f"/>
<circle cx="470.35" cy="89.50" r="1.6" fill="#1fd07f"/>
<circle cx="477.80" cy="75.40" r="1.6" fill="#1fd07f"/>
<circle cx="485.25" cy="57.30" r="1.6" fill="#1fd07f"/>
<circle cx="492.70" cy="44.00" r="1.6" fill="#1fd07f"/>
<circle cx="500.15" cy="37.00" r="1.6" fill="#1fd07f"/>
<polyline points="406.90,111.60 414.35,111.60 421.80,111.50 429.25,111.50 436.70,109.90 444.15,108.10 451.60,104.30 459.05,91.90 466.50,83.70 473.95,72.00 481.40,59.90 488.85,56.70 496.30,59.00 503.75,53.60" fill="none" stroke="#4040ff" stroke-width="0.6"/>
<line x1="451.60" y1="102.30" x2="451.60" y2="106.30" stroke="#4040ff" stroke-width="0.6"/>
<line x1="450.30" y1="102.30" x2="452.90" y2="102.30" stroke="#4040ff" stroke-width="0.6"/>
<line x1="450.30" y1="106.30" x2="452.90" y2="106.30" stroke="#4040ff" stroke-width="0.6"/>
<line x1="466.50" y1="78.20" x2="466.50" y2="89.20" stroke="#4040ff" stroke-width="0.6"/>
<line x1="465.20" y1="78.20" x2="467.80" y2="78.20" stroke="#4040ff" stroke-width="0.6"/>
<line x1="465.20" y1="89.20" x2="467.80" y2="89.20" stroke="#4040ff" stroke-width="0.6"/>
<line x1="473.95" y1="68.50" x2="473.95" y2="75.50" stroke="#4040ff" stroke-width="0.6"/>
<line x1="472.65" y1="68.50" x2="475.25" y2="68.50" stroke="#4040ff" stroke-width="0.6"/>
<line x1="472.65" y1="75.50" x2="475.25" y2="75.50" stroke="#4040ff" stroke-width="0.6"/>
<line x1="488.85" y1="54.20" x2="488.85" y2="59.20" stroke="#4040ff" stroke-width="0.6"/>
<line x1="487.55" y1="54.20" x2="490.15" y2="54.20" stroke="#4040ff" stroke-width="0.6"/>
<line x1="487.55" y1="59.20" x2="490.15" y2="59.20" stroke="#4040ff" stroke-width="0.6"/>
<line x1="496.30" y1="57.00" x2="496.30" y2="61.00" stroke="#4040ff" stroke-width="0.6"/>
<line x1="495.00" y1="57.00" x2="497.60" y2="57.00" stroke="#4040ff" stroke-width="0.6"/>
<line x1="495.00" y1="61.00" x2="497.60" y2="61.00" stroke="#4040ff" stroke-width="0.6"/>
<line x1="503.75" y1="49.60" x2="503.75" y2="57.60" stroke="#4040ff" stroke-width="0.6"/>
<line x1="502.45" y1="49.60" x2="505.05" y2="49.60" stroke="#4040ff" stroke-width="0.6"/>
<line x1="502.45" y1="57.60" x2="505.05" y2="57.60" stroke="#4040ff" stroke-width="0.6"/>
<circle cx="406.90" cy="111.60" r="1.6" fill="#0000ff"/>
<circle cx="414.35" cy="111.60" r="1.6" fill="#0000ff"/>
<circle cx="421.80" cy="111.50" r="1.6" fill="#0000ff"/>
<circle cx="429.25" cy="111.50" r="1.6" fill="#0000ff"/>
<circle cx="436.70" cy="109.90" r="1.6" fill="#0000ff"/>
<circle cx="444.15" cy="108.10" r="1.6" fill="#0000ff"/>
<circle cx="451.60" cy="104.30" r="1.6" fill="#0000ff"/>
<circle cx="459.05" cy="91.90" r="1.6" fill="#0000ff"/>
<circle cx="466.50" cy="83.70" r="1.6" fill="#0000ff"/>
<circle cx="473.95" cy="72.00" r="1.6" fill="#0000ff"/>
<circle cx="481.40" cy="59.90" r="1.6" fill="#0000ff"/>
<circle cx="488.85" cy="56.70" r="1.6" fill="#0000ff"/>
<circle cx="496.30" cy="59.00" r="1.6" fill="#0000ff"/>
<circle cx="503.75" cy="53.60" r="1.6" fill="#0000ff"/>
<polyline points="611.50,110.30 619.00,110.30 626.50,110.30 634.00,110.30 641.50,110.30 649.00,110.30 656.50,110.30 664.00,110.30 671.50,110.30 679.00,110.30 686.50,110.30 694.00,110.30 701.50,110.30" fill="none" stroke="#3c8c6c" stroke-width="0.6"/>
<circle cx="611.50" cy="110.30" r="1.6" fill="#006644"/>
<circle cx="619.00" cy="110.30" r="1.6" fill="#006644"/>
<circle cx="626.50" cy="110.30" r="1.6" fill="#006644"/>
<circle cx="634.00" cy="110.30" r="1.6" fill="#006644"/>
<circle cx="641.50" cy="110.30" r="1.6" fill="#006644"/>
<circle cx="649.00" cy="110.30" r="1.6" fill="#006644"/>
<circle cx="656.50" cy="110.30" r="1.6" fill="#006644"/>
<circle cx="664.00" cy="110.30" r="1.6" fill="#006644"/>
<circle cx="671.50" cy="110.30" r="1.6" fill="#006644"/>
<circle cx="679.00" cy="110.30" r="1.6" fill="#006644"/>
<circle cx="686.50" cy="110.30" r="1.6" fill="#006644"/>
<circle cx="694.00" cy="110.30" r="1.6" fill="#006644"/>
<circle cx="701.50" cy="110.30" r="1.6" fill="#006644"/>
<polyline points="611.50,110.30 619.00,108.90 626.50,106.70 634.00,105.30 641.50,101.40 649.00,95.30 656.50,85.60 664.00,74.80 671.50,65.90 679.00,60.10 686.50,57.40 694.00,57.90 701.50,55.40" fill="none" stroke="#b03030" stroke-width="0.6"/>
<line x1="694.00" y1="55.70" x2="694.00" y2="60.10" stroke="#b03030" stroke-width="0.6"/>
<line x1="692.70" y1="55.70" x2="695.30" y2="55.70" stroke="#b03030" stroke-width="0.6"/>
<line x1="692.70" y1="60.10" x2="695.30" y2="60.10" stroke="#b03030" stroke-width="0.6"/>
<circle cx="611.50" cy="110.30" r="1.6" fill="#990000"/>
<circle cx="619.00" cy="108.90" r="1.6" fill="#990000"/>
<circle cx="626.50" cy="106.70" r="1.6" fill="#990000"/>
<circle cx="634.00" cy="105.30" r="1.6" fill="#990000"/>
<circle cx="641.50" cy="101.40" r="1.6" fill="#990000"/>
<circle cx="649.00" cy="95.30" r="1.6" fill="#990000"/>
<circle cx="656.50" cy="85.60" r="1.6" fill="#990000"/>
<circle cx="664.00" cy="74.80" r="1.6" fill="#990000"/>
<circle cx="671.50" cy="65.90" r="1.6" fill="#990000"/>
<circle cx="679.00" cy="60.10" r="1.6" fill="#990000"/>
<circle cx="686.50" cy="57.40" r="1.6" fill="#990000"/>
<circle cx="694.00" cy="57.90" r="1.6" fill="#990000"/>
<circle cx="701.50" cy="55.40" r="1.6" fill="#990000"/>
<polyline points="611.50,107.50 619.00,104.70 626.50,99.20 634.00,90.10 641.50,74.00 649.00,52.10 656.50,40.70 664.00,29.90 671.50,22.20 679.00,21.30 686.50,22.70 694.00,17.50 701.50,18.80" fill="none" stroke="#4040ff" stroke-width="0.6"/>
<line x1="649.00" y1="50.60" x2="649.00" y2="53.60" stroke="#4040ff" stroke-width="0.6"/>
<line x1="647.70" y1="50.60" x2="650.30" y2="50.60" stroke="#4040ff" stroke-width="0.6"/>
<line x1="647.70" y1="53.60" x2="650.30" y2="53.60" stroke="#4040ff" stroke-width="0.6"/>
<line x1="679.00" y1="20.00" x2="679.00" y2="22.60" stroke="#4040ff" stroke-width="0.6"/>
<line x1="677.70" y1="20.00" x2="680.30" y2="20.00" stroke="#4040ff" stroke-width="0.6"/>
<line x1="677.70" y1="22.60" x2="680.30" y2="22.60" stroke="#4040ff" stroke-width="0.6"/>
<line x1="686.50" y1="21.20" x2="686.50" y2="24.20" stroke="#4040ff" stroke-width="0.6"/>
<line x1="685.20" y1="21.20" x2="687.80" y2="21.20" stroke="#4040ff" stroke-width="0.6"/>
<line x1="685.20" y1="24.20" x2="687.80" y2="24.20" stroke="#4040ff" stroke-width="0.6"/>
<line x1="701.50" y1="16.30" x2="701.50" y2="21.30" stroke="#4040ff" stroke-width="0.6"/>
<line x1="700.20" y1="16.30" x2="702.80" y2="16.30" stroke="#4040ff" stroke-width="0.6"/>
<line x1="700.20" y1="21.30" x2="702.80" y2="21.30" stroke="#4040ff" stroke-width="0.6"/>
<circle cx="611.50" cy="107.50" r="1.6" fill="#0000ff"/>
<circle cx="619.00" cy="104.70" r="1.6" fill="#0000ff"/>
<circle cx="626.50" cy="99.20" r="1.6" fill="#0000ff"/>
<circle cx="634.00" cy="90.10" r="1.6" fill="#0000ff"/>
<circle cx="641.50" cy="74.00" r="1.6" fill="#0000ff"/>
<circle cx="649.00" cy="52.10" r="1.6" fill="#0000ff"/>
<circle cx="656.50" cy="40.70" r="1.6" fill="#0000ff"/>
<circle cx="664.00" cy="29.90" r="1.6" fill="#0000ff"/>
<circle cx="671.50" cy="22.20" r="1.6" fill="#0000ff"/>
<circle cx="679.00" cy="21.30" r="1.6" fill="#0000ff"/>
<circle cx="686.50" cy="22.70" r="1.6" fill="#0000ff"/>
<circle cx="694.00" cy="17.50" r="1.6" fill="#0000ff"/>
<circle cx="701.50" cy="18.80" r="1.6" fill="#0000ff"/>
<polyline points="69.60,250.70 77.08,250.70 84.56,250.70 92.04,250.70 99.52,250.70 107.00,250.70 114.48,250.70 121.96,250.70 129.44,250.70 136.92,250.70 144.40,250.70 151.88,250.70 159.36,250.70 166.84,250.70" fill="none" stroke="#8a7030" stroke-width="0.6"/>
<circle cx="69.60" cy="250.70" r="1.6" fill="#8a7030"/>
<circle cx="77.08" cy="250.70" r="1.6" fill="#8a7030"/>
<circle cx="84.56" cy="250.70" r="1.6" fill="#8a7030"/>
<circle cx="92.04" cy="250.70" r="1.6" fill="#8a7030"/>
<circle cx="99.52" cy="250.70" r="1.6" fill="#8a7030"/>
<circle cx="107.00" cy="250.70" r="1.6" fill="#8a7030"/>
<circle cx="114.48" cy="250.70" r="1.6" fill="#8a7030"/>
<circle cx="121.96" cy="250.70" r="1.6" fill="#8a7030"/>
<circle cx="129.44" cy="250.70" r="1.6" fill="#8a7030"/>
<circle cx="136.92" cy="250.70" r="1.6" fill="#8a7030"/>
<circle cx="144.40" cy="250.70" r="1.6" fill="#8a7030"/>
<circle cx="151.88" cy="250.70" r="1.6" fill="#8a7030"/>
<circle cx="159.36" cy="250.70" r="1.6" fill="#8a7030"/>
<circle cx="166.84" cy="250.70" r="1.6" fill="#8a7030"/>
<polyline points="77.08,250.70 84.56,250.70 92.04,250.70 99.52,250.70 107.00,250.50 114.48,250.30 121.96,250.00 129.44,249.50 136.92,248.30 144.40,246.10 151.88,243.40 159.36,236.70 166.84,225.20" fill="none" stroke="#b03030" stroke-width="0.6"/>
<circle cx="77.08" cy="250.70" r="1.6" fill="#990000"/>
<circle cx="84.56" cy="250.70" r="1.6" fill="#990000"/>
<circle cx="92.04" cy="250.70" r="1.6" fill="#990000"/>
<circle cx="99.52" cy="250.70" r="1.6" fill="#990000"/>
<circle cx="107.00" cy="250.50" r="1.6" fill="#990000"/>
<circle cx="114.48" cy="250.30" r="1.6" fill="#990000"/>
<circle cx="121.96" cy="250.00" r="1.6" fill="#990000"/>
<circle cx="129.44" cy="249.50" r="1.6" fill="#990000"/>
<circle cx="136.92" cy="248.30" r="1.6" fill="#990000"/>
<circle cx="144.40" cy="246.10" r="1.6" fill="#990000"/>
<circle cx="151.88" cy="243.40" r="1.6" fill="#990000"/>
<circle cx="159.36" cy="236.70" r="1.6" fill="#990000"/>
<circle cx="166.84" cy="225.20" r="1.6" fill="#990000"/>
<polyline points="77.08,250.70 84.56,250.70 92.04,250.70 99.52,250.70 107.00,250.70 114.48,250.70 121.96,250.70 129.44,250.10 136.92,249.60 144.40,248.00 151.88,245.60 159.36,241.60 166.84,224.20" fill="none" stroke="#4040ff" stroke-width="0.6"/>
<circle cx="77.08" cy="250.70" r="1.6" fill="#0000ff"/>
<circle cx="84.56" cy="250.70" r="1.6" fill="#0000ff"/>
<circle cx="92.04" cy="250.70" r="1.6" fill="#0000ff"/>
<circle cx="99.52" cy="250.70" r="1.6" fill="#0000ff"/>
<circle cx="107.00" cy="250.70" r="1.6" fill="#0000ff"/>
<circle cx="114.48" cy="250.70" r="1.6" fill="#0000ff"/>
<circle cx="121.96" cy="250.70" r="1.6" fill="#0000ff"/>
<circle cx="129.44" cy="250.10" r="1.6" fill="#0000ff"/>
<circle cx="136.92" cy="249.60" r="1.6" fill="#0000ff"/>
<circle cx="144.40" cy="248.00" r="1.6" fill="#0000ff"/>
<circle cx="151.88" cy="245.60" r="1.6" fill="#0000ff"/>
<circle cx="159.36" cy="241.60" r="1.6" fill="#0000ff"/>
<circle cx="166.84" cy="224.20" r="1.6" fill="#0000ff"/>
<circle cx="144.40" cy="250.70" r="1.6" fill="#8a7a20"/>
<circle cx="151.88" cy="250.70" r="1.6" fill="#8a7a20"/>
<circle cx="159.36" cy="250.70" r="1.6" fill="#8a7a20"/>
<circle cx="166.84" cy="250.70" r="1.6" fill="#8a7a20"/>
<polyline points="49.10,414.90 60.30,411.30 71.40,411.50 82.40,411.90 93.50,407.90 100.40,402.50 104.80,396.60 108.50,380.40 111.40,371.90 115.80,333.30 126.90,318.10" fill="none" stroke="#5a9aa8" stroke-width="0.6"/>
<line x1="60.30" y1="408.80" x2="60.30" y2="413.80" stroke="#5a9aa8" stroke-width="0.6"/>
<line x1="59.00" y1="408.80" x2="61.60" y2="408.80" stroke="#5a9aa8" stroke-width="0.6"/>
<line x1="59.00" y1="413.80" x2="61.60" y2="413.80" stroke="#5a9aa8" stroke-width="0.6"/>
<line x1="71.40" y1="408.50" x2="71.40" y2="414.50" stroke="#5a9aa8" stroke-width="0.6"/>
<line x1="70.10" y1="408.50" x2="72.70" y2="408.50" stroke="#5a9aa8" stroke-width="0.6"/>
<line x1="70.10" y1="414.50" x2="72.70" y2="414.50" stroke="#5a9aa8" stroke-width="0.6"/>
<line x1="82.40" y1="409.40" x2="82.40" y2="414.40" stroke="#5a9aa8" stroke-width="0.6"/>
<line x1="81.10" y1="409.40" x2="83.70" y2="409.40" stroke="#5a9aa8" stroke-width="0.6"/>
<line x1="81.10" y1="414.40" x2="83.70" y2="414.40" stroke="#5a9aa8" stroke-width="0.6"/>
<circle cx="49.10" cy="414.90" r="1.6" fill="#0a5a6a"/>
<circle cx="60.30" cy="411.30" r="1.6" fill="#0a5a6a"/>
<circle cx="71.40" cy="411.50" r="1.6" fill="#0a5a6a"/>
<circle cx="82.40" cy="411.90" r="1.6" fill="#0a5a6a"/>
<circle cx="93.50" cy="407.90" r="1.6" fill="#0a5a6a"/>
<circle cx="100.40" cy="402.50" r="1.6" fill="#0a5a6a"/>
<circle cx="104.80" cy="396.60" r="1.6" fill="#0a5a6a"/>
<circle cx="108.50" cy="380.40" r="1.6" fill="#0a5a6a"/>
<circle cx="111.40" cy="371.90" r="1.6" fill="#0a5a6a"/>
<circle cx="115.80" cy="333.30" r="1.6" fill="#0a5a6a"/>
<circle cx="126.90" cy="318.10" r="1.6" fill="#0a5a6a"/>
<polyline points="49.10,409.00 60.30,408.00 71.40,409.00 82.40,408.00 93.50,400.00 100.40,394.00 104.80,388.00 108.50,378.00 113.60,376.30 115.80,346.80 126.90,318.50" fill="none" stroke="#888888" stroke-width="0.6"/>
<line x1="113.60" y1="374.80" x2="113.60" y2="377.80" stroke="#888888" stroke-width="0.6"/>
<line x1="112.30" y1="374.80" x2="114.90" y2="374.80" stroke="#888888" stroke-width="0.6"/>
<line x1="112.30" y1="377.80" x2="114.90" y2="377.80" stroke="#888888" stroke-width="0.6"/>
<circle cx="49.10" cy="409.00" r="1.6" fill="#666666"/>
<circle cx="60.30" cy="408.00" r="1.6" fill="#666666"/>
<circle cx="71.40" cy="409.00" r="1.6" fill="#666666"/>
<circle cx="82.40" cy="408.00" r="1.6" fill="#666666"/>
<circle cx="93.50" cy="400.00" r="1.6" fill="#666666"/>
<circle cx="100.40" cy="394.00" r="1.6" fill="#666666"/>
<circle cx="104.80" cy="388.00" r="1.6" fill="#666666"/>
<circle cx="108.50" cy="378.00" r="1.6" fill="#666666"/>
<circle cx="113.60" cy="376.30" r="1.6" fill="#666666"/>
<circle cx="115.80" cy="346.80" r="1.6" fill="#666666"/>
<circle cx="126.90" cy="318.50" r="1.6" fill="#666666"/>
<polyline points="49.10,403.50 60.30,405.50 71.40,400.10 82.40,398.40 93.50,395.70 100.40,384.40 108.50,376.00 111.40,370.00 113.60,357.10 115.80,352.00 137.90,322.50" fill="none" stroke="#c050f8" stroke-width="0.6"/>
<line x1="49.10" y1="401.50" x2="49.10" y2="405.50" stroke="#c050f8" stroke-width="0.6"/>
<line x1="47.80" y1="401.50" x2="50.40" y2="401.50" stroke="#c050f8" stroke-width="0.6"/>
<line x1="47.80" y1="405.50" x2="50.40" y2="405.50" stroke="#c050f8" stroke-width="0.6"/>
<line x1="71.40" y1="397.10" x2="71.40" y2="403.10" stroke="#c050f8" stroke-width="0.6"/>
<line x1="70.10" y1="397.10" x2="72.70" y2="397.10" stroke="#c050f8" stroke-width="0.6"/>
<line x1="70.10" y1="403.10" x2="72.70" y2="403.10" stroke="#c050f8" stroke-width="0.6"/>
<line x1="100.40" y1="381.90" x2="100.40" y2="386.90" stroke="#c050f8" stroke-width="0.6"/>
<line x1="99.10" y1="381.90" x2="101.70" y2="381.90" stroke="#c050f8" stroke-width="0.6"/>
<line x1="99.10" y1="386.90" x2="101.70" y2="386.90" stroke="#c050f8" stroke-width="0.6"/>
<circle cx="49.10" cy="403.50" r="1.6" fill="#a000f0"/>
<circle cx="60.30" cy="405.50" r="1.6" fill="#a000f0"/>
<circle cx="71.40" cy="400.10" r="1.6" fill="#a000f0"/>
<circle cx="82.40" cy="398.40" r="1.6" fill="#a000f0"/>
<circle cx="93.50" cy="395.70" r="1.6" fill="#a000f0"/>
<circle cx="100.40" cy="384.40" r="1.6" fill="#a000f0"/>
<circle cx="108.50" cy="376.00" r="1.6" fill="#a000f0"/>
<circle cx="111.40" cy="370.00" r="1.6" fill="#a000f0"/>
<circle cx="113.60" cy="357.10" r="1.6" fill="#a000f0"/>
<circle cx="115.80" cy="352.00" r="1.6" fill="#a000f0"/>
<circle cx="137.90" cy="322.50" r="1.6" fill="#a000f0"/>
<polyline points="49.10,407.20 60.30,400.60 71.40,388.80 82.40,387.60 104.80,376.00 111.40,362.60 115.80,339.50 126.90,318.80" fill="none" stroke="#4040ff" stroke-width="0.6"/>
<line x1="60.30" y1="396.10" x2="60.30" y2="405.10" stroke="#4040ff" stroke-width="0.6"/>
<line x1="59.00" y1="396.10" x2="61.60" y2="396.10" stroke="#4040ff" stroke-width="0.6"/>
<line x1="59.00" y1="405.10" x2="61.60" y2="405.10" stroke="#4040ff" stroke-width="0.6"/>
<line x1="71.40" y1="385.30" x2="71.40" y2="392.30" stroke="#4040ff" stroke-width="0.6"/>
<line x1="70.10" y1="385.30" x2="72.70" y2="385.30" stroke="#4040ff" stroke-width="0.6"/>
<line x1="70.10" y1="392.30" x2="72.70" y2="392.30" stroke="#4040ff" stroke-width="0.6"/>
<circle cx="49.10" cy="407.20" r="1.6" fill="#0000ff"/>
<circle cx="60.30" cy="400.60" r="1.6" fill="#0000ff"/>
<circle cx="71.40" cy="388.80" r="1.6" fill="#0000ff"/>
<circle cx="82.40" cy="387.60" r="1.6" fill="#0000ff"/>
<circle cx="104.80" cy="376.00" r="1.6" fill="#0000ff"/>
<circle cx="111.40" cy="362.60" r="1.6" fill="#0000ff"/>
<circle cx="115.80" cy="339.50" r="1.6" fill="#0000ff"/>
<circle cx="126.90" cy="318.80" r="1.6" fill="#0000ff"/>
<polyline points="49.10,407.90 60.30,405.40 71.40,406.00 82.40,402.80 93.50,392.80 100.40,390.00 104.80,380.00 110.70,357.10 113.60,345.00 115.80,324.40 118.10,319.10 129.10,317.70" fill="none" stroke="#aa7c44" stroke-width="0.6"/>
<circle cx="49.10" cy="407.90" r="1.6" fill="#8c5a1c"/>
<circle cx="60.30" cy="405.40" r="1.6" fill="#8c5a1c"/>
<circle cx="71.40" cy="406.00" r="1.6" fill="#8c5a1c"/>
<circle cx="82.40" cy="402.80" r="1.6" fill="#8c5a1c"/>
<circle cx="93.50" cy="392.80" r="1.6" fill="#8c5a1c"/>
<circle cx="100.40" cy="390.00" r="1.6" fill="#8c5a1c"/>
<circle cx="104.80" cy="380.00" r="1.6" fill="#8c5a1c"/>
<circle cx="110.70" cy="357.10" r="1.6" fill="#8c5a1c"/>
<circle cx="113.60" cy="345.00" r="1.6" fill="#8c5a1c"/>
<circle cx="115.80" cy="324.40" r="1.6" fill="#8c5a1c"/>
<circle cx="118.10" cy="319.10" r="1.6" fill="#8c5a1c"/>
<circle cx="129.10" cy="317.70" r="1.6" fill="#8c5a1c"/>
<polyline points="49.10,410.10 60.30,408.70 71.40,410.00 82.40,404.30 93.50,398.40 100.40,391.70 104.80,386.00 108.50,368.90 113.60,345.00 126.90,326.20 137.90,321.50" fill="none" stroke="#ff4040" stroke-width="0.6"/>
<circle cx="49.10" cy="410.10" r="1.6" fill="#ff0000"/>
<circle cx="60.30" cy="408.70" r="1.6" fill="#ff0000"/>
<circle cx="71.40" cy="410.00" r="1.6" fill="#ff0000"/>
<circle cx="82.40" cy="404.30" r="1.6" fill="#ff0000"/>
<circle cx="93.50" cy="398.40" r="1.6" fill="#ff0000"/>
<circle cx="100.40" cy="391.70" r="1.6" fill="#ff0000"/>
<circle cx="104.80" cy="386.00" r="1.6" fill="#ff0000"/>
<circle cx="108.50" cy="368.90" r="1.6" fill="#ff0000"/>
<circle cx="113.60" cy="345.00" r="1.6" fill="#ff0000"/>
<circle cx="126.90" cy="326.20" r="1.6" fill="#ff0000"/>
<circle cx="137.90" cy="321.50" r="1.6" fill="#ff0000"/>
<polyline points="49.10,410.10 60.30,409.00 71.40,410.50 82.40,409.00 93.50,402.80 100.40,398.80 104.80,385.40 108.50,368.20 111.40,346.10 113.60,323.00 115.80,318.10 126.90,317.70" fill="none" stroke="#b03030" stroke-width="0.6"/>
<circle cx="49.10" cy="410.10" r="1.6" fill="#990000"/>
<circle cx="60.30" cy="409.00" r="1.6" fill="#990000"/>
<circle cx="71.40" cy="410.50" r="1.6" fill="#990000"/>
<circle cx="82.40" cy="409.00" r="1.6" fill="#990000"/>
<circle cx="93.50" cy="402.80" r="1.6" fill="#990000"/>
<circle cx="100.40" cy="398.80" r="1.6" fill="#990000"/>
<circle cx="104.80" cy="385.40" r="1.6" fill="#990000"/>
<circle cx="108.50" cy="368.20" r="1.6" fill="#990000"/>
<circle cx="111.40" cy="346.10" r="1.6" fill="#990000"/>
<circle cx="113.60" cy="323.00" r="1.6" fill="#990000"/>
<circle cx="115.80" cy="318.10" r="1.6" fill="#990000"/>
<circle cx="126.90" cy="317.70" r="1.6" fill="#990000"/>
<polyline points="260.40,418.40 271.40,418.40 282.30,418.40 288.90,418.40 293.50,418.40 297.30,418.40 302.70,418.40 304.60,418.40 316.00,418.40 326.90,418.40 338.30,418.40 349.00,418.40 360.50,418.40" fill="none" stroke="#ff4040" stroke-width="0.6"/>
<circle cx="260.40" cy="418.40" r="1.6" fill="#ff0000"/>
<circle cx="271.40" cy="418.40" r="1.6" fill="#ff0000"/>
<circle cx="282.30" cy="418.40" r="1.6" fill="#ff0000"/>
<circle cx="288.90" cy="418.40" r="1.6" fill="#ff0000"/>
<circle cx="293.50" cy="418.40" r="1.6" fill="#ff0000"/>
<circle cx="297.30" cy="418.40" r="1.6" fill="#ff0000"/>
<circle cx="302.70" cy="418.40" r="1.6" fill="#ff0000"/>
<circle cx="304.60" cy="418.40" r="1.6" fill="#ff0000"/>
<circle cx="316.00" cy="418.40" r="1.6" fill="#ff0000"/>
<circle cx="326.90" cy="418.40" r="1.6" fill="#ff0000"/>
<circle cx="338.30" cy="418.40" r="1.6" fill="#ff0000"/>
<circle cx="349.00" cy="418.40" r="1.6" fill="#ff0000"/>
<circle cx="360.50" cy="418.40" r="1.6" fill="#ff0000"/>
<polyline points="260.40,412.40 271.40,402.40 282.30,384.60 293.50,351.20 308.40,333.40 310.30,329.80 313.40,328.80 316.00,325.50 326.90,321.70" fill="none" stroke="#888888" stroke-width="0.6"/>
<line x1="260.40" y1="407.90" x2="260.40" y2="416.90" stroke="#888888" stroke-width="0.6"/>
<line x1="259.10" y1="407.90" x2="261.70" y2="407.90" stroke="#888888" stroke-width="0.6"/>
<line x1="259.10" y1="416.90" x2="261.70" y2="416.90" stroke="#888888" stroke-width="0.6"/>
<line x1="293.50" y1="349.20" x2="293.50" y2="353.20" stroke="#888888" stroke-width="0.6"/>
<line x1="292.20" y1="349.20" x2="294.80" y2="349.20" stroke="#888888" stroke-width="0.6"/>
<line x1="292.20" y1="353.20" x2="294.80" y2="353.20" stroke="#888888" stroke-width="0.6"/>
<circle cx="260.40" cy="412.40" r="1.6" fill="#666666"/>
<circle cx="271.40" cy="402.40" r="1.6" fill="#666666"/>
<circle cx="282.30" cy="384.60" r="1.6" fill="#666666"/>
<circle cx="293.50" cy="351.20" r="1.6" fill="#666666"/>
<circle cx="308.40" cy="333.40" r="1.6" fill="#666666"/>
<circle cx="310.30" cy="329.80" r="1.6" fill="#666666"/>
<circle cx="313.40" cy="328.80" r="1.6" fill="#666666"/>
<circle cx="316.00" cy="325.50" r="1.6" fill="#666666"/>
<circle cx="326.90" cy="321.70" r="1.6" fill="#666666"/>
<polyline points="260.40,413.40 271.40,413.40 282.30,410.50 288.90,410.30 297.30,403.90 302.70,396.30 304.60,368.70 316.00,320.50 326.90,320.50" fill="none" stroke="#aa7c44" stroke-width="0.6"/>
<line x1="297.30" y1="400.90" x2="297.30" y2="406.90" stroke="#aa7c44" stroke-width="0.6"/>
<line x1="296.00" y1="400.90" x2="298.60" y2="400.90" stroke="#aa7c44" stroke-width="0.6"/>
<line x1="296.00" y1="406.90" x2="298.60" y2="406.90" stroke="#aa7c44" stroke-width="0.6"/>
<line x1="304.60" y1="366.20" x2="304.60" y2="371.20" stroke="#aa7c44" stroke-width="0.6"/>
<line x1="303.30" y1="366.20" x2="305.90" y2="366.20" stroke="#aa7c44" stroke-width="0.6"/>
<line x1="303.30" y1="371.20" x2="305.90" y2="371.20" stroke="#aa7c44" stroke-width="0.6"/>
<circle cx="260.40" cy="413.40" r="1.6" fill="#8c5a1c"/>
<circle cx="271.40" cy="413.40" r="1.6" fill="#8c5a1c"/>
<circle cx="282.30" cy="410.50" r="1.6" fill="#8c5a1c"/>
<circle cx="288.90" cy="410.30" r="1.6" fill="#8c5a1c"/>
<circle cx="297.30" cy="403.90" r="1.6" fill="#8c5a1c"/>
<circle cx="302.70" cy="396.30" r="1.6" fill="#8c5a1c"/>
<circle cx="304.60" cy="368.70" r="1.6" fill="#8c5a1c"/>
<circle cx="316.00" cy="320.50" r="1.6" fill="#8c5a1c"/>
<circle cx="326.90" cy="320.50" r="1.6" fill="#8c5a1c"/>
<polyline points="260.40,418.10 271.40,418.10 282.30,417.40 293.50,414.50 304.60,409.30 308.40,406.70 310.30,401.40 312.00,401.00 313.40,393.20 314.50,383.90 315.50,376.10 316.00,371.10 316.50,362.60 326.90,320.50 338.30,320.10" fill="none" stroke="#b03030" stroke-width="0.6"/>
<line x1="308.40" y1="405.20" x2="308.40" y2="408.20" stroke="#b03030" stroke-width="0.6"/>
<line x1="307.10" y1="405.20" x2="309.70" y2="405.20" stroke="#b03030" stroke-width="0.6"/>
<line x1="307.10" y1="408.20" x2="309.70" y2="408.20" stroke="#b03030" stroke-width="0.6"/>
<line x1="313.40" y1="391.70" x2="313.40" y2="394.70" stroke="#b03030" stroke-width="0.6"/>
<line x1="312.10" y1="391.70" x2="314.70" y2="391.70" stroke="#b03030" stroke-width="0.6"/>
<line x1="312.10" y1="394.70" x2="314.70" y2="394.70" stroke="#b03030" stroke-width="0.6"/>
<line x1="315.50" y1="373.60" x2="315.50" y2="378.60" stroke="#b03030" stroke-width="0.6"/>
<line x1="314.20" y1="373.60" x2="316.80" y2="373.60" stroke="#b03030" stroke-width="0.6"/>
<line x1="314.20" y1="378.60" x2="316.80" y2="378.60" stroke="#b03030" stroke-width="0.6"/>
<circle cx="260.40" cy="418.10" r="1.6" fill="#990000"/>
<circle cx="271.40" cy="418.10" r="1.6" fill="#990000"/>
<circle cx="282.30" cy="417.40" r="1.6" fill="#990000"/>
<circle cx="293.50" cy="414.50" r="1.6" fill="#990000"/>
<circle cx="304.60" cy="409.30" r="1.6" fill="#990000"/>
<circle cx="308.40" cy="406.70" r="1.6" fill="#990000"/>
<circle cx="310.30" cy="401.40" r="1.6" fill="#990000"/>
<circle cx="312.00" cy="401.00" r="1.6" fill="#990000"/>
<circle cx="313.40" cy="393.20" r="1.6" fill="#990000"/>
<circle cx="314.50" cy="383.90" r="1.6" fill="#990000"/>
<circle cx="315.50" cy="376.10" r="1.6" fill="#990000"/>
<circle cx="316.00" cy="371.10" r="1.6" fill="#990000"/>
<circle cx="316.50" cy="362.60" r="1.6" fill="#990000"/>
<circle cx="326.90" cy="320.50" r="1.6" fill="#990000"/>
<circle cx="338.30" cy="320.10" r="1.6" fill="#990000"/>
<polyline points="260.40,417.40 271.40,415.20 282.30,412.40 288.90,406.30 293.50,390.60 297.30,375.80 302.70,360.40 304.60,348.30 316.00,320.10 326.90,320.10 338.30,320.10" fill="none" stroke="#4040ff" stroke-width="0.6"/>
<line x1="282.30" y1="409.40" x2="282.30" y2="415.40" stroke="#4040ff" stroke-width="0.6"/>
<line x1="281.00" y1="409.40" x2="283.60" y2="409.40" stroke="#4040ff" stroke-width="0.6"/>
<line x1="281.00" y1="415.40" x2="283.60" y2="415.40" stroke="#4040ff" stroke-width="0.6"/>
<line x1="288.90" y1="402.30" x2="288.90" y2="410.30" stroke="#4040ff" stroke-width="0.6"/>
<line x1="287.60" y1="402.30" x2="290.20" y2="402.30" stroke="#4040ff" stroke-width="0.6"/>
<line x1="287.60" y1="410.30" x2="290.20" y2="410.30" stroke="#4040ff" stroke-width="0.6"/>
<line x1="297.30" y1="371.80" x2="297.30" y2="379.80" stroke="#4040ff" stroke-width="0.6"/>
<line x1="296.00" y1="371.80" x2="298.60" y2="371.80" stroke="#4040ff" stroke-width="0.6"/>
<line x1="296.00" y1="379.80" x2="298.60" y2="379.80" stroke="#4040ff" stroke-width="0.6"/>
<line x1="302.70" y1="355.90" x2="302.70" y2="364.90" stroke="#4040ff" stroke-width="0.6"/>
<line x1="301.40" y1="355.90" x2="304.00" y2="355.90" stroke="#4040ff" stroke-width="0.6"/>
<line x1="301.40" y1="364.90" x2="304.00" y2="364.90" stroke="#4040ff" stroke-width="0.6"/>
<line x1="304.60" y1="342.80" x2="304.60" y2="353.80" stroke="#4040ff" stroke-width="0.6"/>
<line x1="303.30" y1="342.80" x2="305.90" y2="342.80" stroke="#4040ff" stroke-width="0.6"/>
<line x1="303.30" y1="353.80" x2="305.90" y2="353.80" stroke="#4040ff" stroke-width="0.6"/>
<circle cx="260.40" cy="417.40" r="1.6" fill="#0000ff"/>
<circle cx="271.40" cy="415.20" r="1.6" fill="#0000ff"/>
<circle cx="282.30" cy="412.40" r="1.6" fill="#0000ff"/>
<circle cx="288.90" cy="406.30" r="1.6" fill="#0000ff"/>
<circle cx="293.50" cy="390.60" r="1.6" fill="#0000ff"/>
<circle cx="297.30" cy="375.80" r="1.6" fill="#0000ff"/>
<circle cx="302.70" cy="360.40" r="1.6" fill="#0000ff"/>
<circle cx="304.60" cy="348.30" r="1.6" fill="#0000ff"/>
<circle cx="316.00" cy="320.10" r="1.6" fill="#0000ff"/>
<circle cx="326.90" cy="320.10" r="1.6" fill="#0000ff"/>
<circle cx="338.30" cy="320.10" r="1.6" fill="#0000ff"/>
<polyline points="424.20,418.70 435.40,418.70 446.30,418.70 457.20,418.70 467.90,418.70 479.40,418.70 490.50,418.70 501.50,418.70 512.90,418.70 523.90,418.70 534.80,418.70 546.00,418.70" fill="none" stroke="#8c8a28" stroke-width="0.6"/>
<circle cx="424.20" cy="418.70" r="1.6" fill="#8c8a28"/>
<circle cx="435.40" cy="418.70" r="1.6" fill="#8c8a28"/>
<circle cx="446.30" cy="418.70" r="1.6" fill="#8c8a28"/>
<circle cx="457.20" cy="418.70" r="1.6" fill="#8c8a28"/>
<circle cx="467.90" cy="418.70" r="1.6" fill="#8c8a28"/>
<circle cx="479.40" cy="418.70" r="1.6" fill="#8c8a28"/>
<circle cx="490.50" cy="418.70" r="1.6" fill="#8c8a28"/>
<circle cx="501.50" cy="418.70" r="1.6" fill="#8c8a28"/>
<circle cx="512.90" cy="418.70" r="1.6" fill="#8c8a28"/>
<circle cx="523.90" cy="418.70" r="1.6" fill="#8c8a28"/>
<circle cx="534.80" cy="418.70" r="1.6" fill="#8c8a28"/>
<circle cx="546.00" cy="418.70" r="1.6" fill="#8c8a28"/>
<polyline points="457.20,418.00 467.90,417.30 474.80,417.60 486.00,418.30 490.50,417.00 501.50,412.10 512.90,409.00 523.90,405.00 534.80,399.40 546.00,378.50" fill="none" stroke="#b03030" stroke-width="0.6"/>
<line x1="512.90" y1="407.00" x2="512.90" y2="411.00" stroke="#b03030" stroke-width="0.6"/>
<line x1="511.60" y1="407.00" x2="514.20" y2="407.00" stroke="#b03030" stroke-width="0.6"/>
<line x1="511.60" y1="411.00" x2="514.20" y2="411.00" stroke="#b03030" stroke-width="0.6"/>
<line x1="534.80" y1="397.80" x2="534.80" y2="401.00" stroke="#b03030" stroke-width="0.6"/>
<line x1="533.50" y1="397.80" x2="536.10" y2="397.80" stroke="#b03030" stroke-width="0.6"/>
<line x1="533.50" y1="401.00" x2="536.10" y2="401.00" stroke="#b03030" stroke-width="0.6"/>
<line x1="546.00" y1="376.10" x2="546.00" y2="380.90" stroke="#b03030" stroke-width="0.6"/>
<line x1="544.70" y1="376.10" x2="547.30" y2="376.10" stroke="#b03030" stroke-width="0.6"/>
<line x1="544.70" y1="380.90" x2="547.30" y2="380.90" stroke="#b03030" stroke-width="0.6"/>
<circle cx="457.20" cy="418.00" r="1.6" fill="#990000"/>
<circle cx="467.90" cy="417.30" r="1.6" fill="#990000"/>
<circle cx="474.80" cy="417.60" r="1.6" fill="#990000"/>
<circle cx="486.00" cy="418.30" r="1.6" fill="#990000"/>
<circle cx="490.50" cy="417.00" r="1.6" fill="#990000"/>
<circle cx="501.50" cy="412.10" r="1.6" fill="#990000"/>
<circle cx="512.90" cy="409.00" r="1.6" fill="#990000"/>
<circle cx="523.90" cy="405.00" r="1.6" fill="#990000"/>
<circle cx="534.80" cy="399.40" r="1.6" fill="#990000"/>
<circle cx="546.00" cy="378.50" r="1.6" fill="#990000"/>
<polyline points="424.20,414.10 435.40,412.10 446.30,409.00 457.20,404.40 467.90,387.90 474.80,370.90 479.40,349.00 486.00,338.80 490.50,335.80 501.50,330.70 512.90,323.80" fill="none" stroke="#4040ff" stroke-width="0.6"/>
<line x1="457.20" y1="402.90" x2="457.20" y2="405.90" stroke="#4040ff" stroke-width="0.6"/>
<line x1="455.90" y1="402.90" x2="458.50" y2="402.90" stroke="#4040ff" stroke-width="0.6"/>
<line x1="455.90" y1="405.90" x2="458.50" y2="405.90" stroke="#4040ff" stroke-width="0.6"/>
<line x1="474.80" y1="368.40" x2="474.80" y2="373.40" stroke="#4040ff" stroke-width="0.6"/>
<line x1="473.50" y1="368.40" x2="476.10" y2="368.40" stroke="#4040ff" stroke-width="0.6"/>
<line x1="473.50" y1="373.40" x2="476.10" y2="373.40" stroke="#4040ff" stroke-width="0.6"/>
<line x1="479.40" y1="347.00" x2="479.40" y2="351.00" stroke="#4040ff" stroke-width="0.6"/>
<line x1="478.10" y1="347.00" x2="480.70" y2="347.00" stroke="#4040ff" stroke-width="0.6"/>
<line x1="478.10" y1="351.00" x2="480.70" y2="351.00" stroke="#4040ff" stroke-width="0.6"/>
<line x1="490.50" y1="333.30" x2="490.50" y2="338.30" stroke="#4040ff" stroke-width="0.6"/>
<line x1="489.20" y1="333.30" x2="491.80" y2="333.30" stroke="#4040ff" stroke-width="0.6"/>
<line x1="489.20" y1="338.30" x2="491.80" y2="338.30" stroke="#4040ff" stroke-width="0.6"/>
<line x1="501.50" y1="328.90" x2="501.50" y2="332.50" stroke="#4040ff" stroke-width="0.6"/>
<line x1="500.20" y1="328.90" x2="502.80" y2="328.90" stroke="#4040ff" stroke-width="0.6"/>
<line x1="500.20" y1="332.50" x2="502.80" y2="332.50" stroke="#4040ff" stroke-width="0.6"/>
<circle cx="424.20" cy="414.10" r="1.6" fill="#0000ff"/>
<circle cx="435.40" cy="412.10" r="1.6" fill="#0000ff"/>
<circle cx="446.30" cy="409.00" r="1.6" fill="#0000ff"/>
<circle cx="457.20" cy="404.40" r="1.6" fill="#0000ff"/>
<circle cx="467.90" cy="387.90" r="1.6" fill="#0000ff"/>
<circle cx="474.80" cy="370.90" r="1.6" fill="#0000ff"/>
<circle cx="479.40" cy="349.00" r="1.6" fill="#0000ff"/>
<circle cx="486.00" cy="338.80" r="1.6" fill="#0000ff"/>
<circle cx="490.50" cy="335.80" r="1.6" fill="#0000ff"/>
<circle cx="501.50" cy="330.70" r="1.6" fill="#0000ff"/>
<circle cx="512.90" cy="323.80" r="1.6" fill="#0000ff"/>
<polyline points="613.00,419.20 624.40,419.20 635.30,419.20 646.80,419.20 658.00,419.20 668.90,419.20 675.80,419.20 680.60,419.20 691.80,419.20 703.20,419.20 714.40,419.20 725.40,419.20 736.80,419.20" fill="none" stroke="#ff4040" stroke-width="0.6"/>
<circle cx="613.00" cy="419.20" r="1.6" fill="#ff0000"/>
<circle cx="624.40" cy="419.20" r="1.6" fill="#ff0000"/>
<circle cx="635.30" cy="419.20" r="1.6" fill="#ff0000"/>
<circle cx="646.80" cy="419.20" r="1.6" fill="#ff0000"/>
<circle cx="658.00" cy="419.20" r="1.6" fill="#ff0000"/>
<circle cx="668.90" cy="419.20" r="1.6" fill="#ff0000"/>
<circle cx="675.80" cy="419.20" r="1.6" fill="#ff0000"/>
<circle cx="680.60" cy="419.20" r="1.6" fill="#ff0000"/>
<circle cx="691.80" cy="419.20" r="1.6" fill="#ff0000"/>
<circle cx="703.20" cy="419.20" r="1.6" fill="#ff0000"/>
<circle cx="714.40" cy="419.20" r="1.6" fill="#ff0000"/>
<circle cx="725.40" cy="419.20" r="1.6" fill="#ff0000"/>
<circle cx="736.80" cy="419.20" r="1.6" fill="#ff0000"/>
<polyline points="635.30,417.70 646.80,414.60 658.00,410.80 664.60,410.80 668.90,409.50 675.80,405.00 680.60,407.00 691.80,399.40 703.20,396.30 714.40,393.80 725.40,390.20 736.80,377.00" fill="none" stroke="#888888" stroke-width="0.6"/>
<line x1="691.80" y1="394.40" x2="691.80" y2="404.40" stroke="#888888" stroke-width="0.6"/>
<line x1="690.50" y1="394.40" x2="693.10" y2="394.40" stroke="#888888" stroke-width="0.6"/>
<line x1="690.50" y1="404.40" x2="693.10" y2="404.40" stroke="#888888" stroke-width="0.6"/>
<line x1="703.20" y1="390.80" x2="703.20" y2="401.80" stroke="#888888" stroke-width="0.6"/>
<line x1="701.90" y1="390.80" x2="704.50" y2="390.80" stroke="#888888" stroke-width="0.6"/>
<line x1="701.90" y1="401.80" x2="704.50" y2="401.80" stroke="#888888" stroke-width="0.6"/>
<line x1="714.40" y1="392.30" x2="714.40" y2="395.30" stroke="#888888" stroke-width="0.6"/>
<line x1="713.10" y1="392.30" x2="715.70" y2="392.30" stroke="#888888" stroke-width="0.6"/>
<line x1="713.10" y1="395.30" x2="715.70" y2="395.30" stroke="#888888" stroke-width="0.6"/>
<line x1="725.40" y1="387.70" x2="725.40" y2="392.70" stroke="#888888" stroke-width="0.6"/>
<line x1="724.10" y1="387.70" x2="726.70" y2="387.70" stroke="#888888" stroke-width="0.6"/>
<line x1="724.10" y1="392.70" x2="726.70" y2="392.70" stroke="#888888" stroke-width="0.6"/>
<line x1="664.60" y1="408.30" x2="664.60" y2="413.30" stroke="#888888" stroke-width="0.6"/>
<line x1="663.30" y1="408.30" x2="665.90" y2="408.30" stroke="#888888" stroke-width="0.6"/>
<line x1="663.30" y1="413.30" x2="665.90" y2="413.30" stroke="#888888" stroke-width="0.6"/>
<circle cx="635.30" cy="417.70" r="1.6" fill="#666666"/>
<circle cx="646.80" cy="414.60" r="1.6" fill="#666666"/>
<circle cx="658.00" cy="410.80" r="1.6" fill="#666666"/>
<circle cx="664.60" cy="410.80" r="1.6" fill="#666666"/>
<circle cx="668.90" cy="409.50" r="1.6" fill="#666666"/>
<circle cx="675.80" cy="405.00" r="1.6" fill="#666666"/>
<circle cx="680.60" cy="407.00" r="1.6" fill="#666666"/>
<circle cx="691.80" cy="399.40" r="1.6" fill="#666666"/>
<circle cx="703.20" cy="396.30" r="1.6" fill="#666666"/>
<circle cx="714.40" cy="393.80" r="1.6" fill="#666666"/>
<circle cx="725.40" cy="390.20" r="1.6" fill="#666666"/>
<circle cx="736.80" cy="377.00" r="1.6" fill="#666666"/>
<polyline points="613.00,416.70 624.40,417.20 635.30,414.60 646.80,414.10 664.60,405.70 675.80,394.30 680.60,379.50 691.80,365.00 703.20,349.30 714.40,337.60 725.40,325.60 736.80,321.80" fill="none" stroke="#b03030" stroke-width="0.6"/>
<line x1="664.60" y1="403.20" x2="664.60" y2="408.20" stroke="#b03030" stroke-width="0.6"/>
<line x1="663.30" y1="403.20" x2="665.90" y2="403.20" stroke="#b03030" stroke-width="0.6"/>
<line x1="663.30" y1="408.20" x2="665.90" y2="408.20" stroke="#b03030" stroke-width="0.6"/>
<line x1="680.60" y1="376.00" x2="680.60" y2="383.00" stroke="#b03030" stroke-width="0.6"/>
<line x1="679.30" y1="376.00" x2="681.90" y2="376.00" stroke="#b03030" stroke-width="0.6"/>
<line x1="679.30" y1="383.00" x2="681.90" y2="383.00" stroke="#b03030" stroke-width="0.6"/>
<line x1="691.80" y1="363.00" x2="691.80" y2="367.00" stroke="#b03030" stroke-width="0.6"/>
<line x1="690.50" y1="363.00" x2="693.10" y2="363.00" stroke="#b03030" stroke-width="0.6"/>
<line x1="690.50" y1="367.00" x2="693.10" y2="367.00" stroke="#b03030" stroke-width="0.6"/>
<line x1="703.20" y1="346.80" x2="703.20" y2="351.80" stroke="#b03030" stroke-width="0.6"/>
<line x1="701.90" y1="346.80" x2="704.50" y2="346.80" stroke="#b03030" stroke-width="0.6"/>
<line x1="701.90" y1="351.80" x2="704.50" y2="351.80" stroke="#b03030" stroke-width="0.6"/>
<line x1="714.40" y1="335.10" x2="714.40" y2="340.10" stroke="#b03030" stroke-width="0.6"/>
<line x1="713.10" y1="335.10" x2="715.70" y2="335.10" stroke="#b03030" stroke-width="0.6"/>
<line x1="713.10" y1="340.10" x2="715.70" y2="340.10" stroke="#b03030" stroke-width="0.6"/>
<circle cx="613.00" cy="416.70" r="1.6" fill="#990000"/>
<circle cx="624.40" cy="417.20" r="1.6" fill="#990000"/>
<circle cx="635.30" cy="414.60" r="1.6" fill="#990000"/>
<circle cx="646.80" cy="414.10" r="1.6" fill="#990000"/>
<circle cx="664.60" cy="405.70" r="1.6" fill="#990000"/>
<circle cx="675.80" cy="394.30" r="1.6" fill="#990000"/>
<circle cx="680.60" cy="379.50" r="1.6" fill="#990000"/>
<circle cx="691.80" cy="365.00" r="1.6" fill="#990000"/>
<circle cx="703.20" cy="349.30" r="1.6" fill="#990000"/>
<circle cx="714.40" cy="337.60" r="1.6" fill="#990000"/>
<circle cx="725.40" cy="325.60" r="1.6" fill="#990000"/>
<circle cx="736.80" cy="321.80" r="1.6" fill="#990000"/>
<polyline points="613.00,412.60 624.40,412.60 635.30,407.00 658.00,384.10 664.60,378.50 668.90,337.00 675.80,328.10 680.60,320.50 691.80,320.50 703.20,320.50" fill="none" stroke="#4040ff" stroke-width="0.6"/>
<line x1="613.00" y1="410.60" x2="613.00" y2="414.60" stroke="#4040ff" stroke-width="0.6"/>
<line x1="611.70" y1="410.60" x2="614.30" y2="410.60" stroke="#4040ff" stroke-width="0.6"/>
<line x1="611.70" y1="414.60" x2="614.30" y2="414.60" stroke="#4040ff" stroke-width="0.6"/>
<line x1="624.40" y1="410.60" x2="624.40" y2="414.60" stroke="#4040ff" stroke-width="0.6"/>
<line x1="623.10" y1="410.60" x2="625.70" y2="410.60" stroke="#4040ff" stroke-width="0.6"/>
<line x1="623.10" y1="414.60" x2="625.70" y2="414.60" stroke="#4040ff" stroke-width="0.6"/>
<line x1="658.00" y1="380.10" x2="658.00" y2="388.10" stroke="#4040ff" stroke-width="0.6"/>
<line x1="656.70" y1="380.10" x2="659.30" y2="380.10" stroke="#4040ff" stroke-width="0.6"/>
<line x1="656.70" y1="388.10" x2="659.30" y2="388.10" stroke="#4040ff" stroke-width="0.6"/>
<line x1="664.60" y1="374.00" x2="664.60" y2="383.00" stroke="#4040ff" stroke-width="0.6"/>
<line x1="663.30" y1="374.00" x2="665.90" y2="374.00" stroke="#4040ff" stroke-width="0.6"/>
<line x1="663.30" y1="383.00" x2="665.90" y2="383.00" stroke="#4040ff" stroke-width="0.6"/>
<line x1="668.90" y1="335.50" x2="668.90" y2="338.50" stroke="#4040ff" stroke-width="0.6"/>
<line x1="667.60" y1="335.50" x2="670.20" y2="335.50" stroke="#4040ff" stroke-width="0.6"/>
<line x1="667.60" y1="338.50" x2="670.20" y2="338.50" stroke="#4040ff" stroke-width="0.6"/>
<circle cx="613.00" cy="412.60" r="1.6" fill="#0000ff"/>
<circle cx="624.40" cy="412.60" r="1.6" fill="#0000ff"/>
<circle cx="635.30" cy="407.00" r="1.6" fill="#0000ff"/>
<circle cx="658.00" cy="384.10" r="1.6" fill="#0000ff"/>
<circle cx="664.60" cy="378.50" r="1.6" fill="#0000ff"/>
<circle cx="668.90" cy="337.00" r="1.6" fill="#0000ff"/>
<circle cx="675.80" cy="328.10" r="1.6" fill="#0000ff"/>
<circle cx="680.60" cy="320.50" r="1.6" fill="#0000ff"/>
<circle cx="691.80" cy="320.50" r="1.6" fill="#0000ff"/>
<circle cx="703.20" cy="320.50" r="1.6" fill="#0000ff"/>
<polyline points="65.69,665.95 66.95,665.95 68.22,665.95 69.49,665.94 70.76,665.94 72.03,665.93 73.30,665.92 74.57,665.92 75.84,665.90 77.11,665.89 78.38,665.87 79.65,665.84 80.91,665.81 82.18,665.77 83.45,665.72 84.72,665.65 85.99,665.57 87.26,665.46 88.53,665.33 89.80,665.15 91.07,664.93 92.34,664.65 93.61,664.30 94.87,663.85 96.14,663.28 97.41,662.57 98.68,661.68 99.95,660.57 101.22,659.20 102.49,657.51 103.76,655.47 105.03,653.03 106.30,650.14 107.57,646.79 108.84,642.98 110.10,638.75 111.37,634.17 112.64,629.36 113.91,624.43 115.18,619.54 116.45,614.82 117.72,610.41 118.99,606.39 120.26,602.81 121.53,599.70 122.80,597.04 124.06,594.80 125.33,592.95 126.60,591.43 127.87,590.20 129.14,589.20 130.41,588.41 131.68,587.77 132.95,587.27 134.22,586.87 135.49,586.55 136.76,586.31 138.03,586.11 139.29,585.96 140.56,585.84 141.83,585.74 143.10,585.67 144.37,585.61 145.64,585.56 146.91,585.53 148.18,585.50 149.45,585.48 150.72,585.46 151.99,585.45 153.25,585.44 154.52,585.43 155.79,585.42 157.06,585.42 158.33,585.41 159.60,585.41 160.87,585.41 162.14,585.41 163.41,585.41 164.68,585.40 165.95,585.40 167.22,585.40" fill="none" stroke="#f4b07a" stroke-width="0.9"/>
<circle cx="66.40" cy="666.70" r="1.7" fill="#f4b07a"/>
<circle cx="76.41" cy="667.39" r="1.7" fill="#f4b07a"/>
<circle cx="86.42" cy="664.89" r="1.7" fill="#f4b07a"/>
<circle cx="96.43" cy="664.97" r="1.7" fill="#f4b07a"/>
<circle cx="106.44" cy="649.63" r="1.7" fill="#f4b07a"/>
<circle cx="116.45" cy="615.40" r="1.7" fill="#f4b07a"/>
<circle cx="126.46" cy="593.48" r="1.7" fill="#f4b07a"/>
<circle cx="136.47" cy="586.36" r="1.7" fill="#f4b07a"/>
<circle cx="146.48" cy="585.54" r="1.7" fill="#f4b07a"/>
<circle cx="156.49" cy="585.42" r="1.7" fill="#f4b07a"/>
<circle cx="166.50" cy="585.40" r="1.7" fill="#f4b07a"/>
<polyline points="65.69,664.24 66.95,664.24 68.22,664.24 69.49,664.24 70.76,664.24 72.03,664.24 73.30,664.24 74.57,664.24 75.84,664.24 77.11,664.24 78.38,664.24 79.65,664.24 80.91,664.24 82.18,664.24 83.45,664.23 84.72,664.23 85.99,664.23 87.26,664.22 88.53,664.22 89.80,664.21 91.07,664.20 92.34,664.18 93.61,664.17 94.87,664.14 96.14,664.11 97.41,664.07 98.68,664.02 99.95,663.95 101.22,663.86 102.49,663.74 103.76,663.59 105.03,663.39 106.30,663.14 107.57,662.80 108.84,662.38 110.10,661.83 111.37,661.12 112.64,660.22 113.91,659.07 115.18,657.63 116.45,655.83 117.72,653.62 118.99,650.93 120.26,647.73 121.53,644.00 122.80,639.75 124.06,635.06 125.33,630.03 126.60,624.82 127.87,619.62 129.14,614.59 130.41,609.89 131.68,605.65 132.95,601.91 134.22,598.71 135.49,596.02 136.76,593.81 138.03,592.01 139.29,590.57 140.56,589.43 141.83,588.52 143.10,587.82 144.37,587.27 145.64,586.84 146.91,586.51 148.18,586.25 149.45,586.06 150.72,585.90 151.99,585.79 153.25,585.70 154.52,585.63 155.79,585.57 157.06,585.53 158.33,585.50 159.60,585.48 160.87,585.46 162.14,585.45 163.41,585.44 164.68,585.43 165.95,585.42 167.22,585.42" fill="none" stroke="#ff0000" stroke-width="0.9"/>
<circle cx="66.40" cy="666.00" r="1.7" fill="#ff0000"/>
<circle cx="76.41" cy="664.57" r="1.7" fill="#ff0000"/>
<circle cx="86.42" cy="662.83" r="1.7" fill="#ff0000"/>
<line x1="96.43" y1="634.11" x2="96.43" y2="658.10" stroke="#ff0000" stroke-width="0.7"/>
<line x1="95.43" y1="634.11" x2="97.43" y2="634.11" stroke="#ff0000" stroke-width="0.7"/>
<line x1="95.43" y1="658.10" x2="97.43" y2="658.10" stroke="#ff0000" stroke-width="0.7"/>
<circle cx="96.43" cy="646.10" r="1.7" fill="#ff0000"/>
<circle cx="106.44" cy="664.29" r="1.7" fill="#ff0000"/>
<circle cx="116.45" cy="655.29" r="1.7" fill="#ff0000"/>
<circle cx="126.46" cy="623.49" r="1.7" fill="#ff0000"/>
<circle cx="136.47" cy="593.94" r="1.7" fill="#ff0000"/>
<circle cx="146.48" cy="586.61" r="1.7" fill="#ff0000"/>
<circle cx="156.49" cy="585.55" r="1.7" fill="#ff0000"/>
<circle cx="166.50" cy="585.42" r="1.7" fill="#ff0000"/>
<polyline points="65.69,669.81 66.95,669.81 68.22,669.81 69.49,669.81 70.76,669.81 72.03,669.81 73.30,669.81 74.57,669.81 75.84,669.81 77.11,669.81 78.38,669.81 79.65,669.81 80.91,669.81 82.18,669.81 83.45,669.81 84.72,669.81 85.99,669.81 87.26,669.81 88.53,669.81 89.80,669.81 91.07,669.81 92.34,669.81 93.61,669.80 94.87,669.80 96.14,669.79 97.41,669.77 98.68,669.75 99.95,669.72 101.22,669.68 102.49,669.62 103.76,669.53 105.03,669.39 106.30,669.19 107.57,668.90 108.84,668.47 110.10,667.85 111.37,666.94 112.64,665.65 113.91,663.81 115.18,661.26 116.45,657.78 117.72,653.19 118.99,647.40 120.26,640.46 121.53,632.66 122.80,624.50 124.06,616.56 125.33,609.38 126.60,603.30 127.87,598.43 129.14,594.70 130.41,591.94 131.68,589.95 132.95,588.54 134.22,587.55 135.49,586.87 136.76,586.41 138.03,586.08 139.29,585.87 140.56,585.72 141.83,585.61 143.10,585.55 144.37,585.50 145.64,585.47 146.91,585.45 148.18,585.43 149.45,585.42 150.72,585.41 151.99,585.41 153.25,585.41 154.52,585.40 155.79,585.40 157.06,585.40 158.33,585.40 159.60,585.40 160.87,585.40 162.14,585.40 163.41,585.40 164.68,585.40 165.95,585.40 167.22,585.40" fill="none" stroke="#00cc00" stroke-width="0.9"/>
<circle cx="66.40" cy="668.28" r="1.7" fill="#00cc00"/>
<circle cx="76.41" cy="670.72" r="1.7" fill="#00cc00"/>
<circle cx="86.42" cy="671.34" r="1.7" fill="#00cc00"/>
<circle cx="96.43" cy="671.42" r="1.7" fill="#00cc00"/>
<circle cx="106.44" cy="669.98" r="1.7" fill="#00cc00"/>
<line x1="116.45" y1="658.63" x2="116.45" y2="663.77" stroke="#00cc00" stroke-width="0.7"/>
<line x1="115.45" y1="658.63" x2="117.45" y2="658.63" stroke="#00cc00" stroke-width="0.7"/>
<line x1="115.45" y1="663.77" x2="117.45" y2="663.77" stroke="#00cc00" stroke-width="0.7"/>
<circle cx="116.45" cy="661.20" r="1.7" fill="#00cc00"/>
<circle cx="126.46" cy="605.30" r="1.7" fill="#00cc00"/>
<circle cx="136.47" cy="586.50" r="1.7" fill="#00cc00"/>
<circle cx="146.48" cy="585.45" r="1.7" fill="#00cc00"/>
<circle cx="156.49" cy="585.40" r="1.7" fill="#00cc00"/>
<circle cx="166.50" cy="585.40" r="1.7" fill="#00cc00"/>
<polyline points="65.69,665.96 66.95,665.96 68.22,665.96 69.49,665.95 70.76,665.95 72.03,665.95 73.30,665.95 74.57,665.95 75.84,665.95 77.11,665.94 78.38,665.94 79.65,665.93 80.91,665.93 82.18,665.92 83.45,665.91 84.72,665.89 85.99,665.87 87.26,665.85 88.53,665.82 89.80,665.77 91.07,665.72 92.34,665.65 93.61,665.56 94.87,665.45 96.14,665.30 97.41,665.12 98.68,664.88 99.95,664.57 101.22,664.17 102.49,663.66 103.76,663.02 105.03,662.20 106.30,661.18 107.57,659.89 108.84,658.29 110.10,656.33 111.37,653.94 112.64,651.09 113.91,647.74 115.18,643.89 116.45,639.58 117.72,634.86 118.99,629.87 120.26,624.74 121.53,619.64 122.80,614.73 124.06,610.15 125.33,606.00 126.60,602.33 127.87,599.17 129.14,596.49 130.41,594.26 131.68,592.44 132.95,590.96 134.22,589.78 135.49,588.83 136.76,588.08 138.03,587.50 139.29,587.03 140.56,586.67 141.83,586.39 143.10,586.17 144.37,586.00 145.64,585.86 146.91,585.76 148.18,585.68 149.45,585.62 150.72,585.57 151.99,585.53 153.25,585.50 154.52,585.48 155.79,585.46 157.06,585.45 158.33,585.44 159.60,585.43 160.87,585.42 162.14,585.42 163.41,585.41 164.68,585.41 165.95,585.41 167.22,585.41" fill="none" stroke="#b000f0" stroke-width="0.9"/>
<circle cx="66.40" cy="667.83" r="1.7" fill="#b000f0"/>
<line x1="76.41" y1="659.09" x2="76.41" y2="672.80" stroke="#b000f0" stroke-width="0.7"/>
<line x1="75.41" y1="659.09" x2="77.41" y2="659.09" stroke="#b000f0" stroke-width="0.7"/>
<line x1="75.41" y1="672.80" x2="77.41" y2="672.80" stroke="#b000f0" stroke-width="0.7"/>
<circle cx="76.41" cy="665.95" r="1.7" fill="#b000f0"/>
<circle cx="86.42" cy="667.13" r="1.7" fill="#b000f0"/>
<circle cx="96.43" cy="664.49" r="1.7" fill="#b000f0"/>
<circle cx="106.44" cy="661.36" r="1.7" fill="#b000f0"/>
<circle cx="116.45" cy="640.37" r="1.7" fill="#b000f0"/>
<circle cx="126.46" cy="602.35" r="1.7" fill="#b000f0"/>
<circle cx="136.47" cy="588.44" r="1.7" fill="#b000f0"/>
<circle cx="146.48" cy="585.79" r="1.7" fill="#b000f0"/>
<circle cx="156.49" cy="585.45" r="1.7" fill="#b000f0"/>
<circle cx="166.50" cy="585.41" r="1.7" fill="#b000f0"/>
<polyline points="65.69,664.22 66.95,664.22 68.22,664.21 69.49,664.20 70.76,664.19 72.03,664.18 73.30,664.16 74.57,664.14 75.84,664.12 77.11,664.09 78.38,664.05 79.65,664.00 80.91,663.93 82.18,663.86 83.45,663.76 84.72,663.64 85.99,663.49 87.26,663.30 88.53,663.06 89.80,662.77 91.07,662.41 92.34,661.96 93.61,661.40 94.87,660.72 96.14,659.88 97.41,658.85 98.68,657.61 99.95,656.11 101.22,654.32 102.49,652.20 103.76,649.72 105.03,646.87 106.30,643.63 107.57,640.03 108.84,636.11 110.10,631.92 111.37,627.56 112.64,623.14 113.91,618.75 115.18,614.52 116.45,610.53 117.72,606.84 118.99,603.52 120.26,600.57 121.53,598.01 122.80,595.80 124.06,593.94 125.33,592.37 126.60,591.07 127.87,589.99 129.14,589.11 130.41,588.39 131.68,587.81 132.95,587.34 134.22,586.95 135.49,586.65 136.76,586.40 138.03,586.20 139.29,586.04 140.56,585.91 141.83,585.81 143.10,585.73 144.37,585.66 145.64,585.61 146.91,585.57 148.18,585.53 149.45,585.51 150.72,585.49 151.99,585.47 153.25,585.45 154.52,585.44 155.79,585.43 157.06,585.43 158.33,585.42 159.60,585.42 160.87,585.41 162.14,585.41 163.41,585.41 164.68,585.41 165.95,585.41 167.22,585.40" fill="none" stroke="#a00000" stroke-width="0.9"/>
<circle cx="66.40" cy="665.32" r="1.7" fill="#a00000"/>
<circle cx="76.41" cy="663.79" r="1.7" fill="#a00000"/>
<circle cx="86.42" cy="663.32" r="1.7" fill="#a00000"/>
<circle cx="96.43" cy="658.06" r="1.7" fill="#a00000"/>
<line x1="106.44" y1="638.96" x2="106.44" y2="644.10" stroke="#a00000" stroke-width="0.7"/>
<line x1="105.44" y1="638.96" x2="107.44" y2="638.96" stroke="#a00000" stroke-width="0.7"/>
<line x1="105.44" y1="644.10" x2="107.44" y2="644.10" stroke="#a00000" stroke-width="0.7"/>
<circle cx="106.44" cy="641.53" r="1.7" fill="#a00000"/>
<circle cx="116.45" cy="611.43" r="1.7" fill="#a00000"/>
<circle cx="126.46" cy="589.14" r="1.7" fill="#a00000"/>
<circle cx="136.47" cy="586.45" r="1.7" fill="#a00000"/>
<circle cx="146.48" cy="585.58" r="1.7" fill="#a00000"/>
<circle cx="156.49" cy="585.43" r="1.7" fill="#a00000"/>
<circle cx="166.50" cy="585.41" r="1.7" fill="#a00000"/>
<polyline points="65.69,666.80 66.95,666.80 68.22,666.79 69.49,666.79 70.76,666.78 72.03,666.77 73.30,666.76 74.57,666.74 75.84,666.72 77.11,666.70 78.38,666.66 79.65,666.62 80.91,666.57 82.18,666.50 83.45,666.41 84.72,666.30 85.99,666.16 87.26,665.97 88.53,665.74 89.80,665.45 91.07,665.08 92.34,664.61 93.61,664.02 94.87,663.28 96.14,662.35 97.41,661.19 98.68,659.76 99.95,658.01 101.22,655.90 102.49,653.36 103.76,650.38 105.03,646.93 106.30,643.02 107.57,638.69 108.84,634.02 110.10,629.12 111.37,624.14 112.64,619.21 113.91,614.49 115.18,610.08 116.45,606.08 117.72,602.53 118.99,599.44 120.26,596.82 121.53,594.62 122.80,592.79 124.06,591.30 125.33,590.09 126.60,589.12 127.87,588.34 129.14,587.72 130.41,587.23 131.68,586.84 132.95,586.53 134.22,586.29 135.49,586.09 136.76,585.94 138.03,585.83 139.29,585.73 140.56,585.66 141.83,585.60 143.10,585.56 144.37,585.53 145.64,585.50 146.91,585.48 148.18,585.46 149.45,585.45 150.72,585.44 151.99,585.43 153.25,585.42 154.52,585.42 155.79,585.41 157.06,585.41 158.33,585.41 159.60,585.41 160.87,585.41 162.14,585.40 163.41,585.40 164.68,585.40 165.95,585.40 167.22,585.40" fill="none" stroke="#5a0050" stroke-width="0.9"/>
<circle cx="66.40" cy="666.85" r="1.7" fill="#5a0050"/>
<circle cx="76.41" cy="668.69" r="1.7" fill="#5a0050"/>
<circle cx="86.42" cy="665.38" r="1.7" fill="#5a0050"/>
<circle cx="96.43" cy="660.97" r="1.7" fill="#5a0050"/>
<circle cx="106.44" cy="642.24" r="1.7" fill="#5a0050"/>
<circle cx="116.45" cy="604.47" r="1.7" fill="#5a0050"/>
<circle cx="126.46" cy="590.02" r="1.7" fill="#5a0050"/>
<circle cx="136.47" cy="585.97" r="1.7" fill="#5a0050"/>
<circle cx="146.48" cy="585.48" r="1.7" fill="#5a0050"/>
<circle cx="156.49" cy="585.41" r="1.7" fill="#5a0050"/>
<circle cx="166.50" cy="585.40" r="1.7" fill="#5a0050"/>
<polyline points="65.69,662.51 66.95,662.51 68.22,662.50 69.49,662.49 70.76,662.49 72.03,662.47 73.30,662.46 74.57,662.44 75.84,662.41 77.11,662.38 78.38,662.33 79.65,662.28 80.91,662.21 82.18,662.12 83.45,662.01 84.72,661.87 85.99,661.69 87.26,661.45 88.53,661.16 89.80,660.79 91.07,660.32 92.34,659.73 93.61,658.98 94.87,658.06 96.14,656.90 97.41,655.48 98.68,653.75 99.95,651.65 101.22,649.15 102.49,646.22 103.76,642.84 105.03,639.04 106.30,634.85 107.57,630.37 108.84,625.70 110.10,620.97 111.37,616.34 112.64,611.93 113.91,607.84 115.18,604.14 116.45,600.88 117.72,598.07 118.99,595.68 120.26,593.69 121.53,592.04 122.80,590.69 124.06,589.61 125.33,588.73 126.60,588.03 127.87,587.47 129.14,587.03 130.41,586.68 131.68,586.41 132.95,586.19 134.22,586.02 135.49,585.89 136.76,585.78 138.03,585.70 139.29,585.63 140.56,585.58 141.83,585.54 143.10,585.51 144.37,585.49 145.64,585.47 146.91,585.45 148.18,585.44 149.45,585.43 150.72,585.43 151.99,585.42 153.25,585.42 154.52,585.41 155.79,585.41 157.06,585.41 158.33,585.41 159.60,585.40 160.87,585.40 162.14,585.40 163.41,585.40 164.68,585.40 165.95,585.40 167.22,585.40" fill="none" stroke="#005a00" stroke-width="0.9"/>
<circle cx="66.40" cy="661.05" r="1.7" fill="#005a00"/>
<circle cx="76.41" cy="660.49" r="1.7" fill="#005a00"/>
<line x1="86.42" y1="651.76" x2="86.42" y2="656.04" stroke="#005a00" stroke-width="0.7"/>
<line x1="85.42" y1="651.76" x2="87.42" y2="651.76" stroke="#005a00" stroke-width="0.7"/>
<line x1="85.42" y1="656.04" x2="87.42" y2="656.04" stroke="#005a00" stroke-width="0.7"/>
<circle cx="86.42" cy="653.90" r="1.7" fill="#005a00"/>
<circle cx="96.43" cy="655.90" r="1.7" fill="#005a00"/>
<circle cx="106.44" cy="636.24" r="1.7" fill="#005a00"/>
<circle cx="116.45" cy="600.02" r="1.7" fill="#005a00"/>
<circle cx="126.46" cy="587.47" r="1.7" fill="#005a00"/>
<circle cx="136.47" cy="585.80" r="1.7" fill="#005a00"/>
<circle cx="146.48" cy="585.46" r="1.7" fill="#005a00"/>
<circle cx="156.49" cy="585.41" r="1.7" fill="#005a00"/>
<circle cx="166.50" cy="585.40" r="1.7" fill="#005a00"/>
<polyline points="65.69,668.52 66.95,668.52 68.22,668.52 69.49,668.52 70.76,668.52 72.03,668.52 73.30,668.51 74.57,668.51 75.84,668.50 77.11,668.49 78.38,668.48 79.65,668.47 80.91,668.45 82.18,668.43 83.45,668.40 84.72,668.37 85.99,668.32 87.26,668.27 88.53,668.19 89.80,668.10 91.07,667.98 92.34,667.83 93.61,667.64 94.87,667.39 96.14,667.08 97.41,666.69 98.68,666.19 99.95,665.57 101.22,664.78 102.49,663.80 103.76,662.58 105.03,661.07 106.30,659.23 107.57,657.01 108.84,654.35 110.10,651.23 111.37,647.63 112.64,643.57 113.91,639.09 115.18,634.28 116.45,629.26 117.72,624.17 118.99,619.16 120.26,614.38 121.53,609.94 122.80,605.92 124.06,602.37 125.33,599.29 126.60,596.68 127.87,594.50 129.14,592.69 130.41,591.22 131.68,590.02 132.95,589.06 134.22,588.29 135.49,587.68 136.76,587.20 138.03,586.81 139.29,586.51 140.56,586.27 141.83,586.08 143.10,585.94 144.37,585.82 145.64,585.73 146.91,585.66 148.18,585.60 149.45,585.56 150.72,585.52 151.99,585.50 153.25,585.48 154.52,585.46 155.79,585.45 157.06,585.44 158.33,585.43 159.60,585.42 160.87,585.42 162.14,585.41 163.41,585.41 164.68,585.41 165.95,585.41 167.22,585.41" fill="none" stroke="#0000ff" stroke-width="0.9"/>
<circle cx="66.40" cy="667.80" r="1.7" fill="#0000ff"/>
<circle cx="76.41" cy="670.54" r="1.7" fill="#0000ff"/>
<circle cx="86.42" cy="668.47" r="1.7" fill="#0000ff"/>
<line x1="96.43" y1="655.00" x2="96.43" y2="661.86" stroke="#0000ff" stroke-width="0.7"/>
<line x1="95.43" y1="655.00" x2="97.43" y2="655.00" stroke="#0000ff" stroke-width="0.7"/>
<line x1="95.43" y1="661.86" x2="97.43" y2="661.86" stroke="#0000ff" stroke-width="0.7"/>
<circle cx="96.43" cy="658.43" r="1.7" fill="#0000ff"/>
<line x1="106.44" y1="654.72" x2="106.44" y2="659.86" stroke="#0000ff" stroke-width="0.7"/>
<line x1="105.44" y1="654.72" x2="107.44" y2="654.72" stroke="#0000ff" stroke-width="0.7"/>
<line x1="105.44" y1="659.86" x2="107.44" y2="659.86" stroke="#0000ff" stroke-width="0.7"/>
<circle cx="106.44" cy="657.29" r="1.7" fill="#0000ff"/>
<circle cx="116.45" cy="631.15" r="1.7" fill="#0000ff"/>
<circle cx="126.46" cy="595.81" r="1.7" fill="#0000ff"/>
<circle cx="136.47" cy="587.30" r="1.7" fill="#0000ff"/>
<circle cx="146.48" cy="585.68" r="1.7" fill="#0000ff"/>
<circle cx="156.49" cy="585.44" r="1.7" fill="#0000ff"/>
<circle cx="166.50" cy="585.41" r="1.7" fill="#0000ff"/>
<polyline points="358.08,664.00 359.46,664.00 360.84,664.00 362.21,664.00 363.59,663.99 364.97,663.99 366.35,663.99 367.73,663.99 369.11,663.98 370.49,663.97 371.87,663.96 373.25,663.95 374.63,663.93 376.00,663.90 377.38,663.86 378.76,663.81 380.14,663.74 381.52,663.64 382.90,663.50 384.28,663.30 385.66,663.04 387.04,662.67 388.42,662.18 389.79,661.50 391.17,660.60 392.55,659.41 393.93,657.87 395.31,655.90 396.69,653.47 398.07,650.57 399.45,647.25 400.83,643.62 402.21,639.86 403.58,636.16 404.96,632.71 406.34,629.65 407.72,627.04 409.10,624.91 410.48,623.21 411.86,621.90 413.24,620.90 414.62,620.15 416.00,619.59 417.37,619.19 418.75,618.89 420.13,618.67 421.51,618.51 422.89,618.40 424.27,618.31 425.65,618.25 427.03,618.21 428.41,618.18 429.79,618.16 431.16,618.14 432.54,618.13 433.92,618.12 435.30,618.12 436.68,618.11 438.06,618.11 439.44,618.11 440.82,618.10 442.20,618.10 443.58,618.10 444.95,618.10 446.33,618.10 447.71,618.10 449.09,618.10 450.47,618.10 451.85,618.10 453.23,618.10 454.61,618.10 455.99,618.10 457.37,618.10 458.74,618.10 460.12,618.10 461.50,618.10 462.88,618.10 464.26,618.10 465.64,618.10 467.02,618.10 468.40,618.10" fill="none" stroke="#8c5a1c" stroke-width="1.1"/>
<line x1="358.08" y1="662.73" x2="358.08" y2="667.83" stroke="#8c5a1c" stroke-width="0.8"/>
<line x1="356.58" y1="662.73" x2="359.58" y2="662.73" stroke="#8c5a1c" stroke-width="0.8"/>
<line x1="356.58" y1="667.83" x2="359.58" y2="667.83" stroke="#8c5a1c" stroke-width="0.8"/>
<circle cx="358.08" cy="665.28" r="2.0" fill="#8c5a1c"/>
<line x1="365.44" y1="662.76" x2="365.44" y2="665.82" stroke="#8c5a1c" stroke-width="0.8"/>
<line x1="363.94" y1="662.76" x2="366.94" y2="662.76" stroke="#8c5a1c" stroke-width="0.8"/>
<line x1="363.94" y1="665.82" x2="366.94" y2="665.82" stroke="#8c5a1c" stroke-width="0.8"/>
<circle cx="365.44" cy="664.29" r="2.0" fill="#8c5a1c"/>
<line x1="372.80" y1="660.23" x2="372.80" y2="665.33" stroke="#8c5a1c" stroke-width="0.8"/>
<line x1="371.30" y1="660.23" x2="374.30" y2="660.23" stroke="#8c5a1c" stroke-width="0.8"/>
<line x1="371.30" y1="665.33" x2="374.30" y2="665.33" stroke="#8c5a1c" stroke-width="0.8"/>
<circle cx="372.80" cy="662.78" r="2.0" fill="#8c5a1c"/>
<line x1="380.17" y1="661.09" x2="380.17" y2="664.15" stroke="#8c5a1c" stroke-width="0.8"/>
<line x1="378.67" y1="661.09" x2="381.67" y2="661.09" stroke="#8c5a1c" stroke-width="0.8"/>
<line x1="378.67" y1="664.15" x2="381.67" y2="664.15" stroke="#8c5a1c" stroke-width="0.8"/>
<circle cx="380.17" cy="662.62" r="2.0" fill="#8c5a1c"/>
<line x1="387.53" y1="660.35" x2="387.53" y2="663.41" stroke="#8c5a1c" stroke-width="0.8"/>
<line x1="386.03" y1="660.35" x2="389.03" y2="660.35" stroke="#8c5a1c" stroke-width="0.8"/>
<line x1="386.03" y1="663.41" x2="389.03" y2="663.41" stroke="#8c5a1c" stroke-width="0.8"/>
<circle cx="387.53" cy="661.88" r="2.0" fill="#8c5a1c"/>
<line x1="394.89" y1="653.44" x2="394.89" y2="658.54" stroke="#8c5a1c" stroke-width="0.8"/>
<line x1="393.39" y1="653.44" x2="396.39" y2="653.44" stroke="#8c5a1c" stroke-width="0.8"/>
<line x1="393.39" y1="658.54" x2="396.39" y2="658.54" stroke="#8c5a1c" stroke-width="0.8"/>
<circle cx="394.89" cy="655.99" r="2.0" fill="#8c5a1c"/>
<circle cx="402.25" cy="638.33" r="2.0" fill="#8c5a1c"/>
<circle cx="409.62" cy="625.50" r="2.0" fill="#8c5a1c"/>
<line x1="416.98" y1="609.09" x2="416.98" y2="621.33" stroke="#8c5a1c" stroke-width="0.8"/>
<line x1="415.48" y1="609.09" x2="418.48" y2="609.09" stroke="#8c5a1c" stroke-width="0.8"/>
<line x1="415.48" y1="621.33" x2="418.48" y2="621.33" stroke="#8c5a1c" stroke-width="0.8"/>
<circle cx="416.98" cy="615.21" r="2.0" fill="#8c5a1c"/>
<line x1="424.34" y1="616.18" x2="424.34" y2="627.40" stroke="#8c5a1c" stroke-width="0.8"/>
<line x1="422.84" y1="616.18" x2="425.84" y2="616.18" stroke="#8c5a1c" stroke-width="0.8"/>
<line x1="422.84" y1="627.40" x2="425.84" y2="627.40" stroke="#8c5a1c" stroke-width="0.8"/>
<circle cx="424.34" cy="621.79" r="2.0" fill="#8c5a1c"/>
<line x1="431.70" y1="618.14" x2="431.70" y2="626.30" stroke="#8c5a1c" stroke-width="0.8"/>
<line x1="430.20" y1="618.14" x2="433.20" y2="618.14" stroke="#8c5a1c" stroke-width="0.8"/>
<line x1="430.20" y1="626.30" x2="433.20" y2="626.30" stroke="#8c5a1c" stroke-width="0.8"/>
<circle cx="431.70" cy="622.22" r="2.0" fill="#8c5a1c"/>
<line x1="439.07" y1="617.06" x2="439.07" y2="626.24" stroke="#8c5a1c" stroke-width="0.8"/>
<line x1="437.57" y1="617.06" x2="440.57" y2="617.06" stroke="#8c5a1c" stroke-width="0.8"/>
<line x1="437.57" y1="626.24" x2="440.57" y2="626.24" stroke="#8c5a1c" stroke-width="0.8"/>
<circle cx="439.07" cy="621.65" r="2.0" fill="#8c5a1c"/>
<line x1="446.43" y1="612.24" x2="446.43" y2="623.46" stroke="#8c5a1c" stroke-width="0.8"/>
<line x1="444.93" y1="612.24" x2="447.93" y2="612.24" stroke="#8c5a1c" stroke-width="0.8"/>
<line x1="444.93" y1="623.46" x2="447.93" y2="623.46" stroke="#8c5a1c" stroke-width="0.8"/>
<circle cx="446.43" cy="617.85" r="2.0" fill="#8c5a1c"/>
<line x1="453.79" y1="615.08" x2="453.79" y2="620.18" stroke="#8c5a1c" stroke-width="0.8"/>
<line x1="452.29" y1="615.08" x2="455.29" y2="615.08" stroke="#8c5a1c" stroke-width="0.8"/>
<line x1="452.29" y1="620.18" x2="455.29" y2="620.18" stroke="#8c5a1c" stroke-width="0.8"/>
<circle cx="453.79" cy="617.63" r="2.0" fill="#8c5a1c"/>
<line x1="461.16" y1="620.14" x2="461.16" y2="626.26" stroke="#8c5a1c" stroke-width="0.8"/>
<line x1="459.66" y1="620.14" x2="462.66" y2="620.14" stroke="#8c5a1c" stroke-width="0.8"/>
<line x1="459.66" y1="626.26" x2="462.66" y2="626.26" stroke="#8c5a1c" stroke-width="0.8"/>
<circle cx="461.16" cy="623.20" r="2.0" fill="#8c5a1c"/>
<circle cx="468.52" cy="614.89" r="2.0" fill="#8c5a1c"/>
<polyline points="358.08,664.00 359.46,664.00 360.84,664.00 362.21,664.00 363.59,664.00 364.97,664.00 366.35,664.00 367.73,664.00 369.11,664.00 370.49,664.00 371.87,664.00 373.25,664.00 374.63,664.00 376.00,664.00 377.38,664.00 378.76,664.00 380.14,663.99 381.52,663.99 382.90,663.99 384.28,663.98 385.66,663.97 387.04,663.95 388.42,663.93 389.79,663.89 391.17,663.84 392.55,663.76 393.93,663.63 395.31,663.44 396.69,663.15 398.07,662.72 399.45,662.08 400.83,661.13 402.21,659.77 403.58,657.85 404.96,655.23 406.34,651.85 407.72,647.72 409.10,643.04 410.48,638.18 411.86,633.53 413.24,629.46 414.62,626.13 416.00,623.57 417.37,621.70 418.75,620.37 420.13,619.46 421.51,618.83 422.89,618.41 424.27,618.13 425.65,617.95 427.03,617.83 428.41,617.75 429.79,617.69 431.16,617.66 432.54,617.63 433.92,617.62 435.30,617.61 436.68,617.60 438.06,617.60 439.44,617.60 440.82,617.59 442.20,617.59 443.58,617.59 444.95,617.59 446.33,617.59 447.71,617.59 449.09,617.59 450.47,617.59 451.85,617.59 453.23,617.59 454.61,617.59 455.99,617.59 457.37,617.59 458.74,617.59 460.12,617.59 461.50,617.59 462.88,617.59 464.26,617.59 465.64,617.59 467.02,617.59 468.40,617.59" fill="none" stroke="#00bb00" stroke-width="1.1"/>
<line x1="358.08" y1="661.58" x2="358.08" y2="666.68" stroke="#00bb00" stroke-width="0.8"/>
<line x1="356.58" y1="661.58" x2="359.58" y2="661.58" stroke="#00bb00" stroke-width="0.8"/>
<line x1="356.58" y1="666.68" x2="359.58" y2="666.68" stroke="#00bb00" stroke-width="0.8"/>
<circle cx="358.08" cy="664.13" r="2.0" fill="#00bb00"/>
<line x1="365.44" y1="661.76" x2="365.44" y2="666.86" stroke="#00bb00" stroke-width="0.8"/>
<line x1="363.94" y1="661.76" x2="366.94" y2="661.76" stroke="#00bb00" stroke-width="0.8"/>
<line x1="363.94" y1="666.86" x2="366.94" y2="666.86" stroke="#00bb00" stroke-width="0.8"/>
<circle cx="365.44" cy="664.31" r="2.0" fill="#00bb00"/>
<line x1="372.80" y1="662.66" x2="372.80" y2="667.76" stroke="#00bb00" stroke-width="0.8"/>
<line x1="371.30" y1="662.66" x2="374.30" y2="662.66" stroke="#00bb00" stroke-width="0.8"/>
<line x1="371.30" y1="667.76" x2="374.30" y2="667.76" stroke="#00bb00" stroke-width="0.8"/>
<circle cx="372.80" cy="665.21" r="2.0" fill="#00bb00"/>
<circle cx="380.17" cy="665.33" r="2.0" fill="#00bb00"/>
<line x1="387.53" y1="659.91" x2="387.53" y2="665.01" stroke="#00bb00" stroke-width="0.8"/>
<line x1="386.03" y1="659.91" x2="389.03" y2="659.91" stroke="#00bb00" stroke-width="0.8"/>
<line x1="386.03" y1="665.01" x2="389.03" y2="665.01" stroke="#00bb00" stroke-width="0.8"/>
<circle cx="387.53" cy="662.46" r="2.0" fill="#00bb00"/>
<line x1="394.89" y1="663.01" x2="394.89" y2="666.07" stroke="#00bb00" stroke-width="0.8"/>
<line x1="393.39" y1="663.01" x2="396.39" y2="663.01" stroke="#00bb00" stroke-width="0.8"/>
<line x1="393.39" y1="666.07" x2="396.39" y2="666.07" stroke="#00bb00" stroke-width="0.8"/>
<circle cx="394.89" cy="664.54" r="2.0" fill="#00bb00"/>
<circle cx="402.25" cy="659.40" r="2.0" fill="#00bb00"/>
<circle cx="409.62" cy="642.75" r="2.0" fill="#00bb00"/>
<line x1="416.98" y1="620.53" x2="416.98" y2="623.59" stroke="#00bb00" stroke-width="0.8"/>
<line x1="415.48" y1="620.53" x2="418.48" y2="620.53" stroke="#00bb00" stroke-width="0.8"/>
<line x1="415.48" y1="623.59" x2="418.48" y2="623.59" stroke="#00bb00" stroke-width="0.8"/>
<circle cx="416.98" cy="622.06" r="2.0" fill="#00bb00"/>
<circle cx="424.34" cy="617.31" r="2.0" fill="#00bb00"/>
<line x1="431.70" y1="609.36" x2="431.70" y2="620.58" stroke="#00bb00" stroke-width="0.8"/>
<line x1="430.20" y1="609.36" x2="433.20" y2="609.36" stroke="#00bb00" stroke-width="0.8"/>
<line x1="430.20" y1="620.58" x2="433.20" y2="620.58" stroke="#00bb00" stroke-width="0.8"/>
<circle cx="431.70" cy="614.97" r="2.0" fill="#00bb00"/>
<line x1="439.07" y1="614.91" x2="439.07" y2="622.05" stroke="#00bb00" stroke-width="0.8"/>
<line x1="437.57" y1="614.91" x2="440.57" y2="614.91" stroke="#00bb00" stroke-width="0.8"/>
<line x1="437.57" y1="622.05" x2="440.57" y2="622.05" stroke="#00bb00" stroke-width="0.8"/>
<circle cx="439.07" cy="618.48" r="2.0" fill="#00bb00"/>
<line x1="446.43" y1="608.73" x2="446.43" y2="619.95" stroke="#00bb00" stroke-width="0.8"/>
<line x1="444.93" y1="608.73" x2="447.93" y2="608.73" stroke="#00bb00" stroke-width="0.8"/>
<line x1="444.93" y1="619.95" x2="447.93" y2="619.95" stroke="#00bb00" stroke-width="0.8"/>
<circle cx="446.43" cy="614.34" r="2.0" fill="#00bb00"/>
<circle cx="453.79" cy="618.56" r="2.0" fill="#00bb00"/>
<line x1="461.16" y1="615.75" x2="461.16" y2="624.93" stroke="#00bb00" stroke-width="0.8"/>
<line x1="459.66" y1="615.75" x2="462.66" y2="615.75" stroke="#00bb00" stroke-width="0.8"/>
<line x1="459.66" y1="624.93" x2="462.66" y2="624.93" stroke="#00bb00" stroke-width="0.8"/>
<circle cx="461.16" cy="620.34" r="2.0" fill="#00bb00"/>
<line x1="468.52" y1="609.48" x2="468.52" y2="618.66" stroke="#00bb00" stroke-width="0.8"/>
<line x1="467.02" y1="609.48" x2="470.02" y2="609.48" stroke="#00bb00" stroke-width="0.8"/>
<line x1="467.02" y1="618.66" x2="470.02" y2="618.66" stroke="#00bb00" stroke-width="0.8"/>
<circle cx="468.52" cy="614.07" r="2.0" fill="#00bb00"/>
<polyline points="358.08,661.81 359.46,661.78 360.84,661.74 362.21,661.70 363.59,661.66 364.97,661.60 366.35,661.53 367.73,661.45 369.11,661.36 370.49,661.25 371.87,661.12 373.25,660.97 374.63,660.79 376.00,660.58 377.38,660.33 378.76,660.04 380.14,659.69 381.52,659.30 382.90,658.83 384.28,658.30 385.66,657.67 387.04,656.96 388.42,656.14 389.79,655.21 391.17,654.17 392.55,652.99 393.93,651.68 395.31,650.25 396.69,648.68 398.07,646.99 399.45,645.20 400.83,643.32 402.21,641.36 403.58,639.37 404.96,637.37 406.34,635.38 407.72,633.44 409.10,631.56 410.48,629.78 411.86,628.11 413.24,626.56 414.62,625.14 416.00,623.85 417.37,622.69 418.75,621.66 420.13,620.74 421.51,619.94 422.89,619.24 424.27,618.63 425.65,618.10 427.03,617.65 428.41,617.26 429.79,616.92 431.16,616.64 432.54,616.39 433.92,616.19 435.30,616.01 436.68,615.86 438.06,615.73 439.44,615.63 440.82,615.53 442.20,615.46 443.58,615.39 444.95,615.34 446.33,615.29 447.71,615.25 449.09,615.22 450.47,615.19 451.85,615.17 453.23,615.15 454.61,615.13 455.99,615.12 457.37,615.10 458.74,615.09 460.12,615.09 461.50,615.08 462.88,615.07 464.26,615.07 465.64,615.06 467.02,615.06 468.40,615.06" fill="none" stroke="#000000" stroke-width="1.1"/>
<line x1="358.08" y1="660.34" x2="358.08" y2="663.40" stroke="#000000" stroke-width="0.8"/>
<line x1="356.58" y1="660.34" x2="359.58" y2="660.34" stroke="#000000" stroke-width="0.8"/>
<line x1="356.58" y1="663.40" x2="359.58" y2="663.40" stroke="#000000" stroke-width="0.8"/>
<circle cx="358.08" cy="661.87" r="2.0" fill="#000000"/>
<circle cx="365.44" cy="662.85" r="2.0" fill="#000000"/>
<line x1="372.80" y1="658.73" x2="372.80" y2="661.79" stroke="#000000" stroke-width="0.8"/>
<line x1="371.30" y1="658.73" x2="374.30" y2="658.73" stroke="#000000" stroke-width="0.8"/>
<line x1="371.30" y1="661.79" x2="374.30" y2="661.79" stroke="#000000" stroke-width="0.8"/>
<circle cx="372.80" cy="660.26" r="2.0" fill="#000000"/>
<circle cx="380.17" cy="659.75" r="2.0" fill="#000000"/>
<line x1="387.53" y1="646.48" x2="387.53" y2="666.88" stroke="#000000" stroke-width="0.8"/>
<line x1="386.03" y1="646.48" x2="389.03" y2="646.48" stroke="#000000" stroke-width="0.8"/>
<line x1="386.03" y1="666.88" x2="389.03" y2="666.88" stroke="#000000" stroke-width="0.8"/>
<circle cx="387.53" cy="656.68" r="2.0" fill="#000000"/>
<line x1="394.89" y1="647.79" x2="394.89" y2="650.85" stroke="#000000" stroke-width="0.8"/>
<line x1="393.39" y1="647.79" x2="396.39" y2="647.79" stroke="#000000" stroke-width="0.8"/>
<line x1="393.39" y1="650.85" x2="396.39" y2="650.85" stroke="#000000" stroke-width="0.8"/>
<circle cx="394.89" cy="649.32" r="2.0" fill="#000000"/>
<line x1="402.25" y1="637.22" x2="402.25" y2="642.32" stroke="#000000" stroke-width="0.8"/>
<line x1="400.75" y1="637.22" x2="403.75" y2="637.22" stroke="#000000" stroke-width="0.8"/>
<line x1="400.75" y1="642.32" x2="403.75" y2="642.32" stroke="#000000" stroke-width="0.8"/>
<circle cx="402.25" cy="639.77" r="2.0" fill="#000000"/>
<line x1="409.62" y1="628.57" x2="409.62" y2="631.63" stroke="#000000" stroke-width="0.8"/>
<line x1="408.12" y1="628.57" x2="411.12" y2="628.57" stroke="#000000" stroke-width="0.8"/>
<line x1="408.12" y1="631.63" x2="411.12" y2="631.63" stroke="#000000" stroke-width="0.8"/>
<circle cx="409.62" cy="630.10" r="2.0" fill="#000000"/>
<circle cx="416.98" cy="621.55" r="2.0" fill="#000000"/>
<line x1="424.34" y1="613.63" x2="424.34" y2="620.77" stroke="#000000" stroke-width="0.8"/>
<line x1="422.84" y1="613.63" x2="425.84" y2="613.63" stroke="#000000" stroke-width="0.8"/>
<line x1="422.84" y1="620.77" x2="425.84" y2="620.77" stroke="#000000" stroke-width="0.8"/>
<circle cx="424.34" cy="617.20" r="2.0" fill="#000000"/>
<line x1="431.70" y1="613.86" x2="431.70" y2="618.96" stroke="#000000" stroke-width="0.8"/>
<line x1="430.20" y1="613.86" x2="433.20" y2="613.86" stroke="#000000" stroke-width="0.8"/>
<line x1="430.20" y1="618.96" x2="433.20" y2="618.96" stroke="#000000" stroke-width="0.8"/>
<circle cx="431.70" cy="616.41" r="2.0" fill="#000000"/>
<line x1="439.07" y1="614.13" x2="439.07" y2="619.23" stroke="#000000" stroke-width="0.8"/>
<line x1="437.57" y1="614.13" x2="440.57" y2="614.13" stroke="#000000" stroke-width="0.8"/>
<line x1="437.57" y1="619.23" x2="440.57" y2="619.23" stroke="#000000" stroke-width="0.8"/>
<circle cx="439.07" cy="616.68" r="2.0" fill="#000000"/>
<line x1="446.43" y1="609.45" x2="446.43" y2="620.67" stroke="#000000" stroke-width="0.8"/>
<line x1="444.93" y1="609.45" x2="447.93" y2="609.45" stroke="#000000" stroke-width="0.8"/>
<line x1="444.93" y1="620.67" x2="447.93" y2="620.67" stroke="#000000" stroke-width="0.8"/>
<circle cx="446.43" cy="615.06" r="2.0" fill="#000000"/>
<line x1="453.79" y1="613.81" x2="453.79" y2="618.91" stroke="#000000" stroke-width="0.8"/>
<line x1="452.29" y1="613.81" x2="455.29" y2="613.81" stroke="#000000" stroke-width="0.8"/>
<line x1="452.29" y1="618.91" x2="455.29" y2="618.91" stroke="#000000" stroke-width="0.8"/>
<circle cx="453.79" cy="616.36" r="2.0" fill="#000000"/>
<line x1="461.16" y1="608.45" x2="461.16" y2="616.61" stroke="#000000" stroke-width="0.8"/>
<line x1="459.66" y1="608.45" x2="462.66" y2="608.45" stroke="#000000" stroke-width="0.8"/>
<line x1="459.66" y1="616.61" x2="462.66" y2="616.61" stroke="#000000" stroke-width="0.8"/>
<circle cx="461.16" cy="612.53" r="2.0" fill="#000000"/>
<line x1="468.52" y1="608.28" x2="468.52" y2="617.46" stroke="#000000" stroke-width="0.8"/>
<line x1="467.02" y1="608.28" x2="470.02" y2="608.28" stroke="#000000" stroke-width="0.8"/>
<line x1="467.02" y1="617.46" x2="470.02" y2="617.46" stroke="#000000" stroke-width="0.8"/>
<circle cx="468.52" cy="612.87" r="2.0" fill="#000000"/>
<polyline points="358.08,664.00 359.46,664.00 360.84,664.00 362.21,664.00 363.59,664.00 364.97,664.00 366.35,664.00 367.73,664.00 369.11,664.00 370.49,664.00 371.87,664.00 373.25,664.00 374.63,663.99 376.00,663.99 377.38,663.98 378.76,663.98 380.14,663.96 381.52,663.94 382.90,663.91 384.28,663.87 385.66,663.80 387.04,663.70 388.42,663.54 389.79,663.30 391.17,662.95 392.55,662.41 393.93,661.63 395.31,660.48 396.69,658.84 398.07,656.58 399.45,653.58 400.83,649.81 402.21,645.39 403.58,640.62 404.96,635.88 406.34,631.56 407.72,627.93 409.10,625.06 410.48,622.92 411.86,621.38 413.24,620.31 414.62,619.58 416.00,619.08 417.37,618.75 418.75,618.53 420.13,618.38 421.51,618.29 422.89,618.22 424.27,618.18 425.65,618.15 427.03,618.13 428.41,618.12 429.79,618.11 431.16,618.11 432.54,618.11 433.92,618.10 435.30,618.10 436.68,618.10 438.06,618.10 439.44,618.10 440.82,618.10 442.20,618.10 443.58,618.10 444.95,618.10 446.33,618.10 447.71,618.10 449.09,618.10 450.47,618.10 451.85,618.10 453.23,618.10 454.61,618.10 455.99,618.10 457.37,618.10 458.74,618.10 460.12,618.10 461.50,618.10 462.88,618.10 464.26,618.10 465.64,618.10 467.02,618.10 468.40,618.10" fill="none" stroke="#b000f0" stroke-width="1.1"/>
<circle cx="358.08" cy="663.27" r="2.0" fill="#b000f0"/>
<line x1="365.44" y1="662.37" x2="365.44" y2="667.47" stroke="#b000f0" stroke-width="0.8"/>
<line x1="363.94" y1="662.37" x2="366.94" y2="662.37" stroke="#b000f0" stroke-width="0.8"/>
<line x1="363.94" y1="667.47" x2="366.94" y2="667.47" stroke="#b000f0" stroke-width="0.8"/>
<circle cx="365.44" cy="664.92" r="2.0" fill="#b000f0"/>
<circle cx="372.80" cy="664.44" r="2.0" fill="#b000f0"/>
<line x1="380.17" y1="660.93" x2="380.17" y2="663.99" stroke="#b000f0" stroke-width="0.8"/>
<line x1="378.67" y1="660.93" x2="381.67" y2="660.93" stroke="#b000f0" stroke-width="0.8"/>
<line x1="378.67" y1="663.99" x2="381.67" y2="663.99" stroke="#b000f0" stroke-width="0.8"/>
<circle cx="380.17" cy="662.46" r="2.0" fill="#b000f0"/>
<circle cx="387.53" cy="663.73" r="2.0" fill="#b000f0"/>
<line x1="394.89" y1="654.75" x2="394.89" y2="660.87" stroke="#b000f0" stroke-width="0.8"/>
<line x1="393.39" y1="654.75" x2="396.39" y2="654.75" stroke="#b000f0" stroke-width="0.8"/>
<line x1="393.39" y1="660.87" x2="396.39" y2="660.87" stroke="#b000f0" stroke-width="0.8"/>
<circle cx="394.89" cy="657.81" r="2.0" fill="#b000f0"/>
<line x1="402.25" y1="643.70" x2="402.25" y2="651.86" stroke="#b000f0" stroke-width="0.8"/>
<line x1="400.75" y1="643.70" x2="403.75" y2="643.70" stroke="#b000f0" stroke-width="0.8"/>
<line x1="400.75" y1="651.86" x2="403.75" y2="651.86" stroke="#b000f0" stroke-width="0.8"/>
<circle cx="402.25" cy="647.78" r="2.0" fill="#b000f0"/>
<line x1="409.62" y1="621.26" x2="409.62" y2="624.32" stroke="#b000f0" stroke-width="0.8"/>
<line x1="408.12" y1="621.26" x2="411.12" y2="621.26" stroke="#b000f0" stroke-width="0.8"/>
<line x1="408.12" y1="624.32" x2="411.12" y2="624.32" stroke="#b000f0" stroke-width="0.8"/>
<circle cx="409.62" cy="622.79" r="2.0" fill="#b000f0"/>
<circle cx="416.98" cy="620.11" r="2.0" fill="#b000f0"/>
<line x1="424.34" y1="617.58" x2="424.34" y2="622.68" stroke="#b000f0" stroke-width="0.8"/>
<line x1="422.84" y1="617.58" x2="425.84" y2="617.58" stroke="#b000f0" stroke-width="0.8"/>
<line x1="422.84" y1="622.68" x2="425.84" y2="622.68" stroke="#b000f0" stroke-width="0.8"/>
<circle cx="424.34" cy="620.13" r="2.0" fill="#b000f0"/>
<line x1="431.70" y1="614.68" x2="431.70" y2="623.86" stroke="#b000f0" stroke-width="0.8"/>
<line x1="430.20" y1="614.68" x2="433.20" y2="614.68" stroke="#b000f0" stroke-width="0.8"/>
<line x1="430.20" y1="623.86" x2="433.20" y2="623.86" stroke="#b000f0" stroke-width="0.8"/>
<circle cx="431.70" cy="619.27" r="2.0" fill="#b000f0"/>
<line x1="439.07" y1="611.61" x2="439.07" y2="622.83" stroke="#b000f0" stroke-width="0.8"/>
<line x1="437.57" y1="611.61" x2="440.57" y2="611.61" stroke="#b000f0" stroke-width="0.8"/>
<line x1="437.57" y1="622.83" x2="440.57" y2="622.83" stroke="#b000f0" stroke-width="0.8"/>
<circle cx="439.07" cy="617.22" r="2.0" fill="#b000f0"/>
<line x1="446.43" y1="611.08" x2="446.43" y2="620.26" stroke="#b000f0" stroke-width="0.8"/>
<line x1="444.93" y1="611.08" x2="447.93" y2="611.08" stroke="#b000f0" stroke-width="0.8"/>
<line x1="444.93" y1="620.26" x2="447.93" y2="620.26" stroke="#b000f0" stroke-width="0.8"/>
<circle cx="446.43" cy="615.67" r="2.0" fill="#b000f0"/>
<line x1="453.79" y1="611.61" x2="453.79" y2="618.75" stroke="#b000f0" stroke-width="0.8"/>
<line x1="452.29" y1="611.61" x2="455.29" y2="611.61" stroke="#b000f0" stroke-width="0.8"/>
<line x1="452.29" y1="618.75" x2="455.29" y2="618.75" stroke="#b000f0" stroke-width="0.8"/>
<circle cx="453.79" cy="615.18" r="2.0" fill="#b000f0"/>
<circle cx="461.16" cy="615.96" r="2.0" fill="#b000f0"/>
<circle cx="468.52" cy="615.71" r="2.0" fill="#b000f0"/>
<polyline points="358.08,664.00 359.46,664.00 360.84,664.00 362.21,664.00 363.59,664.00 364.97,664.00 366.35,664.00 367.73,664.00 369.11,664.00 370.49,664.00 371.87,664.00 373.25,664.00 374.63,664.00 376.00,664.00 377.38,664.00 378.76,664.00 380.14,664.00 381.52,664.00 382.90,664.00 384.28,664.00 385.66,664.00 387.04,664.00 388.42,664.00 389.79,664.00 391.17,664.00 392.55,664.00 393.93,664.00 395.31,664.00 396.69,664.00 398.07,664.00 399.45,663.99 400.83,663.99 402.21,663.98 403.58,663.97 404.96,663.94 406.34,663.90 407.72,663.82 409.10,663.67 410.48,663.41 411.86,662.94 413.24,662.12 414.62,660.71 416.00,658.39 417.37,654.79 418.75,649.71 420.13,643.46 421.51,636.89 422.89,631.07 424.27,626.62 425.65,623.61 427.03,621.72 428.41,620.60 429.79,619.95 431.16,619.58 432.54,619.38 433.92,619.26 435.30,619.20 436.68,619.16 438.06,619.14 439.44,619.13 440.82,619.13 442.20,619.12 443.58,619.12 444.95,619.12 446.33,619.12 447.71,619.12 449.09,619.12 450.47,619.12 451.85,619.12 453.23,619.12 454.61,619.12 455.99,619.12 457.37,619.12 458.74,619.12 460.12,619.12 461.50,619.12 462.88,619.12 464.26,619.12 465.64,619.12 467.02,619.12 468.40,619.12" fill="none" stroke="#ff8000" stroke-width="1.1"/>
<circle cx="358.08" cy="662.75" r="2.0" fill="#ff8000"/>
<circle cx="365.44" cy="664.07" r="2.0" fill="#ff8000"/>
<line x1="372.80" y1="662.67" x2="372.80" y2="665.73" stroke="#ff8000" stroke-width="0.8"/>
<line x1="371.30" y1="662.67" x2="374.30" y2="662.67" stroke="#ff8000" stroke-width="0.8"/>
<line x1="371.30" y1="665.73" x2="374.30" y2="665.73" stroke="#ff8000" stroke-width="0.8"/>
<circle cx="372.80" cy="664.20" r="2.0" fill="#ff8000"/>
<line x1="380.17" y1="662.71" x2="380.17" y2="667.81" stroke="#ff8000" stroke-width="0.8"/>
<line x1="378.67" y1="662.71" x2="381.67" y2="662.71" stroke="#ff8000" stroke-width="0.8"/>
<line x1="378.67" y1="667.81" x2="381.67" y2="667.81" stroke="#ff8000" stroke-width="0.8"/>
<circle cx="380.17" cy="665.26" r="2.0" fill="#ff8000"/>
<circle cx="387.53" cy="664.11" r="2.0" fill="#ff8000"/>
<circle cx="394.89" cy="663.31" r="2.0" fill="#ff8000"/>
<circle cx="402.25" cy="662.47" r="2.0" fill="#ff8000"/>
<line x1="409.62" y1="662.11" x2="409.62" y2="667.21" stroke="#ff8000" stroke-width="0.8"/>
<line x1="408.12" y1="662.11" x2="411.12" y2="662.11" stroke="#ff8000" stroke-width="0.8"/>
<line x1="408.12" y1="667.21" x2="411.12" y2="667.21" stroke="#ff8000" stroke-width="0.8"/>
<circle cx="409.62" cy="664.66" r="2.0" fill="#ff8000"/>
<line x1="416.98" y1="651.38" x2="416.98" y2="663.62" stroke="#ff8000" stroke-width="0.8"/>
<line x1="415.48" y1="651.38" x2="418.48" y2="651.38" stroke="#ff8000" stroke-width="0.8"/>
<line x1="415.48" y1="663.62" x2="418.48" y2="663.62" stroke="#ff8000" stroke-width="0.8"/>
<circle cx="416.98" cy="657.50" r="2.0" fill="#ff8000"/>
<line x1="424.34" y1="621.33" x2="424.34" y2="631.53" stroke="#ff8000" stroke-width="0.8"/>
<line x1="422.84" y1="621.33" x2="425.84" y2="621.33" stroke="#ff8000" stroke-width="0.8"/>
<line x1="422.84" y1="631.53" x2="425.84" y2="631.53" stroke="#ff8000" stroke-width="0.8"/>
<circle cx="424.34" cy="626.43" r="2.0" fill="#ff8000"/>
<line x1="431.70" y1="612.49" x2="431.70" y2="619.63" stroke="#ff8000" stroke-width="0.8"/>
<line x1="430.20" y1="612.49" x2="433.20" y2="612.49" stroke="#ff8000" stroke-width="0.8"/>
<line x1="430.20" y1="619.63" x2="433.20" y2="619.63" stroke="#ff8000" stroke-width="0.8"/>
<circle cx="431.70" cy="616.06" r="2.0" fill="#ff8000"/>
<line x1="439.07" y1="615.98" x2="439.07" y2="627.20" stroke="#ff8000" stroke-width="0.8"/>
<line x1="437.57" y1="615.98" x2="440.57" y2="615.98" stroke="#ff8000" stroke-width="0.8"/>
<line x1="437.57" y1="627.20" x2="440.57" y2="627.20" stroke="#ff8000" stroke-width="0.8"/>
<circle cx="439.07" cy="621.59" r="2.0" fill="#ff8000"/>
<circle cx="446.43" cy="621.76" r="2.0" fill="#ff8000"/>
<circle cx="453.79" cy="616.98" r="2.0" fill="#ff8000"/>
<line x1="461.16" y1="616.38" x2="461.16" y2="621.48" stroke="#ff8000" stroke-width="0.8"/>
<line x1="459.66" y1="616.38" x2="462.66" y2="616.38" stroke="#ff8000" stroke-width="0.8"/>
<line x1="459.66" y1="621.48" x2="462.66" y2="621.48" stroke="#ff8000" stroke-width="0.8"/>
<circle cx="461.16" cy="618.93" r="2.0" fill="#ff8000"/>
<line x1="468.52" y1="617.04" x2="468.52" y2="622.14" stroke="#ff8000" stroke-width="0.8"/>
<line x1="467.02" y1="617.04" x2="470.02" y2="617.04" stroke="#ff8000" stroke-width="0.8"/>
<line x1="467.02" y1="622.14" x2="470.02" y2="622.14" stroke="#ff8000" stroke-width="0.8"/>
<circle cx="468.52" cy="619.59" r="2.0" fill="#ff8000"/>
<polyline points="358.08,664.00 359.46,664.00 360.84,664.00 362.21,664.00 363.59,664.00 364.97,664.00 366.35,664.00 367.73,664.00 369.11,664.00 370.49,664.00 371.87,664.00 373.25,664.00 374.63,664.00 376.00,664.00 377.38,664.00 378.76,663.99 380.14,663.99 381.52,663.99 382.90,663.98 384.28,663.97 385.66,663.96 387.04,663.94 388.42,663.91 389.79,663.86 391.17,663.80 392.55,663.70 393.93,663.56 395.31,663.35 396.69,663.04 398.07,662.59 399.45,661.94 400.83,661.01 402.21,659.70 403.58,657.89 404.96,655.47 406.34,652.37 407.72,648.59 409.10,644.27 410.48,639.67 411.86,635.14 413.24,631.00 414.62,627.46 416.00,624.62 417.37,622.44 418.75,620.84 420.13,619.68 421.51,618.86 422.89,618.30 424.27,617.91 425.65,617.64 427.03,617.46 428.41,617.34 429.79,617.25 431.16,617.20 432.54,617.16 433.92,617.13 435.30,617.12 436.68,617.10 438.06,617.10 439.44,617.09 440.82,617.09 442.20,617.08 443.58,617.08 444.95,617.08 446.33,617.08 447.71,617.08 449.09,617.08 450.47,617.08 451.85,617.08 453.23,617.08 454.61,617.08 455.99,617.08 457.37,617.08 458.74,617.08 460.12,617.08 461.50,617.08 462.88,617.08 464.26,617.08 465.64,617.08 467.02,617.08 468.40,617.08" fill="none" stroke="#ff0000" stroke-width="1.1"/>
<circle cx="358.08" cy="663.00" r="2.0" fill="#ff0000"/>
<circle cx="365.44" cy="665.44" r="2.0" fill="#ff0000"/>
<circle cx="372.80" cy="664.63" r="2.0" fill="#ff0000"/>
<line x1="380.17" y1="661.65" x2="380.17" y2="664.71" stroke="#ff0000" stroke-width="0.8"/>
<line x1="378.67" y1="661.65" x2="381.67" y2="661.65" stroke="#ff0000" stroke-width="0.8"/>
<line x1="378.67" y1="664.71" x2="381.67" y2="664.71" stroke="#ff0000" stroke-width="0.8"/>
<circle cx="380.17" cy="663.18" r="2.0" fill="#ff0000"/>
<line x1="387.53" y1="662.12" x2="387.53" y2="667.22" stroke="#ff0000" stroke-width="0.8"/>
<line x1="386.03" y1="662.12" x2="389.03" y2="662.12" stroke="#ff0000" stroke-width="0.8"/>
<line x1="386.03" y1="667.22" x2="389.03" y2="667.22" stroke="#ff0000" stroke-width="0.8"/>
<circle cx="387.53" cy="664.67" r="2.0" fill="#ff0000"/>
<circle cx="394.89" cy="662.40" r="2.0" fill="#ff0000"/>
<line x1="402.25" y1="656.86" x2="402.25" y2="659.92" stroke="#ff0000" stroke-width="0.8"/>
<line x1="400.75" y1="656.86" x2="403.75" y2="656.86" stroke="#ff0000" stroke-width="0.8"/>
<line x1="400.75" y1="659.92" x2="403.75" y2="659.92" stroke="#ff0000" stroke-width="0.8"/>
<circle cx="402.25" cy="658.39" r="2.0" fill="#ff0000"/>
<line x1="409.62" y1="638.79" x2="409.62" y2="643.89" stroke="#ff0000" stroke-width="0.8"/>
<line x1="408.12" y1="638.79" x2="411.12" y2="638.79" stroke="#ff0000" stroke-width="0.8"/>
<line x1="408.12" y1="643.89" x2="411.12" y2="643.89" stroke="#ff0000" stroke-width="0.8"/>
<circle cx="409.62" cy="641.34" r="2.0" fill="#ff0000"/>
<circle cx="416.98" cy="622.00" r="2.0" fill="#ff0000"/>
<line x1="424.34" y1="610.75" x2="424.34" y2="616.87" stroke="#ff0000" stroke-width="0.8"/>
<line x1="422.84" y1="610.75" x2="425.84" y2="610.75" stroke="#ff0000" stroke-width="0.8"/>
<line x1="422.84" y1="616.87" x2="425.84" y2="616.87" stroke="#ff0000" stroke-width="0.8"/>
<circle cx="424.34" cy="613.81" r="2.0" fill="#ff0000"/>
<line x1="431.70" y1="609.02" x2="431.70" y2="615.14" stroke="#ff0000" stroke-width="0.8"/>
<line x1="430.20" y1="609.02" x2="433.20" y2="609.02" stroke="#ff0000" stroke-width="0.8"/>
<line x1="430.20" y1="615.14" x2="433.20" y2="615.14" stroke="#ff0000" stroke-width="0.8"/>
<circle cx="431.70" cy="612.08" r="2.0" fill="#ff0000"/>
<line x1="439.07" y1="609.51" x2="439.07" y2="620.73" stroke="#ff0000" stroke-width="0.8"/>
<line x1="437.57" y1="609.51" x2="440.57" y2="609.51" stroke="#ff0000" stroke-width="0.8"/>
<line x1="437.57" y1="620.73" x2="440.57" y2="620.73" stroke="#ff0000" stroke-width="0.8"/>
<circle cx="439.07" cy="615.12" r="2.0" fill="#ff0000"/>
<line x1="446.43" y1="618.07" x2="446.43" y2="623.17" stroke="#ff0000" stroke-width="0.8"/>
<line x1="444.93" y1="618.07" x2="447.93" y2="618.07" stroke="#ff0000" stroke-width="0.8"/>
<line x1="444.93" y1="623.17" x2="447.93" y2="623.17" stroke="#ff0000" stroke-width="0.8"/>
<circle cx="446.43" cy="620.62" r="2.0" fill="#ff0000"/>
<line x1="453.79" y1="614.83" x2="453.79" y2="624.01" stroke="#ff0000" stroke-width="0.8"/>
<line x1="452.29" y1="614.83" x2="455.29" y2="614.83" stroke="#ff0000" stroke-width="0.8"/>
<line x1="452.29" y1="624.01" x2="455.29" y2="624.01" stroke="#ff0000" stroke-width="0.8"/>
<circle cx="453.79" cy="619.42" r="2.0" fill="#ff0000"/>
<circle cx="461.16" cy="616.23" r="2.0" fill="#ff0000"/>
<line x1="468.52" y1="613.11" x2="468.52" y2="620.25" stroke="#ff0000" stroke-width="0.8"/>
<line x1="467.02" y1="613.11" x2="470.02" y2="613.11" stroke="#ff0000" stroke-width="0.8"/>
<line x1="467.02" y1="620.25" x2="470.02" y2="620.25" stroke="#ff0000" stroke-width="0.8"/>
<circle cx="468.52" cy="616.68" r="2.0" fill="#ff0000"/>
<polyline points="358.08,664.00 359.46,664.00 360.84,664.00 362.21,663.99 363.59,663.99 364.97,663.98 366.35,663.97 367.73,663.95 369.11,663.92 370.49,663.88 371.87,663.81 373.25,663.69 374.63,663.50 376.00,663.21 377.38,662.74 378.76,662.01 380.14,660.88 381.52,659.19 382.90,656.74 384.28,653.37 385.66,649.03 387.04,643.92 388.42,638.52 389.79,633.38 391.17,628.98 392.55,625.54 393.93,623.04 395.31,621.30 396.69,620.15 398.07,619.40 399.45,618.92 400.83,618.61 402.21,618.42 403.58,618.30 404.96,618.22 406.34,618.18 407.72,618.15 409.10,618.13 410.48,618.12 411.86,618.11 413.24,618.11 414.62,618.10 416.00,618.10 417.37,618.10 418.75,618.10 420.13,618.10 421.51,618.10 422.89,618.10 424.27,618.10 425.65,618.10 427.03,618.10 428.41,618.10 429.79,618.10 431.16,618.10 432.54,618.10 433.92,618.10 435.30,618.10 436.68,618.10 438.06,618.10 439.44,618.10 440.82,618.10 442.20,618.10 443.58,618.10 444.95,618.10 446.33,618.10 447.71,618.10 449.09,618.10 450.47,618.10 451.85,618.10 453.23,618.10 454.61,618.10 455.99,618.10 457.37,618.10 458.74,618.10 460.12,618.10 461.50,618.10 462.88,618.10 464.26,618.10 465.64,618.10 467.02,618.10 468.40,618.10" fill="none" stroke="#0000ff" stroke-width="1.1"/>
<line x1="358.08" y1="660.89" x2="358.08" y2="665.99" stroke="#0000ff" stroke-width="0.8"/>
<line x1="356.58" y1="660.89" x2="359.58" y2="660.89" stroke="#0000ff" stroke-width="0.8"/>
<line x1="356.58" y1="665.99" x2="359.58" y2="665.99" stroke="#0000ff" stroke-width="0.8"/>
<circle cx="358.08" cy="663.44" r="2.0" fill="#0000ff"/>
<circle cx="365.44" cy="663.11" r="2.0" fill="#0000ff"/>
<circle cx="372.80" cy="662.56" r="2.0" fill="#0000ff"/>
<line x1="380.17" y1="660.10" x2="380.17" y2="663.16" stroke="#0000ff" stroke-width="0.8"/>
<line x1="378.67" y1="660.10" x2="381.67" y2="660.10" stroke="#0000ff" stroke-width="0.8"/>
<line x1="378.67" y1="663.16" x2="381.67" y2="663.16" stroke="#0000ff" stroke-width="0.8"/>
<circle cx="380.17" cy="661.63" r="2.0" fill="#0000ff"/>
<line x1="387.53" y1="615.48" x2="387.53" y2="668.52" stroke="#0000ff" stroke-width="0.8"/>
<line x1="386.03" y1="615.48" x2="389.03" y2="615.48" stroke="#0000ff" stroke-width="0.8"/>
<line x1="386.03" y1="668.52" x2="389.03" y2="668.52" stroke="#0000ff" stroke-width="0.8"/>
<circle cx="387.53" cy="642.00" r="2.0" fill="#0000ff"/>
<line x1="394.89" y1="606.46" x2="394.89" y2="637.06" stroke="#0000ff" stroke-width="0.8"/>
<line x1="393.39" y1="606.46" x2="396.39" y2="606.46" stroke="#0000ff" stroke-width="0.8"/>
<line x1="393.39" y1="637.06" x2="396.39" y2="637.06" stroke="#0000ff" stroke-width="0.8"/>
<circle cx="394.89" cy="621.76" r="2.0" fill="#0000ff"/>
<line x1="402.25" y1="610.77" x2="402.25" y2="613.83" stroke="#0000ff" stroke-width="0.8"/>
<line x1="400.75" y1="610.77" x2="403.75" y2="610.77" stroke="#0000ff" stroke-width="0.8"/>
<line x1="400.75" y1="613.83" x2="403.75" y2="613.83" stroke="#0000ff" stroke-width="0.8"/>
<circle cx="402.25" cy="612.30" r="2.0" fill="#0000ff"/>
<circle cx="409.62" cy="618.30" r="2.0" fill="#0000ff"/>
<line x1="416.98" y1="614.96" x2="416.98" y2="620.06" stroke="#0000ff" stroke-width="0.8"/>
<line x1="415.48" y1="614.96" x2="418.48" y2="614.96" stroke="#0000ff" stroke-width="0.8"/>
<line x1="415.48" y1="620.06" x2="418.48" y2="620.06" stroke="#0000ff" stroke-width="0.8"/>
<circle cx="416.98" cy="617.51" r="2.0" fill="#0000ff"/>
<line x1="424.34" y1="613.45" x2="424.34" y2="622.63" stroke="#0000ff" stroke-width="0.8"/>
<line x1="422.84" y1="613.45" x2="425.84" y2="613.45" stroke="#0000ff" stroke-width="0.8"/>
<line x1="422.84" y1="622.63" x2="425.84" y2="622.63" stroke="#0000ff" stroke-width="0.8"/>
<circle cx="424.34" cy="618.04" r="2.0" fill="#0000ff"/>
<line x1="431.70" y1="615.49" x2="431.70" y2="620.59" stroke="#0000ff" stroke-width="0.8"/>
<line x1="430.20" y1="615.49" x2="433.20" y2="615.49" stroke="#0000ff" stroke-width="0.8"/>
<line x1="430.20" y1="620.59" x2="433.20" y2="620.59" stroke="#0000ff" stroke-width="0.8"/>
<circle cx="431.70" cy="618.04" r="2.0" fill="#0000ff"/>
<line x1="439.07" y1="613.11" x2="439.07" y2="620.25" stroke="#0000ff" stroke-width="0.8"/>
<line x1="437.57" y1="613.11" x2="440.57" y2="613.11" stroke="#0000ff" stroke-width="0.8"/>
<line x1="437.57" y1="620.25" x2="440.57" y2="620.25" stroke="#0000ff" stroke-width="0.8"/>
<circle cx="439.07" cy="616.68" r="2.0" fill="#0000ff"/>
<line x1="446.43" y1="612.53" x2="446.43" y2="617.63" stroke="#0000ff" stroke-width="0.8"/>
<line x1="444.93" y1="612.53" x2="447.93" y2="612.53" stroke="#0000ff" stroke-width="0.8"/>
<line x1="444.93" y1="617.63" x2="447.93" y2="617.63" stroke="#0000ff" stroke-width="0.8"/>
<circle cx="446.43" cy="615.08" r="2.0" fill="#0000ff"/>
<line x1="453.79" y1="613.12" x2="453.79" y2="618.22" stroke="#0000ff" stroke-width="0.8"/>
<line x1="452.29" y1="613.12" x2="455.29" y2="613.12" stroke="#0000ff" stroke-width="0.8"/>
<line x1="452.29" y1="618.22" x2="455.29" y2="618.22" stroke="#0000ff" stroke-width="0.8"/>
<circle cx="453.79" cy="615.67" r="2.0" fill="#0000ff"/>
<line x1="461.16" y1="614.11" x2="461.16" y2="623.29" stroke="#0000ff" stroke-width="0.8"/>
<line x1="459.66" y1="614.11" x2="462.66" y2="614.11" stroke="#0000ff" stroke-width="0.8"/>
<line x1="459.66" y1="623.29" x2="462.66" y2="623.29" stroke="#0000ff" stroke-width="0.8"/>
<circle cx="461.16" cy="618.70" r="2.0" fill="#0000ff"/>
<circle cx="468.52" cy="618.51" r="2.0" fill="#0000ff"/>
<polyline points="548.95,659.77 549.57,659.77 550.19,659.77 550.81,659.77 551.43,659.77 552.05,659.77 552.67,659.77 553.29,659.77 553.91,659.77 554.53,659.77 555.15,659.77 555.77,659.77 556.39,659.77 557.01,659.77 557.63,659.77 558.25,659.77 558.87,659.77 559.49,659.77 560.11,659.77 560.73,659.77 561.35,659.77 561.97,659.77 562.59,659.77 563.21,659.77 563.83,659.77 564.45,659.77 565.07,659.77 565.69,659.77 566.31,659.77 566.93,659.77 567.55,659.77 568.17,659.77 568.79,659.77 569.41,659.77 570.03,659.77 570.65,659.77 571.27,659.77 571.89,659.77 572.51,659.77 573.13,659.77 573.75,659.77 574.37,659.77 574.99,659.77 575.61,659.77 576.23,659.77 576.85,659.77 577.47,659.77 578.09,659.77 578.71,659.77 579.33,659.77 579.95,659.77 580.57,659.77 581.19,659.77 581.81,659.77 582.43,659.77 583.05,659.77 583.67,659.77 584.29,659.77 584.91,659.77 585.53,659.77 586.15,659.77 586.77,659.77 587.39,659.77 588.01,659.77 588.63,659.77 589.25,659.77 589.87,659.77 590.49,659.77 591.11,659.77 591.73,659.77 592.35,659.77 592.97,659.77 593.59,659.77 594.21,659.77 594.83,659.77 595.45,659.77 596.07,659.77 596.69,659.77 597.31,659.77 597.93,659.77 598.55,659.77 599.17,659.77 599.79,659.77 600.41,659.77 601.03,659.77 601.65,659.77 602.27,659.77 602.89,659.77 603.51,659.77 604.13,659.77 604.75,659.77 605.37,659.77 605.99,659.77 606.61,659.77 607.23,659.77 607.85,659.77 608.47,659.77 609.09,659.77 609.71,659.77 610.33,659.77 610.95,659.77 611.56,659.77 612.18,659.77 612.80,659.77 613.42,659.77 614.04,659.77 614.66,659.77 615.28,659.77 615.90,659.77 616.52,659.77 617.14,659.77 617.76,659.77 618.38,659.77 619.00,659.77 619.62,659.77 620.24,659.77 620.86,659.77 621.48,659.77 622.10,659.77 622.72,659.77 623.34,659.77 623.96,659.77 624.58,659.77 625.20,659.77 625.82,659.77 626.44,659.77 627.06,659.77 627.68,659.77 628.30,659.77 628.92,659.77 629.54,659.77 630.16,659.77 630.78,659.77 631.40,659.77 632.02,659.77 632.64,659.77 633.26,659.77 633.88,659.77 634.50,659.77 635.12,659.77 635.74,659.77 636.36,659.77 636.98,659.77 637.60,659.77 638.22,659.77 638.84,659.77 639.46,659.77 640.08,659.77 640.70,659.77 641.32,659.77 641.94,659.77 642.56,659.77 643.18,659.77 643.80,659.77 644.42,659.77 645.04,659.77 645.66,659.77 646.28,658.58 646.90,658.58 647.52,658.58 648.14,658.58 648.76,658.58 649.38,658.58 650.00,658.58 650.62,658.58 651.24,658.58 651.86,658.58 652.48,658.58 653.10,658.58 653.72,658.58 654.34,658.58 654.96,658.58 655.58,658.58 656.20,658.58 656.82,658.58 657.44,658.58 658.06,658.58 658.68,658.58 659.30,658.58 659.92,658.58 660.54,658.58 661.16,658.58 661.78,658.58 662.40,658.58 663.02,658.58 663.64,658.58 664.26,658.58 664.88,658.58 665.50,658.58 666.12,658.58 666.74,658.58 667.36,658.58 667.98,658.58 668.60,658.58 669.22,658.58 669.84,658.58 670.46,658.58 671.08,658.58 671.70,658.58 672.32,658.58 672.94,658.58" fill="none" stroke="#8c5a1c" stroke-width="1.2"/>
<polyline points="548.95,661.74 549.57,661.74 550.19,661.74 550.81,661.74 551.43,661.74 552.05,661.74 552.67,661.74 553.29,661.74 553.91,661.74 554.53,661.74 555.15,661.74 555.77,661.74 556.39,661.74 557.01,661.74 557.63,661.74 558.25,661.74 558.87,661.74 559.49,661.74 560.11,661.74 560.73,661.74 561.35,661.74 561.97,661.74 562.59,661.74 563.21,661.74 563.83,661.74 564.45,661.74 565.07,661.74 565.69,661.74 566.31,661.74 566.93,661.74 567.55,661.74 568.17,661.74 568.79,661.74 569.41,661.74 570.03,661.74 570.65,661.74 571.27,661.74 571.89,661.74 572.51,661.74 573.13,661.74 573.75,661.74 574.37,661.74 574.99,661.74 575.61,661.74 576.23,661.74 576.85,661.74 577.47,661.74 578.09,661.74 578.71,661.74 579.33,661.74 579.95,661.74 580.57,661.74 581.19,661.74 581.81,661.74 582.43,661.74 583.05,661.74 583.67,661.74 584.29,661.74 584.91,661.74 585.53,661.74 586.15,661.74 586.77,661.74 587.39,661.74 588.01,661.74 588.63,661.74 589.25,661.74 589.87,661.74 590.49,661.74 591.11,661.74 591.73,661.74 592.35,661.74 592.97,661.74 593.59,661.74 594.21,661.74 594.83,661.74 595.45,661.74 596.07,661.74 596.69,661.74 597.31,661.74 597.93,661.74 598.55,661.74 599.17,661.74 599.79,661.74 600.41,661.74 601.03,661.74 601.65,661.74 602.27,661.74 602.89,661.74 603.51,661.74 604.13,661.74 604.75,661.74 605.37,661.74 605.99,661.74 606.61,661.74 607.23,661.74 607.85,661.74 608.47,661.74 609.09,661.74 609.71,661.74 610.33,661.74 610.95,661.74 611.56,661.74 612.18,661.74 612.80,661.74 613.42,661.74 614.04,661.74 614.66,661.74 615.28,661.73 615.90,661.73 616.52,661.73 617.14,661.73 617.76,661.73 618.38,661.73 619.00,661.73 619.62,661.73 620.24,661.73 620.86,661.73 621.48,661.73 622.10,661.73 622.72,661.73 623.34,661.73 623.96,661.73 624.58,661.72 625.20,661.72 625.82,661.72 626.44,661.72 627.06,661.71 627.68,661.71 628.30,661.71 628.92,661.70 629.54,661.70 630.16,661.69 630.78,661.68 631.40,661.67 632.02,661.66 632.64,661.65 633.26,661.64 633.88,661.62 634.50,661.60 635.12,661.58 635.74,661.55 636.36,661.52 636.98,661.49 637.60,661.45 638.22,661.41 638.84,661.36 639.46,661.30 640.08,661.24 640.70,661.17 641.32,661.09 641.94,661.00 642.56,660.90 643.18,660.80 643.80,660.68 644.42,660.56 645.04,660.43 645.66,660.29 646.28,660.15 646.90,660.00 647.52,659.85 648.14,659.69 648.76,659.54 649.38,659.39 650.00,659.25 650.62,659.11 651.24,658.98 651.86,658.85 652.48,658.74 653.10,658.63 653.72,658.53 654.34,658.45 654.96,658.37 655.58,658.30 656.20,658.23 656.82,658.18 657.44,658.13 658.06,658.08 658.68,658.04 659.30,658.01 659.92,657.98 660.54,657.96 661.16,657.93 661.78,657.91 662.40,657.90 663.02,657.88 663.64,657.87 664.26,657.86 664.88,657.85 665.50,657.84 666.12,657.84 666.74,657.83 667.36,657.83 667.98,657.82 668.60,657.82 669.22,657.81 669.84,657.81 670.46,657.81 671.08,657.81 671.70,657.81 672.32,657.80 672.94,657.80" fill="none" stroke="#000000" stroke-width="1.2"/>
<polyline points="548.95,662.92 549.57,662.92 550.19,662.92 550.81,662.92 551.43,662.92 552.05,662.92 552.67,662.92 553.29,662.92 553.91,662.92 554.53,662.92 555.15,662.92 555.77,662.92 556.39,662.92 557.01,662.92 557.63,662.92 558.25,662.92 558.87,662.92 559.49,662.92 560.11,662.92 560.73,662.92 561.35,662.92 561.97,662.92 562.59,662.92 563.21,662.92 563.83,662.92 564.45,662.92 565.07,662.92 565.69,662.92 566.31,662.92 566.93,662.92 567.55,662.92 568.17,662.92 568.79,662.92 569.41,662.92 570.03,662.92 570.65,662.92 571.27,662.92 571.89,662.92 572.51,662.92 573.13,662.92 573.75,662.92 574.37,662.92 574.99,662.92 575.61,662.92 576.23,662.92 576.85,662.92 577.47,662.92 578.09,662.92 578.71,662.92 579.33,662.92 579.95,662.92 580.57,662.92 581.19,662.92 581.81,662.92 582.43,662.92 583.05,662.92 583.67,662.92 584.29,662.92 584.91,662.92 585.53,662.92 586.15,662.92 586.77,662.92 587.39,662.92 588.01,662.92 588.63,662.92 589.25,662.92 589.87,662.92 590.49,662.92 591.11,662.92 591.73,662.92 592.35,662.92 592.97,662.92 593.59,662.92 594.21,662.92 594.83,662.92 595.45,662.92 596.07,662.92 596.69,662.92 597.31,662.92 597.93,662.92 598.55,662.92 599.17,662.92 599.79,662.92 600.41,662.92 601.03,662.92 601.65,662.92 602.27,662.92 602.89,662.92 603.51,662.92 604.13,662.92 604.75,662.92 605.37,662.92 605.99,662.92 606.61,662.92 607.23,662.92 607.85,662.92 608.47,662.92 609.09,662.92 609.71,662.92 610.33,662.92 610.95,662.92 611.56,662.92 612.18,662.92 612.80,662.92 613.42,662.92 614.04,662.92 614.66,662.92 615.28,662.92 615.90,662.92 616.52,662.92 617.14,662.92 617.76,662.92 618.38,662.92 619.00,662.92 619.62,662.92 620.24,662.92 620.86,662.92 621.48,662.92 622.10,662.92 622.72,662.92 623.34,662.92 623.96,662.92 624.58,662.92 625.20,662.92 625.82,662.92 626.44,662.92 627.06,662.92 627.68,662.92 628.30,662.92 628.92,662.92 629.54,662.92 630.16,662.92 630.78,662.92 631.40,662.91 632.02,662.91 632.64,662.91 633.26,662.91 633.88,662.91 634.50,662.91 635.12,662.91 635.74,662.91 636.36,662.91 636.98,662.90 637.60,662.90 638.22,662.90 638.84,662.90 639.46,662.89 640.08,662.89 640.70,662.88 641.32,662.88 641.94,662.87 642.56,662.86 643.18,662.86 643.80,662.85 644.42,662.83 645.04,662.82 645.66,662.80 646.28,662.78 646.90,662.76 647.52,662.73 648.14,662.70 648.76,662.67 649.38,662.63 650.00,662.58 650.62,662.52 651.24,662.46 651.86,662.38 652.48,662.29 653.10,662.19 653.72,662.07 654.34,661.93 654.96,661.77 655.58,661.58 656.20,661.37 656.82,661.12 657.44,660.84 658.06,660.51 658.68,660.14 659.30,659.71 659.92,659.23 660.54,658.68 661.16,658.06 661.78,657.37 662.40,656.59 663.02,655.73 663.64,654.78 664.26,653.75 664.88,652.63 665.50,651.42 666.12,650.14 666.74,648.80 667.36,647.39 667.98,645.95 668.60,644.48 669.22,643.00 669.84,641.53 670.46,640.09 671.08,638.69 671.70,637.35 672.32,636.08 672.94,634.88" fill="none" stroke="#00bb00" stroke-width="1.2"/>
<polyline points="548.95,660.95 549.57,660.95 550.19,660.95 550.81,660.94 551.43,660.94 552.05,660.94 552.67,660.94 553.29,660.94 553.91,660.94 554.53,660.94 555.15,660.94 555.77,660.94 556.39,660.94 557.01,660.94 557.63,660.94 558.25,660.94 558.87,660.94 559.49,660.94 560.11,660.94 560.73,660.94 561.35,660.94 561.97,660.94 562.59,660.94 563.21,660.94 563.83,660.94 564.45,660.94 565.07,660.94 565.69,660.93 566.31,660.93 566.93,660.93 567.55,660.93 568.17,660.93 568.79,660.93 569.41,660.93 570.03,660.93 570.65,660.93 571.27,660.92 571.89,660.92 572.51,660.92 573.13,660.92 573.75,660.92 574.37,660.92 574.99,660.91 575.61,660.91 576.23,660.91 576.85,660.91 577.47,660.90 578.09,660.90 578.71,660.90 579.33,660.89 579.95,660.89 580.57,660.89 581.19,660.88 581.81,660.88 582.43,660.88 583.05,660.87 583.67,660.87 584.29,660.86 584.91,660.86 585.53,660.85 586.15,660.84 586.77,660.84 587.39,660.83 588.01,660.82 588.63,660.81 589.25,660.81 589.87,660.80 590.49,660.79 591.11,660.78 591.73,660.77 592.35,660.75 592.97,660.74 593.59,660.73 594.21,660.72 594.83,660.70 595.45,660.69 596.07,660.67 596.69,660.65 597.31,660.63 597.93,660.61 598.55,660.59 599.17,660.57 599.79,660.55 600.41,660.52 601.03,660.49 601.65,660.47 602.27,660.44 602.89,660.40 603.51,660.37 604.13,660.34 604.75,660.30 605.37,660.26 605.99,660.22 606.61,660.17 607.23,660.13 607.85,660.08 608.47,660.02 609.09,659.97 609.71,659.91 610.33,659.85 610.95,659.78 611.56,659.71 612.18,659.64 612.80,659.56 613.42,659.48 614.04,659.40 614.66,659.31 615.28,659.21 615.90,659.12 616.52,659.01 617.14,658.90 617.76,658.79 618.38,658.67 619.00,658.55 619.62,658.42 620.24,658.28 620.86,658.14 621.48,657.99 622.10,657.84 622.72,657.68 623.34,657.52 623.96,657.35 624.58,657.17 625.20,656.98 625.82,656.79 626.44,656.60 627.06,656.40 627.68,656.19 628.30,655.98 628.92,655.76 629.54,655.54 630.16,655.31 630.78,655.08 631.40,654.84 632.02,654.60 632.64,654.36 633.26,654.11 633.88,653.86 634.50,653.61 635.12,653.36 635.74,653.10 636.36,652.84 636.98,652.59 637.60,652.33 638.22,652.08 638.84,651.82 639.46,651.57 640.08,651.32 640.70,651.07 641.32,650.83 641.94,650.59 642.56,650.35 643.18,650.11 643.80,649.89 644.42,649.66 645.04,649.44 645.66,649.23 646.28,649.02 646.90,648.81 647.52,648.62 648.14,648.43 648.76,648.24 649.38,648.06 650.00,647.89 650.62,647.72 651.24,647.56 651.86,647.40 652.48,647.25 653.10,647.11 653.72,646.97 654.34,646.84 654.96,646.72 655.58,646.60 656.20,646.48 656.82,646.37 657.44,646.27 658.06,646.17 658.68,646.07 659.30,645.98 659.92,645.89 660.54,645.81 661.16,645.73 661.78,645.66 662.40,645.59 663.02,645.52 663.64,645.46 664.26,645.40 664.88,645.34 665.50,645.29 666.12,645.24 666.74,645.19 667.36,645.15 667.98,645.10 668.60,645.06 669.22,645.02 669.84,644.99 670.46,644.95 671.08,644.92 671.70,644.89 672.32,644.86 672.94,644.84" fill="none" stroke="#ff8000" stroke-width="1.2"/>
<polyline points="548.95,662.92 549.57,662.92 550.19,662.92 550.81,662.92 551.43,662.92 552.05,662.92 552.67,662.92 553.29,662.92 553.91,662.92 554.53,662.92 555.15,662.92 555.77,662.92 556.39,662.92 557.01,662.92 557.63,662.92 558.25,662.92 558.87,662.92 559.49,662.92 560.11,662.92 560.73,662.92 561.35,662.92 561.97,662.92 562.59,662.92 563.21,662.92 563.83,662.92 564.45,662.92 565.07,662.92 565.69,662.92 566.31,662.92 566.93,662.92 567.55,662.92 568.17,662.92 568.79,662.92 569.41,662.92 570.03,662.92 570.65,662.92 571.27,662.92 571.89,662.92 572.51,662.92 573.13,662.92 573.75,662.92 574.37,662.92 574.99,662.92 575.61,662.92 576.23,662.92 576.85,662.92 577.47,662.92 578.09,662.92 578.71,662.92 579.33,662.92 579.95,662.92 580.57,662.92 581.19,662.92 581.81,662.92 582.43,662.92 583.05,662.92 583.67,662.92 584.29,662.92 584.91,662.92 585.53,662.92 586.15,662.92 586.77,662.92 587.39,662.92 588.01,662.92 588.63,662.92 589.25,662.92 589.87,662.92 590.49,662.92 591.11,662.92 591.73,662.92 592.35,662.92 592.97,662.92 593.59,662.92 594.21,662.92 594.83,662.92 595.45,662.92 596.07,662.92 596.69,662.92 597.31,662.92 597.93,662.92 598.55,662.92 599.17,662.92 599.79,662.92 600.41,662.92 601.03,662.92 601.65,662.92 602.27,662.92 602.89,662.92 603.51,662.92 604.13,662.92 604.75,662.92 605.37,662.92 605.99,662.92 606.61,662.92 607.23,662.92 607.85,662.92 608.47,662.92 609.09,662.92 609.71,662.92 610.33,662.92 610.95,662.92 611.56,662.92 612.18,662.92 612.80,662.92 613.42,662.92 614.04,662.92 614.66,662.92 615.28,662.92 615.90,662.92 616.52,662.92 617.14,662.92 617.76,662.92 618.38,662.92 619.00,662.92 619.62,662.92 620.24,662.92 620.86,662.92 621.48,662.92 622.10,662.92 622.72,662.92 623.34,662.92 623.96,662.92 624.58,662.92 625.20,662.92 625.82,662.91 626.44,662.91 627.06,662.90 627.68,662.88 628.30,662.83 628.92,662.75 629.54,662.59 630.16,662.26 630.78,661.63 631.40,660.45 632.02,658.38 632.64,655.13 633.26,650.78 633.88,646.12 634.50,642.14 635.12,639.35 635.74,637.67 636.36,636.73 636.98,636.24 637.60,635.99 638.22,635.86 638.84,635.80 639.46,635.76 640.08,635.75 640.70,635.74 641.32,635.74 641.94,635.73 642.56,635.73 643.18,635.73 643.80,635.73 644.42,635.73 645.04,635.73 645.66,635.73 646.28,635.73 646.90,635.73 647.52,635.73 648.14,635.73 648.76,635.73 649.38,635.73 650.00,635.73 650.62,635.73 651.24,635.73 651.86,635.73 652.48,635.73 653.10,635.73 653.72,635.73 654.34,635.73 654.96,635.73 655.58,635.73 656.20,635.73 656.82,635.73 657.44,635.73 658.06,635.73 658.68,635.73 659.30,635.73 659.92,635.73 660.54,635.73 661.16,635.73 661.78,635.73 662.40,635.73 663.02,635.73 663.64,635.73 664.26,635.73 664.88,635.73 665.50,635.73 666.12,635.73 666.74,635.73 667.36,635.73 667.98,635.73 668.60,635.73 669.22,635.73 669.84,635.73 670.46,635.73 671.08,635.73 671.70,635.73 672.32,635.73 672.94,635.73" fill="none" stroke="#b000f0" stroke-width="1.2"/>
<polyline points="548.95,664.10 549.57,664.10 550.19,664.10 550.81,664.10 551.43,664.10 552.05,664.10 552.67,664.10 553.29,664.10 553.91,664.10 554.53,664.10 555.15,664.10 555.77,664.10 556.39,664.10 557.01,664.09 557.63,664.09 558.25,664.08 558.87,664.07 559.49,664.04 560.11,664.00 560.73,663.93 561.35,663.81 561.97,663.60 562.59,663.25 563.21,662.67 563.83,661.70 564.45,660.17 565.07,657.84 565.69,654.54 566.31,650.32 566.93,645.54 567.55,640.85 568.17,636.84 568.79,633.80 569.41,631.70 570.03,630.34 570.65,629.50 571.27,628.98 571.89,628.68 572.51,628.50 573.13,628.39 573.75,628.33 574.37,628.30 574.99,628.28 575.61,628.26 576.23,628.26 576.85,628.25 577.47,628.25 578.09,628.25 578.71,628.25 579.33,628.25 579.95,628.25 580.57,628.25 581.19,628.25 581.81,628.25 582.43,628.25 583.05,628.25 583.67,628.25 584.29,628.25 584.91,628.25 585.53,628.25 586.15,628.25 586.77,628.25 587.39,628.25 588.01,628.25 588.63,628.25 589.25,628.25 589.87,628.25 590.49,628.25 591.11,628.25 591.73,628.25 592.35,628.25 592.97,628.25 593.59,628.25 594.21,628.25 594.83,628.25 595.45,628.25 596.07,628.25 596.69,628.25 597.31,628.25 597.93,628.25 598.55,628.25 599.17,628.25 599.79,628.25 600.41,628.25 601.03,628.25 601.65,628.25 602.27,628.25 602.89,628.25 603.51,628.25 604.13,628.25 604.75,628.25 605.37,628.25 605.99,628.25 606.61,628.25 607.23,628.25 607.85,628.25 608.47,628.25 609.09,628.25 609.71,628.25 610.33,628.25 610.95,628.25 611.56,628.25 612.18,628.25 612.80,628.25 613.42,628.25 614.04,628.25 614.66,628.25 615.28,628.25 615.90,628.25 616.52,628.25 617.14,628.25 617.76,628.25 618.38,628.25 619.00,628.25 619.62,628.25 620.24,628.25 620.86,628.25 621.48,628.25 622.10,628.25 622.72,628.25 623.34,628.25 623.96,628.25 624.58,628.25 625.20,628.25 625.82,628.25 626.44,628.25 627.06,628.25 627.68,628.25 628.30,628.25 628.92,628.25 629.54,628.25 630.16,628.25 630.78,628.25 631.40,628.25 632.02,628.25 632.64,628.25 633.26,628.25 633.88,628.25 634.50,628.25 635.12,628.25 635.74,628.25 636.36,628.25 636.98,628.25 637.60,628.25 638.22,628.25 638.84,628.25 639.46,628.25 640.08,628.25 640.70,628.25 641.32,628.25 641.94,628.25 642.56,628.25 643.18,628.25 643.80,628.25 644.42,628.25 645.04,628.25 645.66,628.25 646.28,628.25 646.90,628.25 647.52,628.25 648.14,628.25 648.76,628.25 649.38,628.25 650.00,628.25 650.62,628.25 651.24,628.25 651.86,628.25 652.48,628.25 653.10,628.25 653.72,628.25 654.34,628.25 654.96,628.25 655.58,628.25 656.20,628.25 656.82,628.25 657.44,628.25 658.06,628.25 658.68,628.25 659.30,628.25 659.92,628.25 660.54,628.25 661.16,628.25 661.78,628.25 662.40,628.25 663.02,628.25 663.64,628.25 664.26,628.25 664.88,628.25 665.50,628.25 666.12,628.25 666.74,628.25 667.36,628.25 667.98,628.25 668.60,628.25 669.22,628.25 669.84,628.25 670.46,628.25 671.08,628.25 671.70,628.25 672.32,628.25 672.94,628.25" fill="none" stroke="#0000ff" stroke-width="1.2"/>
<polyline points="548.95,664.10 549.57,664.10 550.19,664.10 550.81,664.10 551.43,664.10 552.05,664.10 552.67,664.10 553.29,664.10 553.91,664.10 554.53,664.10 555.15,664.10 555.77,664.09 556.39,664.09 557.01,664.08 557.63,664.07 558.25,664.05 558.87,664.02 559.49,663.96 560.11,663.87 560.73,663.70 561.35,663.41 561.97,662.94 562.59,662.13 563.21,660.83 563.83,658.76 564.45,655.65 565.07,651.31 565.69,645.88 566.31,639.91 566.93,634.20 567.55,629.44 568.17,625.90 568.79,623.49 569.41,621.94 570.03,620.98 570.65,620.41 571.27,620.06 571.89,619.86 572.51,619.74 573.13,619.67 573.75,619.63 574.37,619.61 574.99,619.60 575.61,619.59 576.23,619.58 576.85,619.58 577.47,619.58 578.09,619.58 578.71,619.58 579.33,619.58 579.95,619.58 580.57,619.58 581.19,619.58 581.81,619.58 582.43,619.58 583.05,619.58 583.67,619.58 584.29,619.58 584.91,619.58 585.53,619.58 586.15,619.58 586.77,619.58 587.39,619.58 588.01,619.58 588.63,619.58 589.25,619.58 589.87,619.58 590.49,619.58 591.11,619.58 591.73,619.58 592.35,619.58 592.97,619.58 593.59,619.58 594.21,619.58 594.83,619.58 595.45,619.58 596.07,619.58 596.69,619.58 597.31,619.58 597.93,619.58 598.55,619.58 599.17,619.58 599.79,619.58 600.41,619.58 601.03,619.58 601.65,619.58 602.27,619.58 602.89,619.58 603.51,619.58 604.13,619.58 604.75,619.58 605.37,619.58 605.99,619.58 606.61,619.58 607.23,619.58 607.85,619.58 608.47,619.58 609.09,619.58 609.71,619.58 610.33,619.58 610.95,619.58 611.56,619.58 612.18,619.58 612.80,619.58 613.42,619.58 614.04,619.58 614.66,619.58 615.28,619.58 615.90,619.58 616.52,619.58 617.14,619.58 617.76,619.58 618.38,619.58 619.00,619.58 619.62,619.58 620.24,619.58 620.86,619.58 621.48,619.58 622.10,619.58 622.72,619.58 623.34,619.58 623.96,619.58 624.58,619.58 625.20,619.58 625.82,619.58 626.44,619.58 627.06,619.58 627.68,619.58 628.30,619.58 628.92,619.58 629.54,619.58 630.16,619.58 630.78,619.58 631.40,619.58 632.02,619.58 632.64,619.58 633.26,619.58 633.88,619.58 634.50,619.58 635.12,619.58 635.74,619.58 636.36,619.58 636.98,619.58 637.60,619.58 638.22,619.58 638.84,619.58 639.46,619.58 640.08,619.58 640.70,619.58 641.32,619.58 641.94,619.58 642.56,619.58 643.18,619.58 643.80,619.58 644.42,619.58 645.04,619.58 645.66,619.58 646.28,619.58 646.90,619.58 647.52,619.58 648.14,619.58 648.76,619.58 649.38,619.58 650.00,619.58 650.62,619.58 651.24,619.58 651.86,619.58 652.48,619.58 653.10,619.58 653.72,619.58 654.34,619.58 654.96,619.58 655.58,619.58 656.20,619.58 656.82,619.58 657.44,619.58 658.06,619.58 658.68,619.58 659.30,619.58 659.92,619.58 660.54,619.58 661.16,619.58 661.78,619.58 662.40,619.58 663.02,619.58 663.64,619.58 664.26,619.58 664.88,619.58 665.50,619.58 666.12,619.58 666.74,619.58 667.36,619.58 667.98,619.58 668.60,619.58 669.22,619.58 669.84,619.58 670.46,619.58 671.08,619.58 671.70,619.58 672.32,619.58 672.94,619.58" fill="none" stroke="#ff0000" stroke-width="1.2"/>
<circle cx="548.95" cy="659.77" r="2.0" fill="#8c5a1c"/>
<circle cx="566.67" cy="659.77" r="2.0" fill="#8c5a1c"/>
<circle cx="584.38" cy="660.16" r="2.0" fill="#8c5a1c"/>
<circle cx="602.09" cy="660.16" r="2.0" fill="#8c5a1c"/>
<circle cx="619.80" cy="660.16" r="2.0" fill="#8c5a1c"/>
<circle cx="637.51" cy="659.77" r="2.0" fill="#8c5a1c"/>
<circle cx="655.23" cy="658.98" r="2.0" fill="#8c5a1c"/>
<line x1="672.94" y1="657.80" x2="672.94" y2="659.37" stroke="#8c5a1c" stroke-width="0.9"/>
<line x1="671.34" y1="657.80" x2="674.54" y2="657.80" stroke="#8c5a1c" stroke-width="0.9"/>
<line x1="671.34" y1="659.37" x2="674.54" y2="659.37" stroke="#8c5a1c" stroke-width="0.9"/>
<circle cx="672.94" cy="658.58" r="2.0" fill="#8c5a1c"/>
<circle cx="548.95" cy="661.74" r="2.0" fill="#000000"/>
<circle cx="566.67" cy="660.95" r="2.0" fill="#000000"/>
<line x1="584.38" y1="658.19" x2="584.38" y2="660.55" stroke="#000000" stroke-width="0.9"/>
<line x1="582.78" y1="658.19" x2="585.98" y2="658.19" stroke="#000000" stroke-width="0.9"/>
<line x1="582.78" y1="660.55" x2="585.98" y2="660.55" stroke="#000000" stroke-width="0.9"/>
<circle cx="584.38" cy="659.37" r="2.0" fill="#000000"/>
<line x1="602.09" y1="659.37" x2="602.09" y2="661.74" stroke="#000000" stroke-width="0.9"/>
<line x1="600.49" y1="659.37" x2="603.69" y2="659.37" stroke="#000000" stroke-width="0.9"/>
<line x1="600.49" y1="661.74" x2="603.69" y2="661.74" stroke="#000000" stroke-width="0.9"/>
<circle cx="602.09" cy="660.55" r="2.0" fill="#000000"/>
<circle cx="619.80" cy="660.95" r="2.0" fill="#000000"/>
<circle cx="637.51" cy="661.34" r="2.0" fill="#000000"/>
<line x1="655.23" y1="657.01" x2="655.23" y2="660.16" stroke="#000000" stroke-width="0.9"/>
<line x1="653.62" y1="657.01" x2="656.83" y2="657.01" stroke="#000000" stroke-width="0.9"/>
<line x1="653.62" y1="660.16" x2="656.83" y2="660.16" stroke="#000000" stroke-width="0.9"/>
<circle cx="655.23" cy="658.58" r="2.0" fill="#000000"/>
<line x1="672.94" y1="656.61" x2="672.94" y2="658.98" stroke="#000000" stroke-width="0.9"/>
<line x1="671.34" y1="656.61" x2="674.54" y2="656.61" stroke="#000000" stroke-width="0.9"/>
<line x1="671.34" y1="658.98" x2="674.54" y2="658.98" stroke="#000000" stroke-width="0.9"/>
<circle cx="672.94" cy="657.80" r="2.0" fill="#000000"/>
<line x1="548.95" y1="656.22" x2="548.95" y2="665.68" stroke="#ff8000" stroke-width="0.9"/>
<line x1="547.35" y1="656.22" x2="550.55" y2="656.22" stroke="#ff8000" stroke-width="0.9"/>
<line x1="547.35" y1="665.68" x2="550.55" y2="665.68" stroke="#ff8000" stroke-width="0.9"/>
<circle cx="548.95" cy="660.95" r="2.0" fill="#ff8000"/>
<line x1="566.67" y1="656.61" x2="566.67" y2="667.65" stroke="#ff8000" stroke-width="0.9"/>
<line x1="565.07" y1="656.61" x2="568.27" y2="656.61" stroke="#ff8000" stroke-width="0.9"/>
<line x1="565.07" y1="667.65" x2="568.27" y2="667.65" stroke="#ff8000" stroke-width="0.9"/>
<circle cx="566.67" cy="662.13" r="2.0" fill="#ff8000"/>
<line x1="584.38" y1="659.37" x2="584.38" y2="662.52" stroke="#ff8000" stroke-width="0.9"/>
<line x1="582.78" y1="659.37" x2="585.98" y2="659.37" stroke="#ff8000" stroke-width="0.9"/>
<line x1="582.78" y1="662.52" x2="585.98" y2="662.52" stroke="#ff8000" stroke-width="0.9"/>
<circle cx="584.38" cy="660.95" r="2.0" fill="#ff8000"/>
<circle cx="602.09" cy="660.16" r="2.0" fill="#ff8000"/>
<line x1="619.80" y1="651.10" x2="619.80" y2="660.55" stroke="#ff8000" stroke-width="0.9"/>
<line x1="618.20" y1="651.10" x2="621.40" y2="651.10" stroke="#ff8000" stroke-width="0.9"/>
<line x1="618.20" y1="660.55" x2="621.40" y2="660.55" stroke="#ff8000" stroke-width="0.9"/>
<circle cx="619.80" cy="655.83" r="2.0" fill="#ff8000"/>
<line x1="637.51" y1="654.25" x2="637.51" y2="662.13" stroke="#ff8000" stroke-width="0.9"/>
<line x1="635.91" y1="654.25" x2="639.11" y2="654.25" stroke="#ff8000" stroke-width="0.9"/>
<line x1="635.91" y1="662.13" x2="639.11" y2="662.13" stroke="#ff8000" stroke-width="0.9"/>
<circle cx="637.51" cy="658.19" r="2.0" fill="#ff8000"/>
<line x1="655.23" y1="649.52" x2="655.23" y2="652.67" stroke="#ff8000" stroke-width="0.9"/>
<line x1="653.62" y1="649.52" x2="656.83" y2="649.52" stroke="#ff8000" stroke-width="0.9"/>
<line x1="653.62" y1="652.67" x2="656.83" y2="652.67" stroke="#ff8000" stroke-width="0.9"/>
<circle cx="655.23" cy="651.10" r="2.0" fill="#ff8000"/>
<line x1="672.94" y1="643.61" x2="672.94" y2="649.92" stroke="#ff8000" stroke-width="0.9"/>
<line x1="671.34" y1="643.61" x2="674.54" y2="643.61" stroke="#ff8000" stroke-width="0.9"/>
<line x1="671.34" y1="649.92" x2="674.54" y2="649.92" stroke="#ff8000" stroke-width="0.9"/>
<circle cx="672.94" cy="646.76" r="2.0" fill="#ff8000"/>
<line x1="548.95" y1="652.67" x2="548.95" y2="658.98" stroke="#00bb00" stroke-width="0.9"/>
<line x1="547.35" y1="652.67" x2="550.55" y2="652.67" stroke="#00bb00" stroke-width="0.9"/>
<line x1="547.35" y1="658.98" x2="550.55" y2="658.98" stroke="#00bb00" stroke-width="0.9"/>
<circle cx="548.95" cy="655.83" r="2.0" fill="#00bb00"/>
<line x1="566.67" y1="658.98" x2="566.67" y2="662.92" stroke="#00bb00" stroke-width="0.9"/>
<line x1="565.07" y1="658.98" x2="568.27" y2="658.98" stroke="#00bb00" stroke-width="0.9"/>
<line x1="565.07" y1="662.92" x2="568.27" y2="662.92" stroke="#00bb00" stroke-width="0.9"/>
<circle cx="566.67" cy="660.95" r="2.0" fill="#00bb00"/>
<circle cx="584.38" cy="662.52" r="2.0" fill="#00bb00"/>
<circle cx="602.09" cy="664.10" r="2.0" fill="#00bb00"/>
<circle cx="619.80" cy="663.51" r="2.0" fill="#00bb00"/>
<line x1="637.51" y1="662.13" x2="637.51" y2="664.49" stroke="#00bb00" stroke-width="0.9"/>
<line x1="635.91" y1="662.13" x2="639.11" y2="662.13" stroke="#00bb00" stroke-width="0.9"/>
<line x1="635.91" y1="664.49" x2="639.11" y2="664.49" stroke="#00bb00" stroke-width="0.9"/>
<circle cx="637.51" cy="663.31" r="2.0" fill="#00bb00"/>
<line x1="655.23" y1="660.16" x2="655.23" y2="664.89" stroke="#00bb00" stroke-width="0.9"/>
<line x1="653.62" y1="660.16" x2="656.83" y2="660.16" stroke="#00bb00" stroke-width="0.9"/>
<line x1="653.62" y1="664.89" x2="656.83" y2="664.89" stroke="#00bb00" stroke-width="0.9"/>
<circle cx="655.23" cy="662.52" r="2.0" fill="#00bb00"/>
<line x1="672.94" y1="614.85" x2="672.94" y2="658.19" stroke="#00bb00" stroke-width="0.9"/>
<line x1="671.34" y1="614.85" x2="674.54" y2="614.85" stroke="#00bb00" stroke-width="0.9"/>
<line x1="671.34" y1="658.19" x2="674.54" y2="658.19" stroke="#00bb00" stroke-width="0.9"/>
<circle cx="672.94" cy="636.52" r="2.0" fill="#00bb00"/>
<circle cx="548.95" cy="663.31" r="2.0" fill="#b000f0"/>
<circle cx="566.67" cy="663.71" r="2.0" fill="#b000f0"/>
<line x1="584.38" y1="662.92" x2="584.38" y2="665.28" stroke="#b000f0" stroke-width="0.9"/>
<line x1="582.78" y1="662.92" x2="585.98" y2="662.92" stroke="#b000f0" stroke-width="0.9"/>
<line x1="582.78" y1="665.28" x2="585.98" y2="665.28" stroke="#b000f0" stroke-width="0.9"/>
<circle cx="584.38" cy="664.10" r="2.0" fill="#b000f0"/>
<line x1="602.09" y1="655.43" x2="602.09" y2="661.74" stroke="#b000f0" stroke-width="0.9"/>
<line x1="600.49" y1="655.43" x2="603.69" y2="655.43" stroke="#b000f0" stroke-width="0.9"/>
<line x1="600.49" y1="661.74" x2="603.69" y2="661.74" stroke="#b000f0" stroke-width="0.9"/>
<circle cx="602.09" cy="658.58" r="2.0" fill="#b000f0"/>
<line x1="619.80" y1="661.34" x2="619.80" y2="663.71" stroke="#b000f0" stroke-width="0.9"/>
<line x1="618.20" y1="661.34" x2="621.40" y2="661.34" stroke="#b000f0" stroke-width="0.9"/>
<line x1="618.20" y1="663.71" x2="621.40" y2="663.71" stroke="#b000f0" stroke-width="0.9"/>
<circle cx="619.80" cy="662.52" r="2.0" fill="#b000f0"/>
<line x1="637.51" y1="619.97" x2="637.51" y2="651.49" stroke="#b000f0" stroke-width="0.9"/>
<line x1="635.91" y1="619.97" x2="639.11" y2="619.97" stroke="#b000f0" stroke-width="0.9"/>
<line x1="635.91" y1="651.49" x2="639.11" y2="651.49" stroke="#b000f0" stroke-width="0.9"/>
<circle cx="637.51" cy="635.73" r="2.0" fill="#b000f0"/>
<line x1="655.23" y1="625.49" x2="655.23" y2="657.01" stroke="#b000f0" stroke-width="0.9"/>
<line x1="653.62" y1="625.49" x2="656.83" y2="625.49" stroke="#b000f0" stroke-width="0.9"/>
<line x1="653.62" y1="657.01" x2="656.83" y2="657.01" stroke="#b000f0" stroke-width="0.9"/>
<circle cx="655.23" cy="641.25" r="2.0" fill="#b000f0"/>
<line x1="672.94" y1="631.79" x2="672.94" y2="639.67" stroke="#b000f0" stroke-width="0.9"/>
<line x1="671.34" y1="631.79" x2="674.54" y2="631.79" stroke="#b000f0" stroke-width="0.9"/>
<line x1="671.34" y1="639.67" x2="674.54" y2="639.67" stroke="#b000f0" stroke-width="0.9"/>
<circle cx="672.94" cy="635.73" r="2.0" fill="#b000f0"/>
<circle cx="548.95" cy="663.51" r="2.0" fill="#0000ff"/>
<line x1="566.67" y1="626.67" x2="566.67" y2="662.13" stroke="#0000ff" stroke-width="0.9"/>
<line x1="565.07" y1="626.67" x2="568.27" y2="626.67" stroke="#0000ff" stroke-width="0.9"/>
<line x1="565.07" y1="662.13" x2="568.27" y2="662.13" stroke="#0000ff" stroke-width="0.9"/>
<circle cx="566.67" cy="644.40" r="2.0" fill="#0000ff"/>
<line x1="584.38" y1="611.70" x2="584.38" y2="643.22" stroke="#0000ff" stroke-width="0.9"/>
<line x1="582.78" y1="611.70" x2="585.98" y2="611.70" stroke="#0000ff" stroke-width="0.9"/>
<line x1="582.78" y1="643.22" x2="585.98" y2="643.22" stroke="#0000ff" stroke-width="0.9"/>
<circle cx="584.38" cy="627.46" r="2.0" fill="#0000ff"/>
<line x1="602.09" y1="633.37" x2="602.09" y2="641.25" stroke="#0000ff" stroke-width="0.9"/>
<line x1="600.49" y1="633.37" x2="603.69" y2="633.37" stroke="#0000ff" stroke-width="0.9"/>
<line x1="600.49" y1="641.25" x2="603.69" y2="641.25" stroke="#0000ff" stroke-width="0.9"/>
<circle cx="602.09" cy="637.31" r="2.0" fill="#0000ff"/>
<line x1="619.80" y1="620.76" x2="619.80" y2="627.06" stroke="#0000ff" stroke-width="0.9"/>
<line x1="618.20" y1="620.76" x2="621.40" y2="620.76" stroke="#0000ff" stroke-width="0.9"/>
<line x1="618.20" y1="627.06" x2="621.40" y2="627.06" stroke="#0000ff" stroke-width="0.9"/>
<circle cx="619.80" cy="623.91" r="2.0" fill="#0000ff"/>
<line x1="637.51" y1="623.12" x2="637.51" y2="629.43" stroke="#0000ff" stroke-width="0.9"/>
<line x1="635.91" y1="623.12" x2="639.11" y2="623.12" stroke="#0000ff" stroke-width="0.9"/>
<line x1="635.91" y1="629.43" x2="639.11" y2="629.43" stroke="#0000ff" stroke-width="0.9"/>
<circle cx="637.51" cy="626.28" r="2.0" fill="#0000ff"/>
<line x1="655.23" y1="619.18" x2="655.23" y2="628.64" stroke="#0000ff" stroke-width="0.9"/>
<line x1="653.62" y1="619.18" x2="656.83" y2="619.18" stroke="#0000ff" stroke-width="0.9"/>
<line x1="653.62" y1="628.64" x2="656.83" y2="628.64" stroke="#0000ff" stroke-width="0.9"/>
<circle cx="655.23" cy="623.91" r="2.0" fill="#0000ff"/>
<line x1="672.94" y1="623.12" x2="672.94" y2="637.31" stroke="#0000ff" stroke-width="0.9"/>
<line x1="671.34" y1="623.12" x2="674.54" y2="623.12" stroke="#0000ff" stroke-width="0.9"/>
<line x1="671.34" y1="637.31" x2="674.54" y2="637.31" stroke="#0000ff" stroke-width="0.9"/>
<circle cx="672.94" cy="630.22" r="2.0" fill="#0000ff"/>
<circle cx="548.95" cy="662.13" r="2.0" fill="#ff0000"/>
<line x1="566.67" y1="627.06" x2="566.67" y2="650.70" stroke="#ff0000" stroke-width="0.9"/>
<line x1="565.07" y1="627.06" x2="568.27" y2="627.06" stroke="#ff0000" stroke-width="0.9"/>
<line x1="565.07" y1="650.70" x2="568.27" y2="650.70" stroke="#ff0000" stroke-width="0.9"/>
<circle cx="566.67" cy="638.88" r="2.0" fill="#ff0000"/>
<line x1="584.38" y1="608.94" x2="584.38" y2="620.76" stroke="#ff0000" stroke-width="0.9"/>
<line x1="582.78" y1="608.94" x2="585.98" y2="608.94" stroke="#ff0000" stroke-width="0.9"/>
<line x1="582.78" y1="620.76" x2="585.98" y2="620.76" stroke="#ff0000" stroke-width="0.9"/>
<circle cx="584.38" cy="614.85" r="2.0" fill="#ff0000"/>
<line x1="602.09" y1="622.73" x2="602.09" y2="629.03" stroke="#ff0000" stroke-width="0.9"/>
<line x1="600.49" y1="622.73" x2="603.69" y2="622.73" stroke="#ff0000" stroke-width="0.9"/>
<line x1="600.49" y1="629.03" x2="603.69" y2="629.03" stroke="#ff0000" stroke-width="0.9"/>
<circle cx="602.09" cy="625.88" r="2.0" fill="#ff0000"/>
<line x1="619.80" y1="608.55" x2="619.80" y2="625.88" stroke="#ff0000" stroke-width="0.9"/>
<line x1="618.20" y1="608.55" x2="621.40" y2="608.55" stroke="#ff0000" stroke-width="0.9"/>
<line x1="618.20" y1="625.88" x2="621.40" y2="625.88" stroke="#ff0000" stroke-width="0.9"/>
<circle cx="619.80" cy="617.21" r="2.0" fill="#ff0000"/>
<line x1="637.51" y1="603.82" x2="637.51" y2="621.15" stroke="#ff0000" stroke-width="0.9"/>
<line x1="635.91" y1="603.82" x2="639.11" y2="603.82" stroke="#ff0000" stroke-width="0.9"/>
<line x1="635.91" y1="621.15" x2="639.11" y2="621.15" stroke="#ff0000" stroke-width="0.9"/>
<circle cx="637.51" cy="612.49" r="2.0" fill="#ff0000"/>
<line x1="655.23" y1="607.36" x2="655.23" y2="631.00" stroke="#ff0000" stroke-width="0.9"/>
<line x1="653.62" y1="607.36" x2="656.83" y2="607.36" stroke="#ff0000" stroke-width="0.9"/>
<line x1="653.62" y1="631.00" x2="656.83" y2="631.00" stroke="#ff0000" stroke-width="0.9"/>
<circle cx="655.23" cy="619.18" r="2.0" fill="#ff0000"/>
<line x1="672.94" y1="622.73" x2="672.94" y2="629.03" stroke="#ff0000" stroke-width="0.9"/>
<line x1="671.34" y1="622.73" x2="674.54" y2="622.73" stroke="#ff0000" stroke-width="0.9"/>
<line x1="671.34" y1="629.03" x2="674.54" y2="629.03" stroke="#ff0000" stroke-width="0.9"/>
<circle cx="672.94" cy="625.88" r="2.0" fill="#ff0000"/>
</svg>
</body></html>
